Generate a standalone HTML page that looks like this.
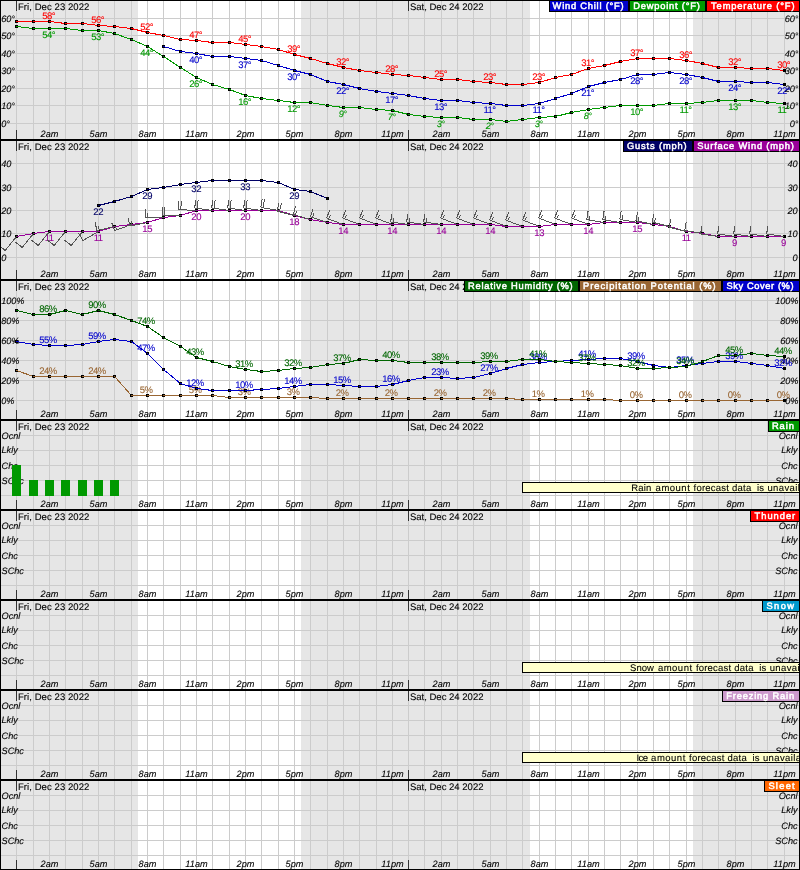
<!DOCTYPE html>
<html><head><meta charset="utf-8"><title>Hourly Weather Forecast Graph</title>
<style>html,body{margin:0;padding:0;background:#fff;}body{width:800px;height:870px;overflow:hidden;font-family:"Liberation Sans",sans-serif;}</style>
</head><body>
<svg width="800" height="870" viewBox="0 0 800 870" style="display:block;will-change:transform;font-family:'Liberation Sans',sans-serif" text-rendering="geometricPrecision">
<rect x="0" y="0" width="800" height="870" fill="#fff"/>
<rect x="0" y="0" width="800" height="140" fill="#fff"/>
<rect x="1" y="1" width="137" height="138" fill="#e6e6e6"/>
<rect x="301" y="1" width="229" height="138" fill="#e6e6e6"/>
<rect x="693" y="1" width="106" height="138" fill="#e6e6e6"/>
<rect x="16" y="1" width="1" height="138" fill="#cccccc"/>
<rect x="33" y="1" width="1" height="138" fill="#cccccc"/>
<rect x="49" y="1" width="1" height="138" fill="#cccccc"/>
<rect x="65" y="1" width="1" height="138" fill="#cccccc"/>
<rect x="82" y="1" width="1" height="138" fill="#cccccc"/>
<rect x="98" y="1" width="1" height="138" fill="#cccccc"/>
<rect x="114" y="1" width="1" height="138" fill="#cccccc"/>
<rect x="131" y="1" width="1" height="138" fill="#cccccc"/>
<rect x="147" y="1" width="1" height="138" fill="#cccccc"/>
<rect x="163" y="1" width="1" height="138" fill="#cccccc"/>
<rect x="180" y="1" width="1" height="138" fill="#cccccc"/>
<rect x="196" y="1" width="1" height="138" fill="#cccccc"/>
<rect x="212" y="1" width="1" height="138" fill="#cccccc"/>
<rect x="229" y="1" width="1" height="138" fill="#cccccc"/>
<rect x="245" y="1" width="1" height="138" fill="#cccccc"/>
<rect x="261" y="1" width="1" height="138" fill="#cccccc"/>
<rect x="278" y="1" width="1" height="138" fill="#cccccc"/>
<rect x="294" y="1" width="1" height="138" fill="#cccccc"/>
<rect x="310" y="1" width="1" height="138" fill="#cccccc"/>
<rect x="327" y="1" width="1" height="138" fill="#cccccc"/>
<rect x="343" y="1" width="1" height="138" fill="#cccccc"/>
<rect x="359" y="1" width="1" height="138" fill="#cccccc"/>
<rect x="376" y="1" width="1" height="138" fill="#cccccc"/>
<rect x="392" y="1" width="1" height="138" fill="#cccccc"/>
<rect x="408" y="1" width="1" height="138" fill="#cccccc"/>
<rect x="424" y="1" width="1" height="138" fill="#cccccc"/>
<rect x="441" y="1" width="1" height="138" fill="#cccccc"/>
<rect x="457" y="1" width="1" height="138" fill="#cccccc"/>
<rect x="473" y="1" width="1" height="138" fill="#cccccc"/>
<rect x="490" y="1" width="1" height="138" fill="#cccccc"/>
<rect x="506" y="1" width="1" height="138" fill="#cccccc"/>
<rect x="522" y="1" width="1" height="138" fill="#cccccc"/>
<rect x="539" y="1" width="1" height="138" fill="#cccccc"/>
<rect x="555" y="1" width="1" height="138" fill="#cccccc"/>
<rect x="571" y="1" width="1" height="138" fill="#cccccc"/>
<rect x="588" y="1" width="1" height="138" fill="#cccccc"/>
<rect x="604" y="1" width="1" height="138" fill="#cccccc"/>
<rect x="620" y="1" width="1" height="138" fill="#cccccc"/>
<rect x="637" y="1" width="1" height="138" fill="#cccccc"/>
<rect x="653" y="1" width="1" height="138" fill="#cccccc"/>
<rect x="669" y="1" width="1" height="138" fill="#cccccc"/>
<rect x="686" y="1" width="1" height="138" fill="#cccccc"/>
<rect x="702" y="1" width="1" height="138" fill="#cccccc"/>
<rect x="718" y="1" width="1" height="138" fill="#cccccc"/>
<rect x="735" y="1" width="1" height="138" fill="#cccccc"/>
<rect x="751" y="1" width="1" height="138" fill="#cccccc"/>
<rect x="767" y="1" width="1" height="138" fill="#cccccc"/>
<rect x="784" y="1" width="1" height="138" fill="#cccccc"/>
<rect x="1" y="123" width="798" height="1" fill="#cccccc"/>
<rect x="1" y="105" width="798" height="1" fill="#cccccc"/>
<rect x="1" y="88" width="798" height="1" fill="#cccccc"/>
<rect x="1" y="70" width="798" height="1" fill="#cccccc"/>
<rect x="1" y="53" width="798" height="1" fill="#cccccc"/>
<rect x="1" y="35" width="798" height="1" fill="#cccccc"/>
<rect x="1" y="18" width="798" height="1" fill="#cccccc"/>
<rect x="16" y="1" width="1" height="10" fill="#333"/>
<rect x="16" y="130" width="1" height="9" fill="#333"/>
<text x="17.9" y="9.7" fill="#000" text-anchor="start" style="font-size:9.5px;stroke:#000;stroke-width:0.1px;" textLength="71.5" lengthAdjust="spacing">Fri, Dec 23 2022</text>
<rect x="408" y="1" width="1" height="10" fill="#333"/>
<rect x="408" y="130" width="1" height="9" fill="#333"/>
<text x="409.9" y="9.7" fill="#000" text-anchor="start" style="font-size:9.5px;stroke:#000;stroke-width:0.1px;" textLength="73.6" lengthAdjust="spacing">Sat, Dec 24 2022</text>
<text x="49.5" y="136.8" fill="#000" text-anchor="middle" style="font-size:9.2px;stroke:#000;stroke-width:0.1px;font-style:italic;">2am</text>
<text x="98.5" y="136.8" fill="#000" text-anchor="middle" style="font-size:9.2px;stroke:#000;stroke-width:0.1px;font-style:italic;">5am</text>
<text x="147.5" y="136.8" fill="#000" text-anchor="middle" style="font-size:9.2px;stroke:#000;stroke-width:0.1px;font-style:italic;">8am</text>
<text x="196.5" y="136.8" fill="#000" text-anchor="middle" style="font-size:9.2px;stroke:#000;stroke-width:0.1px;font-style:italic;">11am</text>
<text x="245.5" y="136.8" fill="#000" text-anchor="middle" style="font-size:9.2px;stroke:#000;stroke-width:0.1px;font-style:italic;">2pm</text>
<text x="294.5" y="136.8" fill="#000" text-anchor="middle" style="font-size:9.2px;stroke:#000;stroke-width:0.1px;font-style:italic;">5pm</text>
<text x="343.5" y="136.8" fill="#000" text-anchor="middle" style="font-size:9.2px;stroke:#000;stroke-width:0.1px;font-style:italic;">8pm</text>
<text x="392.5" y="136.8" fill="#000" text-anchor="middle" style="font-size:9.2px;stroke:#000;stroke-width:0.1px;font-style:italic;">11pm</text>
<text x="441.5" y="136.8" fill="#000" text-anchor="middle" style="font-size:9.2px;stroke:#000;stroke-width:0.1px;font-style:italic;">2am</text>
<text x="490.5" y="136.8" fill="#000" text-anchor="middle" style="font-size:9.2px;stroke:#000;stroke-width:0.1px;font-style:italic;">5am</text>
<text x="539.5" y="136.8" fill="#000" text-anchor="middle" style="font-size:9.2px;stroke:#000;stroke-width:0.1px;font-style:italic;">8am</text>
<text x="588.5" y="136.8" fill="#000" text-anchor="middle" style="font-size:9.2px;stroke:#000;stroke-width:0.1px;font-style:italic;">11am</text>
<text x="637.5" y="136.8" fill="#000" text-anchor="middle" style="font-size:9.2px;stroke:#000;stroke-width:0.1px;font-style:italic;">2pm</text>
<text x="686.5" y="136.8" fill="#000" text-anchor="middle" style="font-size:9.2px;stroke:#000;stroke-width:0.1px;font-style:italic;">5pm</text>
<text x="735.5" y="136.8" fill="#000" text-anchor="middle" style="font-size:9.2px;stroke:#000;stroke-width:0.1px;font-style:italic;">8pm</text>
<text x="784.5" y="136.8" fill="#000" text-anchor="middle" style="font-size:9.2px;stroke:#000;stroke-width:0.1px;font-style:italic;">11pm</text>
<text x="1.3" y="126.9" fill="#000" text-anchor="start" style="font-size:9.2px;stroke:#000;stroke-width:0.1px;font-style:italic;letter-spacing:-0.1px;">0°</text>
<text x="798.4" y="126.9" fill="#000" text-anchor="end" style="font-size:9.2px;stroke:#000;stroke-width:0.1px;font-style:italic;letter-spacing:-0.1px;">0°</text>
<text x="1.3" y="108.9" fill="#000" text-anchor="start" style="font-size:9.2px;stroke:#000;stroke-width:0.1px;font-style:italic;letter-spacing:-0.1px;">10°</text>
<text x="798.4" y="108.9" fill="#000" text-anchor="end" style="font-size:9.2px;stroke:#000;stroke-width:0.1px;font-style:italic;letter-spacing:-0.1px;">10°</text>
<text x="1.3" y="91.9" fill="#000" text-anchor="start" style="font-size:9.2px;stroke:#000;stroke-width:0.1px;font-style:italic;letter-spacing:-0.1px;">20°</text>
<text x="798.4" y="91.9" fill="#000" text-anchor="end" style="font-size:9.2px;stroke:#000;stroke-width:0.1px;font-style:italic;letter-spacing:-0.1px;">20°</text>
<text x="1.3" y="73.9" fill="#000" text-anchor="start" style="font-size:9.2px;stroke:#000;stroke-width:0.1px;font-style:italic;letter-spacing:-0.1px;">30°</text>
<text x="798.4" y="73.9" fill="#000" text-anchor="end" style="font-size:9.2px;stroke:#000;stroke-width:0.1px;font-style:italic;letter-spacing:-0.1px;">30°</text>
<text x="1.3" y="56.9" fill="#000" text-anchor="start" style="font-size:9.2px;stroke:#000;stroke-width:0.1px;font-style:italic;letter-spacing:-0.1px;">40°</text>
<text x="798.4" y="56.9" fill="#000" text-anchor="end" style="font-size:9.2px;stroke:#000;stroke-width:0.1px;font-style:italic;letter-spacing:-0.1px;">40°</text>
<text x="1.3" y="38.9" fill="#000" text-anchor="start" style="font-size:9.2px;stroke:#000;stroke-width:0.1px;font-style:italic;letter-spacing:-0.1px;">50°</text>
<text x="798.4" y="38.9" fill="#000" text-anchor="end" style="font-size:9.2px;stroke:#000;stroke-width:0.1px;font-style:italic;letter-spacing:-0.1px;">50°</text>
<text x="1.3" y="21.9" fill="#000" text-anchor="start" style="font-size:9.2px;stroke:#000;stroke-width:0.1px;font-style:italic;letter-spacing:-0.1px;">60°</text>
<text x="798.4" y="21.9" fill="#000" text-anchor="end" style="font-size:9.2px;stroke:#000;stroke-width:0.1px;font-style:italic;letter-spacing:-0.1px;">60°</text>
<polyline points="16.5,26.5 33.5,28.5 49.5,28.5 65.5,28.5 82.5,30.5 98.5,30.5 114.5,33.5 131.5,39.5 147.5,46.5 163.5,56.5 180.5,67.5 196.5,77.5 212.5,84.5 229.5,89.5 245.5,95.5 261.5,98.5 278.5,100.5 294.5,102.5 310.5,102.5 327.5,105.5 343.5,107.5 359.5,107.5 376.5,109.5 392.5,110.5 408.5,114.5 424.5,116.5 441.5,117.5 457.5,117.5 473.5,119.5 490.5,119.5 506.5,121.5 522.5,119.5 539.5,117.5 555.5,116.5 571.5,112.5 588.5,109.5 604.5,107.5 620.5,105.5 637.5,105.5 653.5,105.5 669.5,103.5 686.5,103.5 702.5,102.5 718.5,100.5 735.5,100.5 751.5,100.5 767.5,102.5 784.5,103.5" fill="none" stroke="#009900" stroke-width="1" shape-rendering="crispEdges"/>
<rect x="15" y="25" width="3" height="3" fill="#000"/>
<rect x="32" y="27" width="3" height="3" fill="#000"/>
<rect x="48" y="27" width="3" height="3" fill="#000"/>
<rect x="64" y="27" width="3" height="3" fill="#000"/>
<rect x="81" y="29" width="3" height="3" fill="#000"/>
<rect x="97" y="29" width="3" height="3" fill="#000"/>
<rect x="113" y="32" width="3" height="3" fill="#000"/>
<rect x="130" y="38" width="3" height="3" fill="#000"/>
<rect x="146" y="45" width="3" height="3" fill="#000"/>
<rect x="162" y="55" width="3" height="3" fill="#000"/>
<rect x="179" y="66" width="3" height="3" fill="#000"/>
<rect x="195" y="76" width="3" height="3" fill="#000"/>
<rect x="211" y="83" width="3" height="3" fill="#000"/>
<rect x="228" y="88" width="3" height="3" fill="#000"/>
<rect x="244" y="94" width="3" height="3" fill="#000"/>
<rect x="260" y="97" width="3" height="3" fill="#000"/>
<rect x="277" y="99" width="3" height="3" fill="#000"/>
<rect x="293" y="101" width="3" height="3" fill="#000"/>
<rect x="309" y="101" width="3" height="3" fill="#000"/>
<rect x="326" y="104" width="3" height="3" fill="#000"/>
<rect x="342" y="106" width="3" height="3" fill="#000"/>
<rect x="358" y="106" width="3" height="3" fill="#000"/>
<rect x="375" y="108" width="3" height="3" fill="#000"/>
<rect x="391" y="109" width="3" height="3" fill="#000"/>
<rect x="407" y="113" width="3" height="3" fill="#000"/>
<rect x="423" y="115" width="3" height="3" fill="#000"/>
<rect x="440" y="116" width="3" height="3" fill="#000"/>
<rect x="456" y="116" width="3" height="3" fill="#000"/>
<rect x="472" y="118" width="3" height="3" fill="#000"/>
<rect x="489" y="118" width="3" height="3" fill="#000"/>
<rect x="505" y="120" width="3" height="3" fill="#000"/>
<rect x="521" y="118" width="3" height="3" fill="#000"/>
<rect x="538" y="116" width="3" height="3" fill="#000"/>
<rect x="554" y="115" width="3" height="3" fill="#000"/>
<rect x="570" y="111" width="3" height="3" fill="#000"/>
<rect x="587" y="108" width="3" height="3" fill="#000"/>
<rect x="603" y="106" width="3" height="3" fill="#000"/>
<rect x="619" y="104" width="3" height="3" fill="#000"/>
<rect x="636" y="104" width="3" height="3" fill="#000"/>
<rect x="652" y="104" width="3" height="3" fill="#000"/>
<rect x="668" y="102" width="3" height="3" fill="#000"/>
<rect x="685" y="102" width="3" height="3" fill="#000"/>
<rect x="701" y="101" width="3" height="3" fill="#000"/>
<rect x="717" y="99" width="3" height="3" fill="#000"/>
<rect x="734" y="99" width="3" height="3" fill="#000"/>
<rect x="750" y="99" width="3" height="3" fill="#000"/>
<rect x="766" y="101" width="3" height="3" fill="#000"/>
<rect x="783" y="102" width="3" height="3" fill="#000"/>
<rect x="16" y="26" width="1" height="1" fill="#009900"/>
<rect x="17" y="26" width="1" height="1" fill="#009900"/>
<rect x="33" y="28" width="1" height="1" fill="#009900"/>
<rect x="34" y="28" width="1" height="1" fill="#009900"/>
<rect x="49" y="28" width="1" height="1" fill="#009900"/>
<rect x="50" y="28" width="1" height="1" fill="#009900"/>
<rect x="65" y="28" width="1" height="1" fill="#009900"/>
<rect x="66" y="28" width="1" height="1" fill="#009900"/>
<rect x="82" y="30" width="1" height="1" fill="#009900"/>
<rect x="83" y="30" width="1" height="1" fill="#009900"/>
<rect x="98" y="30" width="1" height="1" fill="#009900"/>
<rect x="99" y="30" width="1" height="1" fill="#009900"/>
<rect x="114" y="33" width="1" height="1" fill="#009900"/>
<rect x="115" y="33" width="1" height="1" fill="#009900"/>
<rect x="131" y="39" width="1" height="1" fill="#009900"/>
<rect x="132" y="39" width="1" height="1" fill="#009900"/>
<rect x="147" y="46" width="1" height="1" fill="#009900"/>
<rect x="148" y="47" width="1" height="1" fill="#009900"/>
<rect x="163" y="56" width="1" height="1" fill="#009900"/>
<rect x="164" y="57" width="1" height="1" fill="#009900"/>
<rect x="180" y="67" width="1" height="1" fill="#009900"/>
<rect x="181" y="68" width="1" height="1" fill="#009900"/>
<rect x="196" y="77" width="1" height="1" fill="#009900"/>
<rect x="197" y="77" width="1" height="1" fill="#009900"/>
<rect x="212" y="84" width="1" height="1" fill="#009900"/>
<rect x="213" y="84" width="1" height="1" fill="#009900"/>
<rect x="229" y="89" width="1" height="1" fill="#009900"/>
<rect x="230" y="89" width="1" height="1" fill="#009900"/>
<rect x="245" y="95" width="1" height="1" fill="#009900"/>
<rect x="246" y="95" width="1" height="1" fill="#009900"/>
<rect x="261" y="98" width="1" height="1" fill="#009900"/>
<rect x="262" y="98" width="1" height="1" fill="#009900"/>
<rect x="278" y="100" width="1" height="1" fill="#009900"/>
<rect x="279" y="100" width="1" height="1" fill="#009900"/>
<rect x="294" y="102" width="1" height="1" fill="#009900"/>
<rect x="295" y="102" width="1" height="1" fill="#009900"/>
<rect x="310" y="102" width="1" height="1" fill="#009900"/>
<rect x="311" y="102" width="1" height="1" fill="#009900"/>
<rect x="327" y="105" width="1" height="1" fill="#009900"/>
<rect x="328" y="105" width="1" height="1" fill="#009900"/>
<rect x="343" y="107" width="1" height="1" fill="#009900"/>
<rect x="344" y="107" width="1" height="1" fill="#009900"/>
<rect x="359" y="107" width="1" height="1" fill="#009900"/>
<rect x="360" y="107" width="1" height="1" fill="#009900"/>
<rect x="376" y="109" width="1" height="1" fill="#009900"/>
<rect x="377" y="109" width="1" height="1" fill="#009900"/>
<rect x="392" y="110" width="1" height="1" fill="#009900"/>
<rect x="393" y="110" width="1" height="1" fill="#009900"/>
<rect x="408" y="114" width="1" height="1" fill="#009900"/>
<rect x="409" y="114" width="1" height="1" fill="#009900"/>
<rect x="424" y="116" width="1" height="1" fill="#009900"/>
<rect x="425" y="116" width="1" height="1" fill="#009900"/>
<rect x="441" y="117" width="1" height="1" fill="#009900"/>
<rect x="442" y="117" width="1" height="1" fill="#009900"/>
<rect x="457" y="117" width="1" height="1" fill="#009900"/>
<rect x="458" y="117" width="1" height="1" fill="#009900"/>
<rect x="473" y="119" width="1" height="1" fill="#009900"/>
<rect x="474" y="119" width="1" height="1" fill="#009900"/>
<rect x="490" y="119" width="1" height="1" fill="#009900"/>
<rect x="491" y="119" width="1" height="1" fill="#009900"/>
<rect x="506" y="121" width="1" height="1" fill="#009900"/>
<rect x="507" y="121" width="1" height="1" fill="#009900"/>
<rect x="522" y="119" width="1" height="1" fill="#009900"/>
<rect x="523" y="119" width="1" height="1" fill="#009900"/>
<rect x="539" y="117" width="1" height="1" fill="#009900"/>
<rect x="540" y="117" width="1" height="1" fill="#009900"/>
<rect x="555" y="116" width="1" height="1" fill="#009900"/>
<rect x="556" y="116" width="1" height="1" fill="#009900"/>
<rect x="571" y="112" width="1" height="1" fill="#009900"/>
<rect x="572" y="112" width="1" height="1" fill="#009900"/>
<rect x="588" y="109" width="1" height="1" fill="#009900"/>
<rect x="589" y="109" width="1" height="1" fill="#009900"/>
<rect x="604" y="107" width="1" height="1" fill="#009900"/>
<rect x="605" y="107" width="1" height="1" fill="#009900"/>
<rect x="620" y="105" width="1" height="1" fill="#009900"/>
<rect x="621" y="105" width="1" height="1" fill="#009900"/>
<rect x="637" y="105" width="1" height="1" fill="#009900"/>
<rect x="638" y="105" width="1" height="1" fill="#009900"/>
<rect x="653" y="105" width="1" height="1" fill="#009900"/>
<rect x="654" y="105" width="1" height="1" fill="#009900"/>
<rect x="669" y="103" width="1" height="1" fill="#009900"/>
<rect x="670" y="103" width="1" height="1" fill="#009900"/>
<rect x="686" y="103" width="1" height="1" fill="#009900"/>
<rect x="687" y="103" width="1" height="1" fill="#009900"/>
<rect x="702" y="102" width="1" height="1" fill="#009900"/>
<rect x="703" y="102" width="1" height="1" fill="#009900"/>
<rect x="718" y="100" width="1" height="1" fill="#009900"/>
<rect x="719" y="100" width="1" height="1" fill="#009900"/>
<rect x="735" y="100" width="1" height="1" fill="#009900"/>
<rect x="736" y="100" width="1" height="1" fill="#009900"/>
<rect x="751" y="100" width="1" height="1" fill="#009900"/>
<rect x="752" y="100" width="1" height="1" fill="#009900"/>
<rect x="767" y="102" width="1" height="1" fill="#009900"/>
<rect x="768" y="102" width="1" height="1" fill="#009900"/>
<text x="48.6" y="37.6" fill="#009900" text-anchor="middle" style="font-size:9.5px;stroke:#009900;stroke-width:0.1px;letter-spacing:-0.5px;">54°</text>
<text x="97.6" y="39.6" fill="#009900" text-anchor="middle" style="font-size:9.5px;stroke:#009900;stroke-width:0.1px;letter-spacing:-0.5px;">53°</text>
<text x="146.6" y="55.6" fill="#009900" text-anchor="middle" style="font-size:9.5px;stroke:#009900;stroke-width:0.1px;letter-spacing:-0.5px;">44°</text>
<text x="195.6" y="86.6" fill="#009900" text-anchor="middle" style="font-size:9.5px;stroke:#009900;stroke-width:0.1px;letter-spacing:-0.5px;">26°</text>
<text x="244.6" y="104.6" fill="#009900" text-anchor="middle" style="font-size:9.5px;stroke:#009900;stroke-width:0.1px;letter-spacing:-0.5px;">16°</text>
<text x="293.6" y="111.6" fill="#009900" text-anchor="middle" style="font-size:9.5px;stroke:#009900;stroke-width:0.1px;letter-spacing:-0.5px;">12°</text>
<text x="342.6" y="116.6" fill="#009900" text-anchor="middle" style="font-size:9.2px;stroke:#009900;stroke-width:0.1px;font-style:italic;letter-spacing:-0.5px;">9°</text>
<text x="391.6" y="119.6" fill="#009900" text-anchor="middle" style="font-size:9.2px;stroke:#009900;stroke-width:0.1px;font-style:italic;letter-spacing:-0.5px;">7°</text>
<text x="440.6" y="126.6" fill="#009900" text-anchor="middle" style="font-size:9.2px;stroke:#009900;stroke-width:0.1px;font-style:italic;letter-spacing:-0.5px;">3°</text>
<text x="489.6" y="128.6" fill="#009900" text-anchor="middle" style="font-size:9.2px;stroke:#009900;stroke-width:0.1px;font-style:italic;letter-spacing:-0.5px;">2°</text>
<text x="538.6" y="126.6" fill="#009900" text-anchor="middle" style="font-size:9.2px;stroke:#009900;stroke-width:0.1px;font-style:italic;letter-spacing:-0.5px;">3°</text>
<text x="587.6" y="118.6" fill="#009900" text-anchor="middle" style="font-size:9.2px;stroke:#009900;stroke-width:0.1px;font-style:italic;letter-spacing:-0.5px;">8°</text>
<text x="636.6" y="114.6" fill="#009900" text-anchor="middle" style="font-size:9.5px;stroke:#009900;stroke-width:0.1px;letter-spacing:-0.5px;">10°</text>
<text x="685.6" y="112.6" fill="#009900" text-anchor="middle" style="font-size:9.5px;stroke:#009900;stroke-width:0.1px;letter-spacing:-0.5px;">11°</text>
<text x="734.6" y="109.6" fill="#009900" text-anchor="middle" style="font-size:9.5px;stroke:#009900;stroke-width:0.1px;letter-spacing:-0.5px;">13°</text>
<text x="783.6" y="112.6" fill="#009900" text-anchor="middle" style="font-size:9.5px;stroke:#009900;stroke-width:0.1px;letter-spacing:-0.5px;">11°</text>
<polyline points="163.5,46.5 180.5,51.5 196.5,53.5 212.5,56.5 229.5,56.5 245.5,58.5 261.5,60.5 278.5,65.5 294.5,70.5 310.5,74.5 327.5,81.5 343.5,84.5 359.5,88.5 376.5,91.5 392.5,93.5 408.5,95.5 424.5,98.5 441.5,100.5 457.5,100.5 473.5,102.5 490.5,103.5 506.5,105.5 522.5,105.5 539.5,103.5 555.5,98.5 571.5,93.5 588.5,86.5 604.5,82.5 620.5,79.5 637.5,74.5 653.5,74.5 669.5,72.5 686.5,74.5 702.5,77.5 718.5,81.5 735.5,81.5 751.5,82.5 767.5,82.5 784.5,84.5" fill="none" stroke="#0000cc" stroke-width="1" shape-rendering="crispEdges"/>
<rect x="162" y="45" width="3" height="3" fill="#000"/>
<rect x="179" y="50" width="3" height="3" fill="#000"/>
<rect x="195" y="52" width="3" height="3" fill="#000"/>
<rect x="211" y="55" width="3" height="3" fill="#000"/>
<rect x="228" y="55" width="3" height="3" fill="#000"/>
<rect x="244" y="57" width="3" height="3" fill="#000"/>
<rect x="260" y="59" width="3" height="3" fill="#000"/>
<rect x="277" y="64" width="3" height="3" fill="#000"/>
<rect x="293" y="69" width="3" height="3" fill="#000"/>
<rect x="309" y="73" width="3" height="3" fill="#000"/>
<rect x="326" y="80" width="3" height="3" fill="#000"/>
<rect x="342" y="83" width="3" height="3" fill="#000"/>
<rect x="358" y="87" width="3" height="3" fill="#000"/>
<rect x="375" y="90" width="3" height="3" fill="#000"/>
<rect x="391" y="92" width="3" height="3" fill="#000"/>
<rect x="407" y="94" width="3" height="3" fill="#000"/>
<rect x="423" y="97" width="3" height="3" fill="#000"/>
<rect x="440" y="99" width="3" height="3" fill="#000"/>
<rect x="456" y="99" width="3" height="3" fill="#000"/>
<rect x="472" y="101" width="3" height="3" fill="#000"/>
<rect x="489" y="102" width="3" height="3" fill="#000"/>
<rect x="505" y="104" width="3" height="3" fill="#000"/>
<rect x="521" y="104" width="3" height="3" fill="#000"/>
<rect x="538" y="102" width="3" height="3" fill="#000"/>
<rect x="554" y="97" width="3" height="3" fill="#000"/>
<rect x="570" y="92" width="3" height="3" fill="#000"/>
<rect x="587" y="85" width="3" height="3" fill="#000"/>
<rect x="603" y="81" width="3" height="3" fill="#000"/>
<rect x="619" y="78" width="3" height="3" fill="#000"/>
<rect x="636" y="73" width="3" height="3" fill="#000"/>
<rect x="652" y="73" width="3" height="3" fill="#000"/>
<rect x="668" y="71" width="3" height="3" fill="#000"/>
<rect x="685" y="73" width="3" height="3" fill="#000"/>
<rect x="701" y="76" width="3" height="3" fill="#000"/>
<rect x="717" y="80" width="3" height="3" fill="#000"/>
<rect x="734" y="80" width="3" height="3" fill="#000"/>
<rect x="750" y="81" width="3" height="3" fill="#000"/>
<rect x="766" y="81" width="3" height="3" fill="#000"/>
<rect x="783" y="83" width="3" height="3" fill="#000"/>
<rect x="163" y="46" width="1" height="1" fill="#0000cc"/>
<rect x="164" y="46" width="1" height="1" fill="#0000cc"/>
<rect x="180" y="51" width="1" height="1" fill="#0000cc"/>
<rect x="181" y="51" width="1" height="1" fill="#0000cc"/>
<rect x="196" y="53" width="1" height="1" fill="#0000cc"/>
<rect x="197" y="53" width="1" height="1" fill="#0000cc"/>
<rect x="212" y="56" width="1" height="1" fill="#0000cc"/>
<rect x="213" y="56" width="1" height="1" fill="#0000cc"/>
<rect x="229" y="56" width="1" height="1" fill="#0000cc"/>
<rect x="230" y="56" width="1" height="1" fill="#0000cc"/>
<rect x="245" y="58" width="1" height="1" fill="#0000cc"/>
<rect x="246" y="58" width="1" height="1" fill="#0000cc"/>
<rect x="261" y="60" width="1" height="1" fill="#0000cc"/>
<rect x="262" y="60" width="1" height="1" fill="#0000cc"/>
<rect x="278" y="65" width="1" height="1" fill="#0000cc"/>
<rect x="279" y="65" width="1" height="1" fill="#0000cc"/>
<rect x="294" y="70" width="1" height="1" fill="#0000cc"/>
<rect x="295" y="70" width="1" height="1" fill="#0000cc"/>
<rect x="310" y="74" width="1" height="1" fill="#0000cc"/>
<rect x="311" y="74" width="1" height="1" fill="#0000cc"/>
<rect x="327" y="81" width="1" height="1" fill="#0000cc"/>
<rect x="328" y="81" width="1" height="1" fill="#0000cc"/>
<rect x="343" y="84" width="1" height="1" fill="#0000cc"/>
<rect x="344" y="84" width="1" height="1" fill="#0000cc"/>
<rect x="359" y="88" width="1" height="1" fill="#0000cc"/>
<rect x="360" y="88" width="1" height="1" fill="#0000cc"/>
<rect x="376" y="91" width="1" height="1" fill="#0000cc"/>
<rect x="377" y="91" width="1" height="1" fill="#0000cc"/>
<rect x="392" y="93" width="1" height="1" fill="#0000cc"/>
<rect x="393" y="93" width="1" height="1" fill="#0000cc"/>
<rect x="408" y="95" width="1" height="1" fill="#0000cc"/>
<rect x="409" y="95" width="1" height="1" fill="#0000cc"/>
<rect x="424" y="98" width="1" height="1" fill="#0000cc"/>
<rect x="425" y="98" width="1" height="1" fill="#0000cc"/>
<rect x="441" y="100" width="1" height="1" fill="#0000cc"/>
<rect x="442" y="100" width="1" height="1" fill="#0000cc"/>
<rect x="457" y="100" width="1" height="1" fill="#0000cc"/>
<rect x="458" y="100" width="1" height="1" fill="#0000cc"/>
<rect x="473" y="102" width="1" height="1" fill="#0000cc"/>
<rect x="474" y="102" width="1" height="1" fill="#0000cc"/>
<rect x="490" y="103" width="1" height="1" fill="#0000cc"/>
<rect x="491" y="103" width="1" height="1" fill="#0000cc"/>
<rect x="506" y="105" width="1" height="1" fill="#0000cc"/>
<rect x="507" y="105" width="1" height="1" fill="#0000cc"/>
<rect x="522" y="105" width="1" height="1" fill="#0000cc"/>
<rect x="523" y="105" width="1" height="1" fill="#0000cc"/>
<rect x="539" y="103" width="1" height="1" fill="#0000cc"/>
<rect x="540" y="103" width="1" height="1" fill="#0000cc"/>
<rect x="555" y="98" width="1" height="1" fill="#0000cc"/>
<rect x="556" y="98" width="1" height="1" fill="#0000cc"/>
<rect x="571" y="93" width="1" height="1" fill="#0000cc"/>
<rect x="572" y="93" width="1" height="1" fill="#0000cc"/>
<rect x="588" y="86" width="1" height="1" fill="#0000cc"/>
<rect x="589" y="86" width="1" height="1" fill="#0000cc"/>
<rect x="604" y="82" width="1" height="1" fill="#0000cc"/>
<rect x="605" y="82" width="1" height="1" fill="#0000cc"/>
<rect x="620" y="79" width="1" height="1" fill="#0000cc"/>
<rect x="621" y="79" width="1" height="1" fill="#0000cc"/>
<rect x="637" y="74" width="1" height="1" fill="#0000cc"/>
<rect x="638" y="74" width="1" height="1" fill="#0000cc"/>
<rect x="653" y="74" width="1" height="1" fill="#0000cc"/>
<rect x="654" y="74" width="1" height="1" fill="#0000cc"/>
<rect x="669" y="72" width="1" height="1" fill="#0000cc"/>
<rect x="670" y="72" width="1" height="1" fill="#0000cc"/>
<rect x="686" y="74" width="1" height="1" fill="#0000cc"/>
<rect x="687" y="74" width="1" height="1" fill="#0000cc"/>
<rect x="702" y="77" width="1" height="1" fill="#0000cc"/>
<rect x="703" y="77" width="1" height="1" fill="#0000cc"/>
<rect x="718" y="81" width="1" height="1" fill="#0000cc"/>
<rect x="719" y="81" width="1" height="1" fill="#0000cc"/>
<rect x="735" y="81" width="1" height="1" fill="#0000cc"/>
<rect x="736" y="81" width="1" height="1" fill="#0000cc"/>
<rect x="751" y="82" width="1" height="1" fill="#0000cc"/>
<rect x="752" y="82" width="1" height="1" fill="#0000cc"/>
<rect x="767" y="82" width="1" height="1" fill="#0000cc"/>
<rect x="768" y="82" width="1" height="1" fill="#0000cc"/>
<text x="195.6" y="62.6" fill="#0000cc" text-anchor="middle" style="font-size:9.5px;stroke:#0000cc;stroke-width:0.1px;letter-spacing:-0.5px;">40°</text>
<text x="244.6" y="67.6" fill="#0000cc" text-anchor="middle" style="font-size:9.5px;stroke:#0000cc;stroke-width:0.1px;letter-spacing:-0.5px;">37°</text>
<text x="293.6" y="79.6" fill="#0000cc" text-anchor="middle" style="font-size:9.5px;stroke:#0000cc;stroke-width:0.1px;letter-spacing:-0.5px;">30°</text>
<text x="342.6" y="93.6" fill="#0000cc" text-anchor="middle" style="font-size:9.5px;stroke:#0000cc;stroke-width:0.1px;letter-spacing:-0.5px;">22°</text>
<text x="391.6" y="102.6" fill="#0000cc" text-anchor="middle" style="font-size:9.5px;stroke:#0000cc;stroke-width:0.1px;letter-spacing:-0.5px;">17°</text>
<text x="440.6" y="109.6" fill="#0000cc" text-anchor="middle" style="font-size:9.5px;stroke:#0000cc;stroke-width:0.1px;letter-spacing:-0.5px;">13°</text>
<text x="489.6" y="112.6" fill="#0000cc" text-anchor="middle" style="font-size:9.5px;stroke:#0000cc;stroke-width:0.1px;letter-spacing:-0.5px;">11°</text>
<text x="538.6" y="112.6" fill="#0000cc" text-anchor="middle" style="font-size:9.5px;stroke:#0000cc;stroke-width:0.1px;letter-spacing:-0.5px;">11°</text>
<text x="587.6" y="95.6" fill="#0000cc" text-anchor="middle" style="font-size:9.5px;stroke:#0000cc;stroke-width:0.1px;letter-spacing:-0.5px;">21°</text>
<text x="636.6" y="83.6" fill="#0000cc" text-anchor="middle" style="font-size:9.5px;stroke:#0000cc;stroke-width:0.1px;letter-spacing:-0.5px;">28°</text>
<text x="685.6" y="83.6" fill="#0000cc" text-anchor="middle" style="font-size:9.5px;stroke:#0000cc;stroke-width:0.1px;letter-spacing:-0.5px;">28°</text>
<text x="734.6" y="90.6" fill="#0000cc" text-anchor="middle" style="font-size:9.5px;stroke:#0000cc;stroke-width:0.1px;letter-spacing:-0.5px;">24°</text>
<text x="783.6" y="93.6" fill="#0000cc" text-anchor="middle" style="font-size:9.5px;stroke:#0000cc;stroke-width:0.1px;letter-spacing:-0.5px;">22°</text>
<polyline points="16.5,21.5 33.5,21.5 49.5,21.5 65.5,23.5 82.5,23.5 98.5,25.5 114.5,26.5 131.5,28.5 147.5,32.5 163.5,35.5 180.5,39.5 196.5,40.5 212.5,42.5 229.5,42.5 245.5,44.5 261.5,46.5 278.5,49.5 294.5,54.5 310.5,58.5 327.5,63.5 343.5,67.5 359.5,70.5 376.5,72.5 392.5,74.5 408.5,75.5 424.5,77.5 441.5,79.5 457.5,79.5 473.5,81.5 490.5,82.5 506.5,84.5 522.5,84.5 539.5,82.5 555.5,77.5 571.5,74.5 588.5,68.5 604.5,65.5 620.5,61.5 637.5,58.5 653.5,58.5 669.5,58.5 686.5,60.5 702.5,63.5 718.5,67.5 735.5,67.5 751.5,68.5 767.5,68.5 784.5,70.5" fill="none" stroke="#ff0000" stroke-width="1" shape-rendering="crispEdges"/>
<rect x="15" y="20" width="3" height="3" fill="#000"/>
<rect x="32" y="20" width="3" height="3" fill="#000"/>
<rect x="48" y="20" width="3" height="3" fill="#000"/>
<rect x="64" y="22" width="3" height="3" fill="#000"/>
<rect x="81" y="22" width="3" height="3" fill="#000"/>
<rect x="97" y="24" width="3" height="3" fill="#000"/>
<rect x="113" y="25" width="3" height="3" fill="#000"/>
<rect x="130" y="27" width="3" height="3" fill="#000"/>
<rect x="146" y="31" width="3" height="3" fill="#000"/>
<rect x="162" y="34" width="3" height="3" fill="#000"/>
<rect x="179" y="38" width="3" height="3" fill="#000"/>
<rect x="195" y="39" width="3" height="3" fill="#000"/>
<rect x="211" y="41" width="3" height="3" fill="#000"/>
<rect x="228" y="41" width="3" height="3" fill="#000"/>
<rect x="244" y="43" width="3" height="3" fill="#000"/>
<rect x="260" y="45" width="3" height="3" fill="#000"/>
<rect x="277" y="48" width="3" height="3" fill="#000"/>
<rect x="293" y="53" width="3" height="3" fill="#000"/>
<rect x="309" y="57" width="3" height="3" fill="#000"/>
<rect x="326" y="62" width="3" height="3" fill="#000"/>
<rect x="342" y="66" width="3" height="3" fill="#000"/>
<rect x="358" y="69" width="3" height="3" fill="#000"/>
<rect x="375" y="71" width="3" height="3" fill="#000"/>
<rect x="391" y="73" width="3" height="3" fill="#000"/>
<rect x="407" y="74" width="3" height="3" fill="#000"/>
<rect x="423" y="76" width="3" height="3" fill="#000"/>
<rect x="440" y="78" width="3" height="3" fill="#000"/>
<rect x="456" y="78" width="3" height="3" fill="#000"/>
<rect x="472" y="80" width="3" height="3" fill="#000"/>
<rect x="489" y="81" width="3" height="3" fill="#000"/>
<rect x="505" y="83" width="3" height="3" fill="#000"/>
<rect x="521" y="83" width="3" height="3" fill="#000"/>
<rect x="538" y="81" width="3" height="3" fill="#000"/>
<rect x="554" y="76" width="3" height="3" fill="#000"/>
<rect x="570" y="73" width="3" height="3" fill="#000"/>
<rect x="587" y="67" width="3" height="3" fill="#000"/>
<rect x="603" y="64" width="3" height="3" fill="#000"/>
<rect x="619" y="60" width="3" height="3" fill="#000"/>
<rect x="636" y="57" width="3" height="3" fill="#000"/>
<rect x="652" y="57" width="3" height="3" fill="#000"/>
<rect x="668" y="57" width="3" height="3" fill="#000"/>
<rect x="685" y="59" width="3" height="3" fill="#000"/>
<rect x="701" y="62" width="3" height="3" fill="#000"/>
<rect x="717" y="66" width="3" height="3" fill="#000"/>
<rect x="734" y="66" width="3" height="3" fill="#000"/>
<rect x="750" y="67" width="3" height="3" fill="#000"/>
<rect x="766" y="67" width="3" height="3" fill="#000"/>
<rect x="783" y="69" width="3" height="3" fill="#000"/>
<rect x="16" y="21" width="1" height="1" fill="#ff0000"/>
<rect x="17" y="21" width="1" height="1" fill="#ff0000"/>
<rect x="33" y="21" width="1" height="1" fill="#ff0000"/>
<rect x="34" y="21" width="1" height="1" fill="#ff0000"/>
<rect x="49" y="21" width="1" height="1" fill="#ff0000"/>
<rect x="50" y="21" width="1" height="1" fill="#ff0000"/>
<rect x="65" y="23" width="1" height="1" fill="#ff0000"/>
<rect x="66" y="23" width="1" height="1" fill="#ff0000"/>
<rect x="82" y="23" width="1" height="1" fill="#ff0000"/>
<rect x="83" y="23" width="1" height="1" fill="#ff0000"/>
<rect x="98" y="25" width="1" height="1" fill="#ff0000"/>
<rect x="99" y="25" width="1" height="1" fill="#ff0000"/>
<rect x="114" y="26" width="1" height="1" fill="#ff0000"/>
<rect x="115" y="26" width="1" height="1" fill="#ff0000"/>
<rect x="131" y="28" width="1" height="1" fill="#ff0000"/>
<rect x="132" y="28" width="1" height="1" fill="#ff0000"/>
<rect x="147" y="32" width="1" height="1" fill="#ff0000"/>
<rect x="148" y="32" width="1" height="1" fill="#ff0000"/>
<rect x="163" y="35" width="1" height="1" fill="#ff0000"/>
<rect x="164" y="35" width="1" height="1" fill="#ff0000"/>
<rect x="180" y="39" width="1" height="1" fill="#ff0000"/>
<rect x="181" y="39" width="1" height="1" fill="#ff0000"/>
<rect x="196" y="40" width="1" height="1" fill="#ff0000"/>
<rect x="197" y="40" width="1" height="1" fill="#ff0000"/>
<rect x="212" y="42" width="1" height="1" fill="#ff0000"/>
<rect x="213" y="42" width="1" height="1" fill="#ff0000"/>
<rect x="229" y="42" width="1" height="1" fill="#ff0000"/>
<rect x="230" y="42" width="1" height="1" fill="#ff0000"/>
<rect x="245" y="44" width="1" height="1" fill="#ff0000"/>
<rect x="246" y="44" width="1" height="1" fill="#ff0000"/>
<rect x="261" y="46" width="1" height="1" fill="#ff0000"/>
<rect x="262" y="46" width="1" height="1" fill="#ff0000"/>
<rect x="278" y="49" width="1" height="1" fill="#ff0000"/>
<rect x="279" y="49" width="1" height="1" fill="#ff0000"/>
<rect x="294" y="54" width="1" height="1" fill="#ff0000"/>
<rect x="295" y="54" width="1" height="1" fill="#ff0000"/>
<rect x="310" y="58" width="1" height="1" fill="#ff0000"/>
<rect x="311" y="58" width="1" height="1" fill="#ff0000"/>
<rect x="327" y="63" width="1" height="1" fill="#ff0000"/>
<rect x="328" y="63" width="1" height="1" fill="#ff0000"/>
<rect x="343" y="67" width="1" height="1" fill="#ff0000"/>
<rect x="344" y="67" width="1" height="1" fill="#ff0000"/>
<rect x="359" y="70" width="1" height="1" fill="#ff0000"/>
<rect x="360" y="70" width="1" height="1" fill="#ff0000"/>
<rect x="376" y="72" width="1" height="1" fill="#ff0000"/>
<rect x="377" y="72" width="1" height="1" fill="#ff0000"/>
<rect x="392" y="74" width="1" height="1" fill="#ff0000"/>
<rect x="393" y="74" width="1" height="1" fill="#ff0000"/>
<rect x="408" y="75" width="1" height="1" fill="#ff0000"/>
<rect x="409" y="75" width="1" height="1" fill="#ff0000"/>
<rect x="424" y="77" width="1" height="1" fill="#ff0000"/>
<rect x="425" y="77" width="1" height="1" fill="#ff0000"/>
<rect x="441" y="79" width="1" height="1" fill="#ff0000"/>
<rect x="442" y="79" width="1" height="1" fill="#ff0000"/>
<rect x="457" y="79" width="1" height="1" fill="#ff0000"/>
<rect x="458" y="79" width="1" height="1" fill="#ff0000"/>
<rect x="473" y="81" width="1" height="1" fill="#ff0000"/>
<rect x="474" y="81" width="1" height="1" fill="#ff0000"/>
<rect x="490" y="82" width="1" height="1" fill="#ff0000"/>
<rect x="491" y="82" width="1" height="1" fill="#ff0000"/>
<rect x="506" y="84" width="1" height="1" fill="#ff0000"/>
<rect x="507" y="84" width="1" height="1" fill="#ff0000"/>
<rect x="522" y="84" width="1" height="1" fill="#ff0000"/>
<rect x="523" y="84" width="1" height="1" fill="#ff0000"/>
<rect x="539" y="82" width="1" height="1" fill="#ff0000"/>
<rect x="540" y="82" width="1" height="1" fill="#ff0000"/>
<rect x="555" y="77" width="1" height="1" fill="#ff0000"/>
<rect x="556" y="77" width="1" height="1" fill="#ff0000"/>
<rect x="571" y="74" width="1" height="1" fill="#ff0000"/>
<rect x="572" y="74" width="1" height="1" fill="#ff0000"/>
<rect x="588" y="68" width="1" height="1" fill="#ff0000"/>
<rect x="589" y="68" width="1" height="1" fill="#ff0000"/>
<rect x="604" y="65" width="1" height="1" fill="#ff0000"/>
<rect x="605" y="65" width="1" height="1" fill="#ff0000"/>
<rect x="620" y="61" width="1" height="1" fill="#ff0000"/>
<rect x="621" y="61" width="1" height="1" fill="#ff0000"/>
<rect x="637" y="58" width="1" height="1" fill="#ff0000"/>
<rect x="638" y="58" width="1" height="1" fill="#ff0000"/>
<rect x="653" y="58" width="1" height="1" fill="#ff0000"/>
<rect x="654" y="58" width="1" height="1" fill="#ff0000"/>
<rect x="669" y="58" width="1" height="1" fill="#ff0000"/>
<rect x="670" y="58" width="1" height="1" fill="#ff0000"/>
<rect x="686" y="60" width="1" height="1" fill="#ff0000"/>
<rect x="687" y="60" width="1" height="1" fill="#ff0000"/>
<rect x="702" y="63" width="1" height="1" fill="#ff0000"/>
<rect x="703" y="63" width="1" height="1" fill="#ff0000"/>
<rect x="718" y="67" width="1" height="1" fill="#ff0000"/>
<rect x="719" y="67" width="1" height="1" fill="#ff0000"/>
<rect x="735" y="67" width="1" height="1" fill="#ff0000"/>
<rect x="736" y="67" width="1" height="1" fill="#ff0000"/>
<rect x="751" y="68" width="1" height="1" fill="#ff0000"/>
<rect x="752" y="68" width="1" height="1" fill="#ff0000"/>
<rect x="767" y="68" width="1" height="1" fill="#ff0000"/>
<rect x="768" y="68" width="1" height="1" fill="#ff0000"/>
<text x="48.6" y="18.8" fill="#ff0000" text-anchor="middle" style="font-size:9.5px;stroke:#ff0000;stroke-width:0.1px;letter-spacing:-0.5px;">58°</text>
<text x="97.6" y="22.8" fill="#ff0000" text-anchor="middle" style="font-size:9.5px;stroke:#ff0000;stroke-width:0.1px;letter-spacing:-0.5px;">56°</text>
<text x="146.6" y="29.8" fill="#ff0000" text-anchor="middle" style="font-size:9.5px;stroke:#ff0000;stroke-width:0.1px;letter-spacing:-0.5px;">52°</text>
<text x="195.6" y="37.8" fill="#ff0000" text-anchor="middle" style="font-size:9.5px;stroke:#ff0000;stroke-width:0.1px;letter-spacing:-0.5px;">47°</text>
<text x="244.6" y="41.8" fill="#ff0000" text-anchor="middle" style="font-size:9.5px;stroke:#ff0000;stroke-width:0.1px;letter-spacing:-0.5px;">45°</text>
<text x="293.6" y="51.8" fill="#ff0000" text-anchor="middle" style="font-size:9.5px;stroke:#ff0000;stroke-width:0.1px;letter-spacing:-0.5px;">39°</text>
<text x="342.6" y="64.8" fill="#ff0000" text-anchor="middle" style="font-size:9.5px;stroke:#ff0000;stroke-width:0.1px;letter-spacing:-0.5px;">32°</text>
<text x="391.6" y="71.8" fill="#ff0000" text-anchor="middle" style="font-size:9.5px;stroke:#ff0000;stroke-width:0.1px;letter-spacing:-0.5px;">28°</text>
<text x="440.6" y="76.8" fill="#ff0000" text-anchor="middle" style="font-size:9.5px;stroke:#ff0000;stroke-width:0.1px;letter-spacing:-0.5px;">25°</text>
<text x="489.6" y="79.8" fill="#ff0000" text-anchor="middle" style="font-size:9.5px;stroke:#ff0000;stroke-width:0.1px;letter-spacing:-0.5px;">23°</text>
<text x="538.6" y="79.8" fill="#ff0000" text-anchor="middle" style="font-size:9.5px;stroke:#ff0000;stroke-width:0.1px;letter-spacing:-0.5px;">23°</text>
<text x="587.6" y="65.8" fill="#ff0000" text-anchor="middle" style="font-size:9.5px;stroke:#ff0000;stroke-width:0.1px;letter-spacing:-0.5px;">31°</text>
<text x="636.6" y="55.8" fill="#ff0000" text-anchor="middle" style="font-size:9.5px;stroke:#ff0000;stroke-width:0.1px;letter-spacing:-0.5px;">37°</text>
<text x="685.6" y="57.8" fill="#ff0000" text-anchor="middle" style="font-size:9.5px;stroke:#ff0000;stroke-width:0.1px;letter-spacing:-0.5px;">36°</text>
<text x="734.6" y="64.8" fill="#ff0000" text-anchor="middle" style="font-size:9.5px;stroke:#ff0000;stroke-width:0.1px;letter-spacing:-0.5px;">32°</text>
<text x="783.6" y="67.8" fill="#ff0000" text-anchor="middle" style="font-size:9.5px;stroke:#ff0000;stroke-width:0.1px;letter-spacing:-0.5px;">30°</text>
<rect x="549" y="0" width="80" height="12" fill="#000"/>
<rect x="550" y="1" width="78" height="10" fill="#0000cc"/>
<text x="552.6" y="9.1" fill="#fff" text-anchor="start" style="font-size:9.3px;stroke:#fff;stroke-width:0.5px;" textLength="71" lengthAdjust="spacing">Wind Chill (°F)</text>
<rect x="629" y="0" width="77" height="12" fill="#000"/>
<rect x="630" y="1" width="75" height="10" fill="#009900"/>
<text x="633.25" y="9.1" fill="#fff" text-anchor="start" style="font-size:9.3px;stroke:#fff;stroke-width:0.5px;" textLength="66.5" lengthAdjust="spacing">Dewpoint (°F)</text>
<rect x="706" y="0" width="94" height="12" fill="#000"/>
<rect x="707" y="1" width="92" height="10" fill="#ff0000"/>
<text x="711.1" y="9.1" fill="#fff" text-anchor="start" style="font-size:9.3px;stroke:#fff;stroke-width:0.5px;" textLength="83.4" lengthAdjust="spacing">Temperature (°F)</text>
<rect x="0" y="0" width="800" height="1" fill="#000"/>
<rect x="0" y="139" width="800" height="1" fill="#000"/>
<rect x="0" y="0" width="1" height="140" fill="#000"/>
<rect x="799" y="0" width="1" height="140" fill="#000"/>
<rect x="0" y="140" width="800" height="140" fill="#fff"/>
<rect x="1" y="141" width="137" height="138" fill="#e6e6e6"/>
<rect x="301" y="141" width="229" height="138" fill="#e6e6e6"/>
<rect x="693" y="141" width="106" height="138" fill="#e6e6e6"/>
<rect x="16" y="141" width="1" height="138" fill="#cccccc"/>
<rect x="33" y="141" width="1" height="138" fill="#cccccc"/>
<rect x="49" y="141" width="1" height="138" fill="#cccccc"/>
<rect x="65" y="141" width="1" height="138" fill="#cccccc"/>
<rect x="82" y="141" width="1" height="138" fill="#cccccc"/>
<rect x="98" y="141" width="1" height="138" fill="#cccccc"/>
<rect x="114" y="141" width="1" height="138" fill="#cccccc"/>
<rect x="131" y="141" width="1" height="138" fill="#cccccc"/>
<rect x="147" y="141" width="1" height="138" fill="#cccccc"/>
<rect x="163" y="141" width="1" height="138" fill="#cccccc"/>
<rect x="180" y="141" width="1" height="138" fill="#cccccc"/>
<rect x="196" y="141" width="1" height="138" fill="#cccccc"/>
<rect x="212" y="141" width="1" height="138" fill="#cccccc"/>
<rect x="229" y="141" width="1" height="138" fill="#cccccc"/>
<rect x="245" y="141" width="1" height="138" fill="#cccccc"/>
<rect x="261" y="141" width="1" height="138" fill="#cccccc"/>
<rect x="278" y="141" width="1" height="138" fill="#cccccc"/>
<rect x="294" y="141" width="1" height="138" fill="#cccccc"/>
<rect x="310" y="141" width="1" height="138" fill="#cccccc"/>
<rect x="327" y="141" width="1" height="138" fill="#cccccc"/>
<rect x="343" y="141" width="1" height="138" fill="#cccccc"/>
<rect x="359" y="141" width="1" height="138" fill="#cccccc"/>
<rect x="376" y="141" width="1" height="138" fill="#cccccc"/>
<rect x="392" y="141" width="1" height="138" fill="#cccccc"/>
<rect x="408" y="141" width="1" height="138" fill="#cccccc"/>
<rect x="424" y="141" width="1" height="138" fill="#cccccc"/>
<rect x="441" y="141" width="1" height="138" fill="#cccccc"/>
<rect x="457" y="141" width="1" height="138" fill="#cccccc"/>
<rect x="473" y="141" width="1" height="138" fill="#cccccc"/>
<rect x="490" y="141" width="1" height="138" fill="#cccccc"/>
<rect x="506" y="141" width="1" height="138" fill="#cccccc"/>
<rect x="522" y="141" width="1" height="138" fill="#cccccc"/>
<rect x="539" y="141" width="1" height="138" fill="#cccccc"/>
<rect x="555" y="141" width="1" height="138" fill="#cccccc"/>
<rect x="571" y="141" width="1" height="138" fill="#cccccc"/>
<rect x="588" y="141" width="1" height="138" fill="#cccccc"/>
<rect x="604" y="141" width="1" height="138" fill="#cccccc"/>
<rect x="620" y="141" width="1" height="138" fill="#cccccc"/>
<rect x="637" y="141" width="1" height="138" fill="#cccccc"/>
<rect x="653" y="141" width="1" height="138" fill="#cccccc"/>
<rect x="669" y="141" width="1" height="138" fill="#cccccc"/>
<rect x="686" y="141" width="1" height="138" fill="#cccccc"/>
<rect x="702" y="141" width="1" height="138" fill="#cccccc"/>
<rect x="718" y="141" width="1" height="138" fill="#cccccc"/>
<rect x="735" y="141" width="1" height="138" fill="#cccccc"/>
<rect x="751" y="141" width="1" height="138" fill="#cccccc"/>
<rect x="767" y="141" width="1" height="138" fill="#cccccc"/>
<rect x="784" y="141" width="1" height="138" fill="#cccccc"/>
<rect x="1" y="257" width="798" height="1" fill="#cccccc"/>
<rect x="1" y="233" width="798" height="1" fill="#cccccc"/>
<rect x="1" y="210" width="798" height="1" fill="#cccccc"/>
<rect x="1" y="187" width="798" height="1" fill="#cccccc"/>
<rect x="1" y="163" width="798" height="1" fill="#cccccc"/>
<rect x="16" y="141" width="1" height="10" fill="#333"/>
<rect x="16" y="270" width="1" height="9" fill="#333"/>
<text x="17.9" y="149.7" fill="#000" text-anchor="start" style="font-size:9.5px;stroke:#000;stroke-width:0.1px;" textLength="71.5" lengthAdjust="spacing">Fri, Dec 23 2022</text>
<rect x="408" y="141" width="1" height="10" fill="#333"/>
<rect x="408" y="270" width="1" height="9" fill="#333"/>
<text x="409.9" y="149.7" fill="#000" text-anchor="start" style="font-size:9.5px;stroke:#000;stroke-width:0.1px;" textLength="73.6" lengthAdjust="spacing">Sat, Dec 24 2022</text>
<text x="49.5" y="276.8" fill="#000" text-anchor="middle" style="font-size:9.2px;stroke:#000;stroke-width:0.1px;font-style:italic;">2am</text>
<text x="98.5" y="276.8" fill="#000" text-anchor="middle" style="font-size:9.2px;stroke:#000;stroke-width:0.1px;font-style:italic;">5am</text>
<text x="147.5" y="276.8" fill="#000" text-anchor="middle" style="font-size:9.2px;stroke:#000;stroke-width:0.1px;font-style:italic;">8am</text>
<text x="196.5" y="276.8" fill="#000" text-anchor="middle" style="font-size:9.2px;stroke:#000;stroke-width:0.1px;font-style:italic;">11am</text>
<text x="245.5" y="276.8" fill="#000" text-anchor="middle" style="font-size:9.2px;stroke:#000;stroke-width:0.1px;font-style:italic;">2pm</text>
<text x="294.5" y="276.8" fill="#000" text-anchor="middle" style="font-size:9.2px;stroke:#000;stroke-width:0.1px;font-style:italic;">5pm</text>
<text x="343.5" y="276.8" fill="#000" text-anchor="middle" style="font-size:9.2px;stroke:#000;stroke-width:0.1px;font-style:italic;">8pm</text>
<text x="392.5" y="276.8" fill="#000" text-anchor="middle" style="font-size:9.2px;stroke:#000;stroke-width:0.1px;font-style:italic;">11pm</text>
<text x="441.5" y="276.8" fill="#000" text-anchor="middle" style="font-size:9.2px;stroke:#000;stroke-width:0.1px;font-style:italic;">2am</text>
<text x="490.5" y="276.8" fill="#000" text-anchor="middle" style="font-size:9.2px;stroke:#000;stroke-width:0.1px;font-style:italic;">5am</text>
<text x="539.5" y="276.8" fill="#000" text-anchor="middle" style="font-size:9.2px;stroke:#000;stroke-width:0.1px;font-style:italic;">8am</text>
<text x="588.5" y="276.8" fill="#000" text-anchor="middle" style="font-size:9.2px;stroke:#000;stroke-width:0.1px;font-style:italic;">11am</text>
<text x="637.5" y="276.8" fill="#000" text-anchor="middle" style="font-size:9.2px;stroke:#000;stroke-width:0.1px;font-style:italic;">2pm</text>
<text x="686.5" y="276.8" fill="#000" text-anchor="middle" style="font-size:9.2px;stroke:#000;stroke-width:0.1px;font-style:italic;">5pm</text>
<text x="735.5" y="276.8" fill="#000" text-anchor="middle" style="font-size:9.2px;stroke:#000;stroke-width:0.1px;font-style:italic;">8pm</text>
<text x="784.5" y="276.8" fill="#000" text-anchor="middle" style="font-size:9.2px;stroke:#000;stroke-width:0.1px;font-style:italic;">11pm</text>
<text x="1.3" y="260.9" fill="#000" text-anchor="start" style="font-size:9.2px;stroke:#000;stroke-width:0.1px;font-style:italic;letter-spacing:-0.1px;">0</text>
<text x="797.5" y="260.9" fill="#000" text-anchor="end" style="font-size:9.2px;stroke:#000;stroke-width:0.1px;font-style:italic;letter-spacing:-0.1px;">0</text>
<text x="1.3" y="236.9" fill="#000" text-anchor="start" style="font-size:9.2px;stroke:#000;stroke-width:0.1px;font-style:italic;letter-spacing:-0.1px;">10</text>
<text x="797.5" y="236.9" fill="#000" text-anchor="end" style="font-size:9.2px;stroke:#000;stroke-width:0.1px;font-style:italic;letter-spacing:-0.1px;">10</text>
<text x="1.3" y="213.9" fill="#000" text-anchor="start" style="font-size:9.2px;stroke:#000;stroke-width:0.1px;font-style:italic;letter-spacing:-0.1px;">20</text>
<text x="797.5" y="213.9" fill="#000" text-anchor="end" style="font-size:9.2px;stroke:#000;stroke-width:0.1px;font-style:italic;letter-spacing:-0.1px;">20</text>
<text x="1.3" y="190.9" fill="#000" text-anchor="start" style="font-size:9.2px;stroke:#000;stroke-width:0.1px;font-style:italic;letter-spacing:-0.1px;">30</text>
<text x="797.5" y="190.9" fill="#000" text-anchor="end" style="font-size:9.2px;stroke:#000;stroke-width:0.1px;font-style:italic;letter-spacing:-0.1px;">30</text>
<text x="1.3" y="166.9" fill="#000" text-anchor="start" style="font-size:9.2px;stroke:#000;stroke-width:0.1px;font-style:italic;letter-spacing:-0.1px;">40</text>
<text x="797.5" y="166.9" fill="#000" text-anchor="end" style="font-size:9.2px;stroke:#000;stroke-width:0.1px;font-style:italic;letter-spacing:-0.1px;">40</text>
<polyline points="98.5,205.5 114.5,201.5 131.5,196.5 147.5,189.5 163.5,187.5 180.5,184.5 196.5,182.5 212.5,180.5 229.5,180.5 245.5,180.5 261.5,180.5 278.5,182.5 294.5,189.5 310.5,191.5 327.5,198.5" fill="none" stroke="#000066" stroke-width="1" shape-rendering="crispEdges"/>
<rect x="97" y="204" width="3" height="3" fill="#000"/>
<rect x="113" y="200" width="3" height="3" fill="#000"/>
<rect x="130" y="195" width="3" height="3" fill="#000"/>
<rect x="146" y="188" width="3" height="3" fill="#000"/>
<rect x="162" y="186" width="3" height="3" fill="#000"/>
<rect x="179" y="183" width="3" height="3" fill="#000"/>
<rect x="195" y="181" width="3" height="3" fill="#000"/>
<rect x="211" y="179" width="3" height="3" fill="#000"/>
<rect x="228" y="179" width="3" height="3" fill="#000"/>
<rect x="244" y="179" width="3" height="3" fill="#000"/>
<rect x="260" y="179" width="3" height="3" fill="#000"/>
<rect x="277" y="181" width="3" height="3" fill="#000"/>
<rect x="293" y="188" width="3" height="3" fill="#000"/>
<rect x="309" y="190" width="3" height="3" fill="#000"/>
<rect x="326" y="197" width="3" height="3" fill="#000"/>
<rect x="98" y="205" width="1" height="1" fill="#000066"/>
<rect x="99" y="205" width="1" height="1" fill="#000066"/>
<rect x="114" y="201" width="1" height="1" fill="#000066"/>
<rect x="115" y="201" width="1" height="1" fill="#000066"/>
<rect x="131" y="196" width="1" height="1" fill="#000066"/>
<rect x="132" y="196" width="1" height="1" fill="#000066"/>
<rect x="147" y="189" width="1" height="1" fill="#000066"/>
<rect x="148" y="189" width="1" height="1" fill="#000066"/>
<rect x="163" y="187" width="1" height="1" fill="#000066"/>
<rect x="164" y="187" width="1" height="1" fill="#000066"/>
<rect x="180" y="184" width="1" height="1" fill="#000066"/>
<rect x="181" y="184" width="1" height="1" fill="#000066"/>
<rect x="196" y="182" width="1" height="1" fill="#000066"/>
<rect x="197" y="182" width="1" height="1" fill="#000066"/>
<rect x="212" y="180" width="1" height="1" fill="#000066"/>
<rect x="213" y="180" width="1" height="1" fill="#000066"/>
<rect x="229" y="180" width="1" height="1" fill="#000066"/>
<rect x="230" y="180" width="1" height="1" fill="#000066"/>
<rect x="245" y="180" width="1" height="1" fill="#000066"/>
<rect x="246" y="180" width="1" height="1" fill="#000066"/>
<rect x="261" y="180" width="1" height="1" fill="#000066"/>
<rect x="262" y="180" width="1" height="1" fill="#000066"/>
<rect x="278" y="182" width="1" height="1" fill="#000066"/>
<rect x="279" y="182" width="1" height="1" fill="#000066"/>
<rect x="294" y="189" width="1" height="1" fill="#000066"/>
<rect x="295" y="189" width="1" height="1" fill="#000066"/>
<rect x="310" y="191" width="1" height="1" fill="#000066"/>
<rect x="311" y="191" width="1" height="1" fill="#000066"/>
<text x="98.15" y="214.6" fill="#000066" text-anchor="middle" style="font-size:9.5px;stroke:#000066;stroke-width:0.1px;letter-spacing:-0.5px;">22</text>
<text x="147.15" y="198.6" fill="#000066" text-anchor="middle" style="font-size:9.5px;stroke:#000066;stroke-width:0.1px;letter-spacing:-0.5px;">29</text>
<text x="196.15" y="191.6" fill="#000066" text-anchor="middle" style="font-size:9.5px;stroke:#000066;stroke-width:0.1px;letter-spacing:-0.5px;">32</text>
<text x="245.15" y="189.6" fill="#000066" text-anchor="middle" style="font-size:9.5px;stroke:#000066;stroke-width:0.1px;letter-spacing:-0.5px;">33</text>
<text x="294.15" y="198.6" fill="#000066" text-anchor="middle" style="font-size:9.5px;stroke:#000066;stroke-width:0.1px;letter-spacing:-0.5px;">29</text>
<polyline points="16.5,236.5 33.5,233.5 49.5,231.5 65.5,231.5 82.5,231.5 98.5,231.5 114.5,226.5 131.5,224.5 147.5,222.5 163.5,217.5 180.5,215.5 196.5,210.5 212.5,210.5 229.5,210.5 245.5,210.5 261.5,210.5 278.5,210.5 294.5,215.5 310.5,219.5 327.5,222.5 343.5,224.5 359.5,224.5 376.5,224.5 392.5,224.5 408.5,224.5 424.5,224.5 441.5,224.5 457.5,224.5 473.5,224.5 490.5,224.5 506.5,226.5 522.5,226.5 539.5,226.5 555.5,224.5 571.5,224.5 588.5,224.5 604.5,222.5 620.5,222.5 637.5,222.5 653.5,224.5 669.5,226.5 686.5,231.5 702.5,233.5 718.5,236.5 735.5,236.5 751.5,236.5 767.5,236.5 784.5,236.5" fill="none" stroke="#990099" stroke-width="1" shape-rendering="crispEdges"/>
<rect x="15" y="235" width="3" height="3" fill="#000"/>
<rect x="32" y="232" width="3" height="3" fill="#000"/>
<rect x="48" y="230" width="3" height="3" fill="#000"/>
<rect x="64" y="230" width="3" height="3" fill="#000"/>
<rect x="81" y="230" width="3" height="3" fill="#000"/>
<rect x="97" y="230" width="3" height="3" fill="#000"/>
<rect x="113" y="225" width="3" height="3" fill="#000"/>
<rect x="130" y="223" width="3" height="3" fill="#000"/>
<rect x="146" y="221" width="3" height="3" fill="#000"/>
<rect x="162" y="216" width="3" height="3" fill="#000"/>
<rect x="179" y="214" width="3" height="3" fill="#000"/>
<rect x="195" y="209" width="3" height="3" fill="#000"/>
<rect x="211" y="209" width="3" height="3" fill="#000"/>
<rect x="228" y="209" width="3" height="3" fill="#000"/>
<rect x="244" y="209" width="3" height="3" fill="#000"/>
<rect x="260" y="209" width="3" height="3" fill="#000"/>
<rect x="277" y="209" width="3" height="3" fill="#000"/>
<rect x="293" y="214" width="3" height="3" fill="#000"/>
<rect x="309" y="218" width="3" height="3" fill="#000"/>
<rect x="326" y="221" width="3" height="3" fill="#000"/>
<rect x="342" y="223" width="3" height="3" fill="#000"/>
<rect x="358" y="223" width="3" height="3" fill="#000"/>
<rect x="375" y="223" width="3" height="3" fill="#000"/>
<rect x="391" y="223" width="3" height="3" fill="#000"/>
<rect x="407" y="223" width="3" height="3" fill="#000"/>
<rect x="423" y="223" width="3" height="3" fill="#000"/>
<rect x="440" y="223" width="3" height="3" fill="#000"/>
<rect x="456" y="223" width="3" height="3" fill="#000"/>
<rect x="472" y="223" width="3" height="3" fill="#000"/>
<rect x="489" y="223" width="3" height="3" fill="#000"/>
<rect x="505" y="225" width="3" height="3" fill="#000"/>
<rect x="521" y="225" width="3" height="3" fill="#000"/>
<rect x="538" y="225" width="3" height="3" fill="#000"/>
<rect x="554" y="223" width="3" height="3" fill="#000"/>
<rect x="570" y="223" width="3" height="3" fill="#000"/>
<rect x="587" y="223" width="3" height="3" fill="#000"/>
<rect x="603" y="221" width="3" height="3" fill="#000"/>
<rect x="619" y="221" width="3" height="3" fill="#000"/>
<rect x="636" y="221" width="3" height="3" fill="#000"/>
<rect x="652" y="223" width="3" height="3" fill="#000"/>
<rect x="668" y="225" width="3" height="3" fill="#000"/>
<rect x="685" y="230" width="3" height="3" fill="#000"/>
<rect x="701" y="232" width="3" height="3" fill="#000"/>
<rect x="717" y="235" width="3" height="3" fill="#000"/>
<rect x="734" y="235" width="3" height="3" fill="#000"/>
<rect x="750" y="235" width="3" height="3" fill="#000"/>
<rect x="766" y="235" width="3" height="3" fill="#000"/>
<rect x="783" y="235" width="3" height="3" fill="#000"/>
<rect x="16" y="236" width="1" height="1" fill="#990099"/>
<rect x="17" y="236" width="1" height="1" fill="#990099"/>
<rect x="33" y="233" width="1" height="1" fill="#990099"/>
<rect x="34" y="233" width="1" height="1" fill="#990099"/>
<rect x="49" y="231" width="1" height="1" fill="#990099"/>
<rect x="50" y="231" width="1" height="1" fill="#990099"/>
<rect x="65" y="231" width="1" height="1" fill="#990099"/>
<rect x="66" y="231" width="1" height="1" fill="#990099"/>
<rect x="82" y="231" width="1" height="1" fill="#990099"/>
<rect x="83" y="231" width="1" height="1" fill="#990099"/>
<rect x="98" y="231" width="1" height="1" fill="#990099"/>
<rect x="99" y="231" width="1" height="1" fill="#990099"/>
<rect x="114" y="226" width="1" height="1" fill="#990099"/>
<rect x="115" y="226" width="1" height="1" fill="#990099"/>
<rect x="131" y="224" width="1" height="1" fill="#990099"/>
<rect x="132" y="224" width="1" height="1" fill="#990099"/>
<rect x="147" y="222" width="1" height="1" fill="#990099"/>
<rect x="148" y="222" width="1" height="1" fill="#990099"/>
<rect x="163" y="217" width="1" height="1" fill="#990099"/>
<rect x="164" y="217" width="1" height="1" fill="#990099"/>
<rect x="180" y="215" width="1" height="1" fill="#990099"/>
<rect x="181" y="215" width="1" height="1" fill="#990099"/>
<rect x="196" y="210" width="1" height="1" fill="#990099"/>
<rect x="197" y="210" width="1" height="1" fill="#990099"/>
<rect x="212" y="210" width="1" height="1" fill="#990099"/>
<rect x="213" y="210" width="1" height="1" fill="#990099"/>
<rect x="229" y="210" width="1" height="1" fill="#990099"/>
<rect x="230" y="210" width="1" height="1" fill="#990099"/>
<rect x="245" y="210" width="1" height="1" fill="#990099"/>
<rect x="246" y="210" width="1" height="1" fill="#990099"/>
<rect x="261" y="210" width="1" height="1" fill="#990099"/>
<rect x="262" y="210" width="1" height="1" fill="#990099"/>
<rect x="278" y="210" width="1" height="1" fill="#990099"/>
<rect x="279" y="210" width="1" height="1" fill="#990099"/>
<rect x="294" y="215" width="1" height="1" fill="#990099"/>
<rect x="295" y="215" width="1" height="1" fill="#990099"/>
<rect x="310" y="219" width="1" height="1" fill="#990099"/>
<rect x="311" y="219" width="1" height="1" fill="#990099"/>
<rect x="327" y="222" width="1" height="1" fill="#990099"/>
<rect x="328" y="222" width="1" height="1" fill="#990099"/>
<rect x="343" y="224" width="1" height="1" fill="#990099"/>
<rect x="344" y="224" width="1" height="1" fill="#990099"/>
<rect x="359" y="224" width="1" height="1" fill="#990099"/>
<rect x="360" y="224" width="1" height="1" fill="#990099"/>
<rect x="376" y="224" width="1" height="1" fill="#990099"/>
<rect x="377" y="224" width="1" height="1" fill="#990099"/>
<rect x="392" y="224" width="1" height="1" fill="#990099"/>
<rect x="393" y="224" width="1" height="1" fill="#990099"/>
<rect x="408" y="224" width="1" height="1" fill="#990099"/>
<rect x="409" y="224" width="1" height="1" fill="#990099"/>
<rect x="424" y="224" width="1" height="1" fill="#990099"/>
<rect x="425" y="224" width="1" height="1" fill="#990099"/>
<rect x="441" y="224" width="1" height="1" fill="#990099"/>
<rect x="442" y="224" width="1" height="1" fill="#990099"/>
<rect x="457" y="224" width="1" height="1" fill="#990099"/>
<rect x="458" y="224" width="1" height="1" fill="#990099"/>
<rect x="473" y="224" width="1" height="1" fill="#990099"/>
<rect x="474" y="224" width="1" height="1" fill="#990099"/>
<rect x="490" y="224" width="1" height="1" fill="#990099"/>
<rect x="491" y="224" width="1" height="1" fill="#990099"/>
<rect x="506" y="226" width="1" height="1" fill="#990099"/>
<rect x="507" y="226" width="1" height="1" fill="#990099"/>
<rect x="522" y="226" width="1" height="1" fill="#990099"/>
<rect x="523" y="226" width="1" height="1" fill="#990099"/>
<rect x="539" y="226" width="1" height="1" fill="#990099"/>
<rect x="540" y="226" width="1" height="1" fill="#990099"/>
<rect x="555" y="224" width="1" height="1" fill="#990099"/>
<rect x="556" y="224" width="1" height="1" fill="#990099"/>
<rect x="571" y="224" width="1" height="1" fill="#990099"/>
<rect x="572" y="224" width="1" height="1" fill="#990099"/>
<rect x="588" y="224" width="1" height="1" fill="#990099"/>
<rect x="589" y="224" width="1" height="1" fill="#990099"/>
<rect x="604" y="222" width="1" height="1" fill="#990099"/>
<rect x="605" y="222" width="1" height="1" fill="#990099"/>
<rect x="620" y="222" width="1" height="1" fill="#990099"/>
<rect x="621" y="222" width="1" height="1" fill="#990099"/>
<rect x="637" y="222" width="1" height="1" fill="#990099"/>
<rect x="638" y="222" width="1" height="1" fill="#990099"/>
<rect x="653" y="224" width="1" height="1" fill="#990099"/>
<rect x="654" y="224" width="1" height="1" fill="#990099"/>
<rect x="669" y="226" width="1" height="1" fill="#990099"/>
<rect x="670" y="226" width="1" height="1" fill="#990099"/>
<rect x="686" y="231" width="1" height="1" fill="#990099"/>
<rect x="687" y="231" width="1" height="1" fill="#990099"/>
<rect x="702" y="233" width="1" height="1" fill="#990099"/>
<rect x="703" y="233" width="1" height="1" fill="#990099"/>
<rect x="718" y="236" width="1" height="1" fill="#990099"/>
<rect x="719" y="236" width="1" height="1" fill="#990099"/>
<rect x="735" y="236" width="1" height="1" fill="#990099"/>
<rect x="736" y="236" width="1" height="1" fill="#990099"/>
<rect x="751" y="236" width="1" height="1" fill="#990099"/>
<rect x="752" y="236" width="1" height="1" fill="#990099"/>
<rect x="767" y="236" width="1" height="1" fill="#990099"/>
<rect x="768" y="236" width="1" height="1" fill="#990099"/>
<text x="49.15" y="240.6" fill="#990099" text-anchor="middle" style="font-size:9.5px;stroke:#990099;stroke-width:0.1px;letter-spacing:-0.5px;">11</text>
<text x="98.15" y="240.6" fill="#990099" text-anchor="middle" style="font-size:9.5px;stroke:#990099;stroke-width:0.1px;letter-spacing:-0.5px;">11</text>
<text x="147.15" y="231.6" fill="#990099" text-anchor="middle" style="font-size:9.5px;stroke:#990099;stroke-width:0.1px;letter-spacing:-0.5px;">15</text>
<text x="196.15" y="219.6" fill="#990099" text-anchor="middle" style="font-size:9.5px;stroke:#990099;stroke-width:0.1px;letter-spacing:-0.5px;">20</text>
<text x="245.15" y="219.6" fill="#990099" text-anchor="middle" style="font-size:9.5px;stroke:#990099;stroke-width:0.1px;letter-spacing:-0.5px;">20</text>
<text x="294.15" y="224.6" fill="#990099" text-anchor="middle" style="font-size:9.5px;stroke:#990099;stroke-width:0.1px;letter-spacing:-0.5px;">18</text>
<text x="343.15" y="233.6" fill="#990099" text-anchor="middle" style="font-size:9.5px;stroke:#990099;stroke-width:0.1px;letter-spacing:-0.5px;">14</text>
<text x="392.15" y="233.6" fill="#990099" text-anchor="middle" style="font-size:9.5px;stroke:#990099;stroke-width:0.1px;letter-spacing:-0.5px;">14</text>
<text x="441.15" y="233.6" fill="#990099" text-anchor="middle" style="font-size:9.5px;stroke:#990099;stroke-width:0.1px;letter-spacing:-0.5px;">14</text>
<text x="490.15" y="233.6" fill="#990099" text-anchor="middle" style="font-size:9.5px;stroke:#990099;stroke-width:0.1px;letter-spacing:-0.5px;">14</text>
<text x="539.15" y="235.6" fill="#990099" text-anchor="middle" style="font-size:9.5px;stroke:#990099;stroke-width:0.1px;letter-spacing:-0.5px;">13</text>
<text x="588.15" y="233.6" fill="#990099" text-anchor="middle" style="font-size:9.5px;stroke:#990099;stroke-width:0.1px;letter-spacing:-0.5px;">14</text>
<text x="637.15" y="231.6" fill="#990099" text-anchor="middle" style="font-size:9.5px;stroke:#990099;stroke-width:0.1px;letter-spacing:-0.5px;">15</text>
<text x="686.15" y="240.6" fill="#990099" text-anchor="middle" style="font-size:9.5px;stroke:#990099;stroke-width:0.1px;letter-spacing:-0.5px;">11</text>
<text x="734.45" y="245.6" fill="#990099" text-anchor="middle" style="font-size:9.5px;stroke:#990099;stroke-width:0.1px;letter-spacing:-0.5px;">9</text>
<text x="783.45" y="245.6" fill="#990099" text-anchor="middle" style="font-size:9.5px;stroke:#990099;stroke-width:0.1px;letter-spacing:-0.5px;">9</text>
<line x1="16.50" y1="236.50" x2="5.17" y2="250.49" stroke="#555" stroke-width="1" shape-rendering="crispEdges"/>
<line x1="5.17" y1="250.49" x2="-1.43" y2="245.14" stroke="#555" stroke-width="1" shape-rendering="crispEdges"/>
<line x1="33.50" y1="233.50" x2="22.17" y2="247.49" stroke="#555" stroke-width="1" shape-rendering="crispEdges"/>
<line x1="22.17" y1="247.49" x2="15.57" y2="242.14" stroke="#555" stroke-width="1" shape-rendering="crispEdges"/>
<line x1="49.50" y1="231.50" x2="38.17" y2="245.49" stroke="#555" stroke-width="1" shape-rendering="crispEdges"/>
<line x1="38.17" y1="245.49" x2="31.57" y2="240.14" stroke="#555" stroke-width="1" shape-rendering="crispEdges"/>
<line x1="65.50" y1="231.50" x2="54.17" y2="245.49" stroke="#555" stroke-width="1" shape-rendering="crispEdges"/>
<line x1="54.17" y1="245.49" x2="47.57" y2="240.14" stroke="#555" stroke-width="1" shape-rendering="crispEdges"/>
<line x1="82.50" y1="231.50" x2="71.17" y2="245.49" stroke="#555" stroke-width="1" shape-rendering="crispEdges"/>
<line x1="71.17" y1="245.49" x2="64.57" y2="240.14" stroke="#555" stroke-width="1" shape-rendering="crispEdges"/>
<line x1="98.50" y1="231.50" x2="82.91" y2="240.50" stroke="#555" stroke-width="1" shape-rendering="crispEdges"/>
<line x1="82.91" y1="240.50" x2="78.66" y2="233.14" stroke="#555" stroke-width="1" shape-rendering="crispEdges"/>
<line x1="114.50" y1="226.50" x2="96.96" y2="230.55" stroke="#555" stroke-width="1" shape-rendering="crispEdges"/>
<line x1="96.96" y1="230.55" x2="95.05" y2="222.27" stroke="#555" stroke-width="1" shape-rendering="crispEdges"/>
<line x1="99.20" y1="230.03" x2="98.19" y2="225.65" stroke="#555" stroke-width="1" shape-rendering="crispEdges"/>
<line x1="131.50" y1="224.50" x2="114.59" y2="230.66" stroke="#555" stroke-width="1" shape-rendering="crispEdges"/>
<line x1="114.59" y1="230.66" x2="111.68" y2="222.67" stroke="#555" stroke-width="1" shape-rendering="crispEdges"/>
<line x1="116.75" y1="229.87" x2="115.21" y2="225.64" stroke="#555" stroke-width="1" shape-rendering="crispEdges"/>
<line x1="147.50" y1="222.50" x2="129.83" y2="225.93" stroke="#555" stroke-width="1" shape-rendering="crispEdges"/>
<line x1="129.83" y1="225.93" x2="128.21" y2="217.59" stroke="#555" stroke-width="1" shape-rendering="crispEdges"/>
<line x1="132.09" y1="225.50" x2="131.23" y2="221.08" stroke="#555" stroke-width="1" shape-rendering="crispEdges"/>
<line x1="163.50" y1="217.50" x2="145.50" y2="217.50" stroke="#555" stroke-width="1" shape-rendering="crispEdges"/>
<line x1="145.50" y1="217.50" x2="145.50" y2="209.00" stroke="#555" stroke-width="1" shape-rendering="crispEdges"/>
<line x1="147.80" y1="217.50" x2="147.80" y2="213.00" stroke="#555" stroke-width="1" shape-rendering="crispEdges"/>
<line x1="180.50" y1="215.50" x2="162.50" y2="215.50" stroke="#555" stroke-width="1" shape-rendering="crispEdges"/>
<line x1="162.50" y1="215.50" x2="162.50" y2="207.00" stroke="#555" stroke-width="1" shape-rendering="crispEdges"/>
<line x1="164.80" y1="215.50" x2="164.80" y2="207.00" stroke="#555" stroke-width="1" shape-rendering="crispEdges"/>
<line x1="196.50" y1="210.50" x2="178.52" y2="209.56" stroke="#555" stroke-width="1" shape-rendering="crispEdges"/>
<line x1="178.52" y1="209.56" x2="178.97" y2="201.07" stroke="#555" stroke-width="1" shape-rendering="crispEdges"/>
<line x1="180.82" y1="209.68" x2="181.27" y2="201.19" stroke="#555" stroke-width="1" shape-rendering="crispEdges"/>
<line x1="212.50" y1="210.50" x2="194.68" y2="207.99" stroke="#555" stroke-width="1" shape-rendering="crispEdges"/>
<line x1="194.68" y1="207.99" x2="195.86" y2="199.58" stroke="#555" stroke-width="1" shape-rendering="crispEdges"/>
<line x1="196.95" y1="208.31" x2="198.14" y2="199.90" stroke="#555" stroke-width="1" shape-rendering="crispEdges"/>
<line x1="229.50" y1="210.50" x2="211.68" y2="207.99" stroke="#555" stroke-width="1" shape-rendering="crispEdges"/>
<line x1="211.68" y1="207.99" x2="212.86" y2="199.58" stroke="#555" stroke-width="1" shape-rendering="crispEdges"/>
<line x1="213.95" y1="208.31" x2="215.14" y2="199.90" stroke="#555" stroke-width="1" shape-rendering="crispEdges"/>
<line x1="245.50" y1="210.50" x2="227.68" y2="207.99" stroke="#555" stroke-width="1" shape-rendering="crispEdges"/>
<line x1="227.68" y1="207.99" x2="228.86" y2="199.58" stroke="#555" stroke-width="1" shape-rendering="crispEdges"/>
<line x1="229.95" y1="208.31" x2="231.14" y2="199.90" stroke="#555" stroke-width="1" shape-rendering="crispEdges"/>
<line x1="261.50" y1="210.50" x2="243.68" y2="207.99" stroke="#555" stroke-width="1" shape-rendering="crispEdges"/>
<line x1="243.68" y1="207.99" x2="244.86" y2="199.58" stroke="#555" stroke-width="1" shape-rendering="crispEdges"/>
<line x1="245.95" y1="208.31" x2="247.14" y2="199.90" stroke="#555" stroke-width="1" shape-rendering="crispEdges"/>
<line x1="278.50" y1="210.50" x2="260.77" y2="207.37" stroke="#555" stroke-width="1" shape-rendering="crispEdges"/>
<line x1="260.77" y1="207.37" x2="262.25" y2="199.00" stroke="#555" stroke-width="1" shape-rendering="crispEdges"/>
<line x1="263.04" y1="207.77" x2="264.51" y2="199.40" stroke="#555" stroke-width="1" shape-rendering="crispEdges"/>
<line x1="294.50" y1="215.50" x2="277.03" y2="211.15" stroke="#555" stroke-width="1" shape-rendering="crispEdges"/>
<line x1="277.03" y1="211.15" x2="279.09" y2="202.90" stroke="#555" stroke-width="1" shape-rendering="crispEdges"/>
<line x1="279.27" y1="211.70" x2="281.32" y2="203.45" stroke="#555" stroke-width="1" shape-rendering="crispEdges"/>
<line x1="310.50" y1="219.50" x2="293.20" y2="214.54" stroke="#555" stroke-width="1" shape-rendering="crispEdges"/>
<line x1="293.20" y1="214.54" x2="295.54" y2="206.37" stroke="#555" stroke-width="1" shape-rendering="crispEdges"/>
<line x1="295.41" y1="215.17" x2="296.65" y2="210.85" stroke="#555" stroke-width="1" shape-rendering="crispEdges"/>
<line x1="327.50" y1="222.50" x2="310.38" y2="216.94" stroke="#555" stroke-width="1" shape-rendering="crispEdges"/>
<line x1="310.38" y1="216.94" x2="313.01" y2="208.85" stroke="#555" stroke-width="1" shape-rendering="crispEdges"/>
<line x1="312.57" y1="217.65" x2="313.96" y2="213.37" stroke="#555" stroke-width="1" shape-rendering="crispEdges"/>
<line x1="343.50" y1="224.50" x2="326.59" y2="218.34" stroke="#555" stroke-width="1" shape-rendering="crispEdges"/>
<line x1="326.59" y1="218.34" x2="329.49" y2="210.36" stroke="#555" stroke-width="1" shape-rendering="crispEdges"/>
<line x1="328.75" y1="219.13" x2="330.29" y2="214.90" stroke="#555" stroke-width="1" shape-rendering="crispEdges"/>
<line x1="359.50" y1="224.50" x2="342.70" y2="218.05" stroke="#555" stroke-width="1" shape-rendering="crispEdges"/>
<line x1="342.70" y1="218.05" x2="345.74" y2="210.11" stroke="#555" stroke-width="1" shape-rendering="crispEdges"/>
<line x1="344.84" y1="218.87" x2="346.46" y2="214.67" stroke="#555" stroke-width="1" shape-rendering="crispEdges"/>
<line x1="376.50" y1="224.50" x2="359.70" y2="218.05" stroke="#555" stroke-width="1" shape-rendering="crispEdges"/>
<line x1="359.70" y1="218.05" x2="362.74" y2="210.11" stroke="#555" stroke-width="1" shape-rendering="crispEdges"/>
<line x1="361.84" y1="218.87" x2="363.46" y2="214.67" stroke="#555" stroke-width="1" shape-rendering="crispEdges"/>
<line x1="392.50" y1="224.50" x2="375.70" y2="218.05" stroke="#555" stroke-width="1" shape-rendering="crispEdges"/>
<line x1="375.70" y1="218.05" x2="378.74" y2="210.11" stroke="#555" stroke-width="1" shape-rendering="crispEdges"/>
<line x1="377.84" y1="218.87" x2="379.46" y2="214.67" stroke="#555" stroke-width="1" shape-rendering="crispEdges"/>
<line x1="408.50" y1="224.50" x2="390.68" y2="221.99" stroke="#555" stroke-width="1" shape-rendering="crispEdges"/>
<line x1="390.68" y1="221.99" x2="391.86" y2="213.58" stroke="#555" stroke-width="1" shape-rendering="crispEdges"/>
<line x1="392.95" y1="222.31" x2="393.58" y2="217.86" stroke="#555" stroke-width="1" shape-rendering="crispEdges"/>
<line x1="424.50" y1="224.50" x2="406.68" y2="221.99" stroke="#555" stroke-width="1" shape-rendering="crispEdges"/>
<line x1="406.68" y1="221.99" x2="407.86" y2="213.58" stroke="#555" stroke-width="1" shape-rendering="crispEdges"/>
<line x1="408.95" y1="222.31" x2="409.58" y2="217.86" stroke="#555" stroke-width="1" shape-rendering="crispEdges"/>
<line x1="441.50" y1="224.50" x2="423.68" y2="221.99" stroke="#555" stroke-width="1" shape-rendering="crispEdges"/>
<line x1="423.68" y1="221.99" x2="424.86" y2="213.58" stroke="#555" stroke-width="1" shape-rendering="crispEdges"/>
<line x1="425.95" y1="222.31" x2="426.58" y2="217.86" stroke="#555" stroke-width="1" shape-rendering="crispEdges"/>
<line x1="457.50" y1="224.50" x2="440.70" y2="218.05" stroke="#555" stroke-width="1" shape-rendering="crispEdges"/>
<line x1="440.70" y1="218.05" x2="443.74" y2="210.11" stroke="#555" stroke-width="1" shape-rendering="crispEdges"/>
<line x1="442.84" y1="218.87" x2="444.46" y2="214.67" stroke="#555" stroke-width="1" shape-rendering="crispEdges"/>
<line x1="473.50" y1="224.50" x2="456.70" y2="218.05" stroke="#555" stroke-width="1" shape-rendering="crispEdges"/>
<line x1="456.70" y1="218.05" x2="459.74" y2="210.11" stroke="#555" stroke-width="1" shape-rendering="crispEdges"/>
<line x1="458.84" y1="218.87" x2="460.46" y2="214.67" stroke="#555" stroke-width="1" shape-rendering="crispEdges"/>
<line x1="490.50" y1="224.50" x2="473.70" y2="218.05" stroke="#555" stroke-width="1" shape-rendering="crispEdges"/>
<line x1="473.70" y1="218.05" x2="476.74" y2="210.11" stroke="#555" stroke-width="1" shape-rendering="crispEdges"/>
<line x1="475.84" y1="218.87" x2="477.46" y2="214.67" stroke="#555" stroke-width="1" shape-rendering="crispEdges"/>
<line x1="506.50" y1="226.50" x2="489.70" y2="220.05" stroke="#555" stroke-width="1" shape-rendering="crispEdges"/>
<line x1="489.70" y1="220.05" x2="492.74" y2="212.11" stroke="#555" stroke-width="1" shape-rendering="crispEdges"/>
<line x1="491.84" y1="220.87" x2="493.46" y2="216.67" stroke="#555" stroke-width="1" shape-rendering="crispEdges"/>
<line x1="522.50" y1="226.50" x2="505.70" y2="220.05" stroke="#555" stroke-width="1" shape-rendering="crispEdges"/>
<line x1="505.70" y1="220.05" x2="508.74" y2="212.11" stroke="#555" stroke-width="1" shape-rendering="crispEdges"/>
<line x1="507.84" y1="220.87" x2="509.46" y2="216.67" stroke="#555" stroke-width="1" shape-rendering="crispEdges"/>
<line x1="539.50" y1="226.50" x2="522.70" y2="220.05" stroke="#555" stroke-width="1" shape-rendering="crispEdges"/>
<line x1="522.70" y1="220.05" x2="525.74" y2="212.11" stroke="#555" stroke-width="1" shape-rendering="crispEdges"/>
<line x1="524.84" y1="220.87" x2="526.46" y2="216.67" stroke="#555" stroke-width="1" shape-rendering="crispEdges"/>
<line x1="555.50" y1="224.50" x2="538.70" y2="218.05" stroke="#555" stroke-width="1" shape-rendering="crispEdges"/>
<line x1="538.70" y1="218.05" x2="541.74" y2="210.11" stroke="#555" stroke-width="1" shape-rendering="crispEdges"/>
<line x1="540.84" y1="218.87" x2="542.46" y2="214.67" stroke="#555" stroke-width="1" shape-rendering="crispEdges"/>
<line x1="571.50" y1="224.50" x2="554.70" y2="218.05" stroke="#555" stroke-width="1" shape-rendering="crispEdges"/>
<line x1="554.70" y1="218.05" x2="557.74" y2="210.11" stroke="#555" stroke-width="1" shape-rendering="crispEdges"/>
<line x1="556.84" y1="218.87" x2="558.46" y2="214.67" stroke="#555" stroke-width="1" shape-rendering="crispEdges"/>
<line x1="588.50" y1="224.50" x2="571.70" y2="218.05" stroke="#555" stroke-width="1" shape-rendering="crispEdges"/>
<line x1="571.70" y1="218.05" x2="574.74" y2="210.11" stroke="#555" stroke-width="1" shape-rendering="crispEdges"/>
<line x1="573.84" y1="218.87" x2="575.46" y2="214.67" stroke="#555" stroke-width="1" shape-rendering="crispEdges"/>
<line x1="604.50" y1="222.50" x2="586.72" y2="219.68" stroke="#555" stroke-width="1" shape-rendering="crispEdges"/>
<line x1="586.72" y1="219.68" x2="588.05" y2="211.29" stroke="#555" stroke-width="1" shape-rendering="crispEdges"/>
<line x1="588.99" y1="220.04" x2="589.70" y2="215.60" stroke="#555" stroke-width="1" shape-rendering="crispEdges"/>
<line x1="620.50" y1="222.50" x2="602.72" y2="219.68" stroke="#555" stroke-width="1" shape-rendering="crispEdges"/>
<line x1="602.72" y1="219.68" x2="604.05" y2="211.29" stroke="#555" stroke-width="1" shape-rendering="crispEdges"/>
<line x1="604.99" y1="220.04" x2="605.70" y2="215.60" stroke="#555" stroke-width="1" shape-rendering="crispEdges"/>
<line x1="637.50" y1="222.50" x2="619.77" y2="219.37" stroke="#555" stroke-width="1" shape-rendering="crispEdges"/>
<line x1="619.77" y1="219.37" x2="621.25" y2="211.00" stroke="#555" stroke-width="1" shape-rendering="crispEdges"/>
<line x1="622.04" y1="219.77" x2="622.82" y2="215.34" stroke="#555" stroke-width="1" shape-rendering="crispEdges"/>
<line x1="653.50" y1="224.50" x2="635.89" y2="220.76" stroke="#555" stroke-width="1" shape-rendering="crispEdges"/>
<line x1="635.89" y1="220.76" x2="637.66" y2="212.44" stroke="#555" stroke-width="1" shape-rendering="crispEdges"/>
<line x1="638.14" y1="221.24" x2="639.08" y2="216.83" stroke="#555" stroke-width="1" shape-rendering="crispEdges"/>
<line x1="669.50" y1="226.50" x2="652.03" y2="222.15" stroke="#555" stroke-width="1" shape-rendering="crispEdges"/>
<line x1="652.03" y1="222.15" x2="654.09" y2="213.90" stroke="#555" stroke-width="1" shape-rendering="crispEdges"/>
<line x1="654.27" y1="222.70" x2="655.36" y2="218.34" stroke="#555" stroke-width="1" shape-rendering="crispEdges"/>
<line x1="686.50" y1="231.50" x2="669.03" y2="227.15" stroke="#555" stroke-width="1" shape-rendering="crispEdges"/>
<line x1="669.03" y1="227.15" x2="671.09" y2="218.90" stroke="#555" stroke-width="1" shape-rendering="crispEdges"/>
<line x1="702.50" y1="233.50" x2="684.77" y2="230.37" stroke="#555" stroke-width="1" shape-rendering="crispEdges"/>
<line x1="684.77" y1="230.37" x2="686.25" y2="222.00" stroke="#555" stroke-width="1" shape-rendering="crispEdges"/>
<line x1="718.50" y1="236.50" x2="700.68" y2="233.99" stroke="#555" stroke-width="1" shape-rendering="crispEdges"/>
<line x1="700.68" y1="233.99" x2="701.86" y2="225.58" stroke="#555" stroke-width="1" shape-rendering="crispEdges"/>
<line x1="735.50" y1="236.50" x2="717.68" y2="233.99" stroke="#555" stroke-width="1" shape-rendering="crispEdges"/>
<line x1="717.68" y1="233.99" x2="718.86" y2="225.58" stroke="#555" stroke-width="1" shape-rendering="crispEdges"/>
<line x1="751.50" y1="236.50" x2="733.68" y2="233.99" stroke="#555" stroke-width="1" shape-rendering="crispEdges"/>
<line x1="733.68" y1="233.99" x2="734.86" y2="225.58" stroke="#555" stroke-width="1" shape-rendering="crispEdges"/>
<line x1="767.50" y1="236.50" x2="749.68" y2="233.99" stroke="#555" stroke-width="1" shape-rendering="crispEdges"/>
<line x1="749.68" y1="233.99" x2="750.86" y2="225.58" stroke="#555" stroke-width="1" shape-rendering="crispEdges"/>
<line x1="784.50" y1="236.50" x2="766.68" y2="233.99" stroke="#555" stroke-width="1" shape-rendering="crispEdges"/>
<line x1="766.68" y1="233.99" x2="767.86" y2="225.58" stroke="#555" stroke-width="1" shape-rendering="crispEdges"/>
<rect x="623" y="140" width="70" height="12" fill="#000"/>
<rect x="624" y="141" width="68" height="10" fill="#000066"/>
<text x="627.0" y="149.1" fill="#fff" text-anchor="start" style="font-size:9.3px;stroke:#fff;stroke-width:0.5px;" textLength="59.7" lengthAdjust="spacing">Gusts (mph)</text>
<rect x="693" y="140" width="107" height="12" fill="#000"/>
<rect x="694" y="141" width="105" height="10" fill="#990099"/>
<text x="697.25" y="149.1" fill="#fff" text-anchor="start" style="font-size:9.3px;stroke:#fff;stroke-width:0.5px;" textLength="96.7" lengthAdjust="spacing">Surface Wind (mph)</text>
<rect x="0" y="140" width="800" height="1" fill="#000"/>
<rect x="0" y="279" width="800" height="1" fill="#000"/>
<rect x="0" y="140" width="1" height="140" fill="#000"/>
<rect x="799" y="140" width="1" height="140" fill="#000"/>
<rect x="0" y="280" width="800" height="140" fill="#fff"/>
<rect x="1" y="281" width="137" height="138" fill="#e6e6e6"/>
<rect x="301" y="281" width="229" height="138" fill="#e6e6e6"/>
<rect x="693" y="281" width="106" height="138" fill="#e6e6e6"/>
<rect x="16" y="281" width="1" height="138" fill="#cccccc"/>
<rect x="33" y="281" width="1" height="138" fill="#cccccc"/>
<rect x="49" y="281" width="1" height="138" fill="#cccccc"/>
<rect x="65" y="281" width="1" height="138" fill="#cccccc"/>
<rect x="82" y="281" width="1" height="138" fill="#cccccc"/>
<rect x="98" y="281" width="1" height="138" fill="#cccccc"/>
<rect x="114" y="281" width="1" height="138" fill="#cccccc"/>
<rect x="131" y="281" width="1" height="138" fill="#cccccc"/>
<rect x="147" y="281" width="1" height="138" fill="#cccccc"/>
<rect x="163" y="281" width="1" height="138" fill="#cccccc"/>
<rect x="180" y="281" width="1" height="138" fill="#cccccc"/>
<rect x="196" y="281" width="1" height="138" fill="#cccccc"/>
<rect x="212" y="281" width="1" height="138" fill="#cccccc"/>
<rect x="229" y="281" width="1" height="138" fill="#cccccc"/>
<rect x="245" y="281" width="1" height="138" fill="#cccccc"/>
<rect x="261" y="281" width="1" height="138" fill="#cccccc"/>
<rect x="278" y="281" width="1" height="138" fill="#cccccc"/>
<rect x="294" y="281" width="1" height="138" fill="#cccccc"/>
<rect x="310" y="281" width="1" height="138" fill="#cccccc"/>
<rect x="327" y="281" width="1" height="138" fill="#cccccc"/>
<rect x="343" y="281" width="1" height="138" fill="#cccccc"/>
<rect x="359" y="281" width="1" height="138" fill="#cccccc"/>
<rect x="376" y="281" width="1" height="138" fill="#cccccc"/>
<rect x="392" y="281" width="1" height="138" fill="#cccccc"/>
<rect x="408" y="281" width="1" height="138" fill="#cccccc"/>
<rect x="424" y="281" width="1" height="138" fill="#cccccc"/>
<rect x="441" y="281" width="1" height="138" fill="#cccccc"/>
<rect x="457" y="281" width="1" height="138" fill="#cccccc"/>
<rect x="473" y="281" width="1" height="138" fill="#cccccc"/>
<rect x="490" y="281" width="1" height="138" fill="#cccccc"/>
<rect x="506" y="281" width="1" height="138" fill="#cccccc"/>
<rect x="522" y="281" width="1" height="138" fill="#cccccc"/>
<rect x="539" y="281" width="1" height="138" fill="#cccccc"/>
<rect x="555" y="281" width="1" height="138" fill="#cccccc"/>
<rect x="571" y="281" width="1" height="138" fill="#cccccc"/>
<rect x="588" y="281" width="1" height="138" fill="#cccccc"/>
<rect x="604" y="281" width="1" height="138" fill="#cccccc"/>
<rect x="620" y="281" width="1" height="138" fill="#cccccc"/>
<rect x="637" y="281" width="1" height="138" fill="#cccccc"/>
<rect x="653" y="281" width="1" height="138" fill="#cccccc"/>
<rect x="669" y="281" width="1" height="138" fill="#cccccc"/>
<rect x="686" y="281" width="1" height="138" fill="#cccccc"/>
<rect x="702" y="281" width="1" height="138" fill="#cccccc"/>
<rect x="718" y="281" width="1" height="138" fill="#cccccc"/>
<rect x="735" y="281" width="1" height="138" fill="#cccccc"/>
<rect x="751" y="281" width="1" height="138" fill="#cccccc"/>
<rect x="767" y="281" width="1" height="138" fill="#cccccc"/>
<rect x="784" y="281" width="1" height="138" fill="#cccccc"/>
<rect x="1" y="400" width="798" height="1" fill="#cccccc"/>
<rect x="1" y="380" width="798" height="1" fill="#cccccc"/>
<rect x="1" y="360" width="798" height="1" fill="#cccccc"/>
<rect x="1" y="340" width="798" height="1" fill="#cccccc"/>
<rect x="1" y="320" width="798" height="1" fill="#cccccc"/>
<rect x="1" y="300" width="798" height="1" fill="#cccccc"/>
<rect x="16" y="281" width="1" height="10" fill="#333"/>
<rect x="16" y="410" width="1" height="9" fill="#333"/>
<text x="17.9" y="289.7" fill="#000" text-anchor="start" style="font-size:9.5px;stroke:#000;stroke-width:0.1px;" textLength="71.5" lengthAdjust="spacing">Fri, Dec 23 2022</text>
<rect x="408" y="281" width="1" height="10" fill="#333"/>
<rect x="408" y="410" width="1" height="9" fill="#333"/>
<text x="409.9" y="289.7" fill="#000" text-anchor="start" style="font-size:9.5px;stroke:#000;stroke-width:0.1px;" textLength="73.6" lengthAdjust="spacing">Sat, Dec 24 2022</text>
<text x="49.5" y="416.8" fill="#000" text-anchor="middle" style="font-size:9.2px;stroke:#000;stroke-width:0.1px;font-style:italic;">2am</text>
<text x="98.5" y="416.8" fill="#000" text-anchor="middle" style="font-size:9.2px;stroke:#000;stroke-width:0.1px;font-style:italic;">5am</text>
<text x="147.5" y="416.8" fill="#000" text-anchor="middle" style="font-size:9.2px;stroke:#000;stroke-width:0.1px;font-style:italic;">8am</text>
<text x="196.5" y="416.8" fill="#000" text-anchor="middle" style="font-size:9.2px;stroke:#000;stroke-width:0.1px;font-style:italic;">11am</text>
<text x="245.5" y="416.8" fill="#000" text-anchor="middle" style="font-size:9.2px;stroke:#000;stroke-width:0.1px;font-style:italic;">2pm</text>
<text x="294.5" y="416.8" fill="#000" text-anchor="middle" style="font-size:9.2px;stroke:#000;stroke-width:0.1px;font-style:italic;">5pm</text>
<text x="343.5" y="416.8" fill="#000" text-anchor="middle" style="font-size:9.2px;stroke:#000;stroke-width:0.1px;font-style:italic;">8pm</text>
<text x="392.5" y="416.8" fill="#000" text-anchor="middle" style="font-size:9.2px;stroke:#000;stroke-width:0.1px;font-style:italic;">11pm</text>
<text x="441.5" y="416.8" fill="#000" text-anchor="middle" style="font-size:9.2px;stroke:#000;stroke-width:0.1px;font-style:italic;">2am</text>
<text x="490.5" y="416.8" fill="#000" text-anchor="middle" style="font-size:9.2px;stroke:#000;stroke-width:0.1px;font-style:italic;">5am</text>
<text x="539.5" y="416.8" fill="#000" text-anchor="middle" style="font-size:9.2px;stroke:#000;stroke-width:0.1px;font-style:italic;">8am</text>
<text x="588.5" y="416.8" fill="#000" text-anchor="middle" style="font-size:9.2px;stroke:#000;stroke-width:0.1px;font-style:italic;">11am</text>
<text x="637.5" y="416.8" fill="#000" text-anchor="middle" style="font-size:9.2px;stroke:#000;stroke-width:0.1px;font-style:italic;">2pm</text>
<text x="686.5" y="416.8" fill="#000" text-anchor="middle" style="font-size:9.2px;stroke:#000;stroke-width:0.1px;font-style:italic;">5pm</text>
<text x="735.5" y="416.8" fill="#000" text-anchor="middle" style="font-size:9.2px;stroke:#000;stroke-width:0.1px;font-style:italic;">8pm</text>
<text x="784.5" y="416.8" fill="#000" text-anchor="middle" style="font-size:9.2px;stroke:#000;stroke-width:0.1px;font-style:italic;">11pm</text>
<text x="1.3" y="403.9" fill="#000" text-anchor="start" style="font-size:9.2px;stroke:#000;stroke-width:0.1px;font-style:italic;letter-spacing:-0.1px;">0%</text>
<text x="798.4" y="403.9" fill="#000" text-anchor="end" style="font-size:9.2px;stroke:#000;stroke-width:0.1px;font-style:italic;letter-spacing:-0.1px;">0%</text>
<text x="1.3" y="383.9" fill="#000" text-anchor="start" style="font-size:9.2px;stroke:#000;stroke-width:0.1px;font-style:italic;letter-spacing:-0.1px;">20%</text>
<text x="798.4" y="383.9" fill="#000" text-anchor="end" style="font-size:9.2px;stroke:#000;stroke-width:0.1px;font-style:italic;letter-spacing:-0.1px;">20%</text>
<text x="1.3" y="363.9" fill="#000" text-anchor="start" style="font-size:9.2px;stroke:#000;stroke-width:0.1px;font-style:italic;letter-spacing:-0.1px;">40%</text>
<text x="798.4" y="363.9" fill="#000" text-anchor="end" style="font-size:9.2px;stroke:#000;stroke-width:0.1px;font-style:italic;letter-spacing:-0.1px;">40%</text>
<text x="1.3" y="343.9" fill="#000" text-anchor="start" style="font-size:9.2px;stroke:#000;stroke-width:0.1px;font-style:italic;letter-spacing:-0.1px;">60%</text>
<text x="798.4" y="343.9" fill="#000" text-anchor="end" style="font-size:9.2px;stroke:#000;stroke-width:0.1px;font-style:italic;letter-spacing:-0.1px;">60%</text>
<text x="1.3" y="323.9" fill="#000" text-anchor="start" style="font-size:9.2px;stroke:#000;stroke-width:0.1px;font-style:italic;letter-spacing:-0.1px;">80%</text>
<text x="798.4" y="323.9" fill="#000" text-anchor="end" style="font-size:9.2px;stroke:#000;stroke-width:0.1px;font-style:italic;letter-spacing:-0.1px;">80%</text>
<text x="1.3" y="303.9" fill="#000" text-anchor="start" style="font-size:9.2px;stroke:#000;stroke-width:0.1px;font-style:italic;letter-spacing:-0.1px;">100%</text>
<text x="798.4" y="303.9" fill="#000" text-anchor="end" style="font-size:9.2px;stroke:#000;stroke-width:0.1px;font-style:italic;letter-spacing:-0.1px;">100%</text>
<polyline points="16.5,370.5 33.5,376.5 49.5,376.5 65.5,376.5 82.5,376.5 98.5,376.5 114.5,376.5 131.5,395.5 147.5,395.5 163.5,395.5 180.5,395.5 196.5,395.5 212.5,395.5 229.5,397.5 245.5,397.5 261.5,397.5 278.5,397.5 294.5,397.5 310.5,397.5 327.5,398.5 343.5,398.5 359.5,398.5 376.5,398.5 392.5,398.5 408.5,398.5 424.5,398.5 441.5,398.5 457.5,398.5 473.5,398.5 490.5,398.5 506.5,398.5 522.5,399.5 539.5,399.5 555.5,399.5 571.5,399.5 588.5,399.5 604.5,399.5 620.5,400.5 637.5,400.5 653.5,400.5 669.5,400.5 686.5,400.5 702.5,400.5 718.5,400.5 735.5,400.5 751.5,400.5 767.5,400.5 784.5,400.5" fill="none" stroke="#996633" stroke-width="1" shape-rendering="crispEdges"/>
<rect x="15" y="369" width="3" height="3" fill="#000"/>
<rect x="32" y="375" width="3" height="3" fill="#000"/>
<rect x="48" y="375" width="3" height="3" fill="#000"/>
<rect x="64" y="375" width="3" height="3" fill="#000"/>
<rect x="81" y="375" width="3" height="3" fill="#000"/>
<rect x="97" y="375" width="3" height="3" fill="#000"/>
<rect x="113" y="375" width="3" height="3" fill="#000"/>
<rect x="130" y="394" width="3" height="3" fill="#000"/>
<rect x="146" y="394" width="3" height="3" fill="#000"/>
<rect x="162" y="394" width="3" height="3" fill="#000"/>
<rect x="179" y="394" width="3" height="3" fill="#000"/>
<rect x="195" y="394" width="3" height="3" fill="#000"/>
<rect x="211" y="394" width="3" height="3" fill="#000"/>
<rect x="228" y="396" width="3" height="3" fill="#000"/>
<rect x="244" y="396" width="3" height="3" fill="#000"/>
<rect x="260" y="396" width="3" height="3" fill="#000"/>
<rect x="277" y="396" width="3" height="3" fill="#000"/>
<rect x="293" y="396" width="3" height="3" fill="#000"/>
<rect x="309" y="396" width="3" height="3" fill="#000"/>
<rect x="326" y="397" width="3" height="3" fill="#000"/>
<rect x="342" y="397" width="3" height="3" fill="#000"/>
<rect x="358" y="397" width="3" height="3" fill="#000"/>
<rect x="375" y="397" width="3" height="3" fill="#000"/>
<rect x="391" y="397" width="3" height="3" fill="#000"/>
<rect x="407" y="397" width="3" height="3" fill="#000"/>
<rect x="423" y="397" width="3" height="3" fill="#000"/>
<rect x="440" y="397" width="3" height="3" fill="#000"/>
<rect x="456" y="397" width="3" height="3" fill="#000"/>
<rect x="472" y="397" width="3" height="3" fill="#000"/>
<rect x="489" y="397" width="3" height="3" fill="#000"/>
<rect x="505" y="397" width="3" height="3" fill="#000"/>
<rect x="521" y="398" width="3" height="3" fill="#000"/>
<rect x="538" y="398" width="3" height="3" fill="#000"/>
<rect x="554" y="398" width="3" height="3" fill="#000"/>
<rect x="570" y="398" width="3" height="3" fill="#000"/>
<rect x="587" y="398" width="3" height="3" fill="#000"/>
<rect x="603" y="398" width="3" height="3" fill="#000"/>
<rect x="619" y="399" width="3" height="3" fill="#000"/>
<rect x="636" y="399" width="3" height="3" fill="#000"/>
<rect x="652" y="399" width="3" height="3" fill="#000"/>
<rect x="668" y="399" width="3" height="3" fill="#000"/>
<rect x="685" y="399" width="3" height="3" fill="#000"/>
<rect x="701" y="399" width="3" height="3" fill="#000"/>
<rect x="717" y="399" width="3" height="3" fill="#000"/>
<rect x="734" y="399" width="3" height="3" fill="#000"/>
<rect x="750" y="399" width="3" height="3" fill="#000"/>
<rect x="766" y="399" width="3" height="3" fill="#000"/>
<rect x="783" y="399" width="3" height="3" fill="#000"/>
<rect x="16" y="370" width="1" height="1" fill="#996633"/>
<rect x="17" y="370" width="1" height="1" fill="#996633"/>
<rect x="33" y="376" width="1" height="1" fill="#996633"/>
<rect x="34" y="376" width="1" height="1" fill="#996633"/>
<rect x="49" y="376" width="1" height="1" fill="#996633"/>
<rect x="50" y="376" width="1" height="1" fill="#996633"/>
<rect x="65" y="376" width="1" height="1" fill="#996633"/>
<rect x="66" y="376" width="1" height="1" fill="#996633"/>
<rect x="82" y="376" width="1" height="1" fill="#996633"/>
<rect x="83" y="376" width="1" height="1" fill="#996633"/>
<rect x="98" y="376" width="1" height="1" fill="#996633"/>
<rect x="99" y="376" width="1" height="1" fill="#996633"/>
<rect x="114" y="376" width="1" height="1" fill="#996633"/>
<rect x="115" y="377" width="1" height="1" fill="#996633"/>
<rect x="131" y="395" width="1" height="1" fill="#996633"/>
<rect x="132" y="395" width="1" height="1" fill="#996633"/>
<rect x="147" y="395" width="1" height="1" fill="#996633"/>
<rect x="148" y="395" width="1" height="1" fill="#996633"/>
<rect x="163" y="395" width="1" height="1" fill="#996633"/>
<rect x="164" y="395" width="1" height="1" fill="#996633"/>
<rect x="180" y="395" width="1" height="1" fill="#996633"/>
<rect x="181" y="395" width="1" height="1" fill="#996633"/>
<rect x="196" y="395" width="1" height="1" fill="#996633"/>
<rect x="197" y="395" width="1" height="1" fill="#996633"/>
<rect x="212" y="395" width="1" height="1" fill="#996633"/>
<rect x="213" y="395" width="1" height="1" fill="#996633"/>
<rect x="229" y="397" width="1" height="1" fill="#996633"/>
<rect x="230" y="397" width="1" height="1" fill="#996633"/>
<rect x="245" y="397" width="1" height="1" fill="#996633"/>
<rect x="246" y="397" width="1" height="1" fill="#996633"/>
<rect x="261" y="397" width="1" height="1" fill="#996633"/>
<rect x="262" y="397" width="1" height="1" fill="#996633"/>
<rect x="278" y="397" width="1" height="1" fill="#996633"/>
<rect x="279" y="397" width="1" height="1" fill="#996633"/>
<rect x="294" y="397" width="1" height="1" fill="#996633"/>
<rect x="295" y="397" width="1" height="1" fill="#996633"/>
<rect x="310" y="397" width="1" height="1" fill="#996633"/>
<rect x="311" y="397" width="1" height="1" fill="#996633"/>
<rect x="327" y="398" width="1" height="1" fill="#996633"/>
<rect x="328" y="398" width="1" height="1" fill="#996633"/>
<rect x="343" y="398" width="1" height="1" fill="#996633"/>
<rect x="344" y="398" width="1" height="1" fill="#996633"/>
<rect x="359" y="398" width="1" height="1" fill="#996633"/>
<rect x="360" y="398" width="1" height="1" fill="#996633"/>
<rect x="376" y="398" width="1" height="1" fill="#996633"/>
<rect x="377" y="398" width="1" height="1" fill="#996633"/>
<rect x="392" y="398" width="1" height="1" fill="#996633"/>
<rect x="393" y="398" width="1" height="1" fill="#996633"/>
<rect x="408" y="398" width="1" height="1" fill="#996633"/>
<rect x="409" y="398" width="1" height="1" fill="#996633"/>
<rect x="424" y="398" width="1" height="1" fill="#996633"/>
<rect x="425" y="398" width="1" height="1" fill="#996633"/>
<rect x="441" y="398" width="1" height="1" fill="#996633"/>
<rect x="442" y="398" width="1" height="1" fill="#996633"/>
<rect x="457" y="398" width="1" height="1" fill="#996633"/>
<rect x="458" y="398" width="1" height="1" fill="#996633"/>
<rect x="473" y="398" width="1" height="1" fill="#996633"/>
<rect x="474" y="398" width="1" height="1" fill="#996633"/>
<rect x="490" y="398" width="1" height="1" fill="#996633"/>
<rect x="491" y="398" width="1" height="1" fill="#996633"/>
<rect x="506" y="398" width="1" height="1" fill="#996633"/>
<rect x="507" y="398" width="1" height="1" fill="#996633"/>
<rect x="522" y="399" width="1" height="1" fill="#996633"/>
<rect x="523" y="399" width="1" height="1" fill="#996633"/>
<rect x="539" y="399" width="1" height="1" fill="#996633"/>
<rect x="540" y="399" width="1" height="1" fill="#996633"/>
<rect x="555" y="399" width="1" height="1" fill="#996633"/>
<rect x="556" y="399" width="1" height="1" fill="#996633"/>
<rect x="571" y="399" width="1" height="1" fill="#996633"/>
<rect x="572" y="399" width="1" height="1" fill="#996633"/>
<rect x="588" y="399" width="1" height="1" fill="#996633"/>
<rect x="589" y="399" width="1" height="1" fill="#996633"/>
<rect x="604" y="399" width="1" height="1" fill="#996633"/>
<rect x="605" y="399" width="1" height="1" fill="#996633"/>
<rect x="620" y="400" width="1" height="1" fill="#996633"/>
<rect x="621" y="400" width="1" height="1" fill="#996633"/>
<rect x="637" y="400" width="1" height="1" fill="#996633"/>
<rect x="638" y="400" width="1" height="1" fill="#996633"/>
<rect x="653" y="400" width="1" height="1" fill="#996633"/>
<rect x="654" y="400" width="1" height="1" fill="#996633"/>
<rect x="669" y="400" width="1" height="1" fill="#996633"/>
<rect x="670" y="400" width="1" height="1" fill="#996633"/>
<rect x="686" y="400" width="1" height="1" fill="#996633"/>
<rect x="687" y="400" width="1" height="1" fill="#996633"/>
<rect x="702" y="400" width="1" height="1" fill="#996633"/>
<rect x="703" y="400" width="1" height="1" fill="#996633"/>
<rect x="718" y="400" width="1" height="1" fill="#996633"/>
<rect x="719" y="400" width="1" height="1" fill="#996633"/>
<rect x="735" y="400" width="1" height="1" fill="#996633"/>
<rect x="736" y="400" width="1" height="1" fill="#996633"/>
<rect x="751" y="400" width="1" height="1" fill="#996633"/>
<rect x="752" y="400" width="1" height="1" fill="#996633"/>
<rect x="767" y="400" width="1" height="1" fill="#996633"/>
<rect x="768" y="400" width="1" height="1" fill="#996633"/>
<text x="48.05" y="373.8" fill="#996633" text-anchor="middle" style="font-size:9.5px;stroke:#996633;stroke-width:0.1px;letter-spacing:-0.5px;">24%</text>
<text x="97.05" y="373.8" fill="#996633" text-anchor="middle" style="font-size:9.5px;stroke:#996633;stroke-width:0.1px;letter-spacing:-0.5px;">24%</text>
<text x="146.05" y="392.8" fill="#996633" text-anchor="middle" style="font-size:9.5px;stroke:#996633;stroke-width:0.1px;letter-spacing:-0.5px;">5%</text>
<text x="195.05" y="392.8" fill="#996633" text-anchor="middle" style="font-size:9.5px;stroke:#996633;stroke-width:0.1px;letter-spacing:-0.5px;">5%</text>
<text x="244.05" y="394.8" fill="#996633" text-anchor="middle" style="font-size:9.5px;stroke:#996633;stroke-width:0.1px;letter-spacing:-0.5px;">3%</text>
<text x="293.05" y="394.8" fill="#996633" text-anchor="middle" style="font-size:9.5px;stroke:#996633;stroke-width:0.1px;letter-spacing:-0.5px;">3%</text>
<text x="342.05" y="395.8" fill="#996633" text-anchor="middle" style="font-size:9.5px;stroke:#996633;stroke-width:0.1px;letter-spacing:-0.5px;">2%</text>
<text x="391.05" y="395.8" fill="#996633" text-anchor="middle" style="font-size:9.5px;stroke:#996633;stroke-width:0.1px;letter-spacing:-0.5px;">2%</text>
<text x="440.05" y="395.8" fill="#996633" text-anchor="middle" style="font-size:9.5px;stroke:#996633;stroke-width:0.1px;letter-spacing:-0.5px;">2%</text>
<text x="489.05" y="395.8" fill="#996633" text-anchor="middle" style="font-size:9.5px;stroke:#996633;stroke-width:0.1px;letter-spacing:-0.5px;">2%</text>
<text x="538.05" y="396.8" fill="#996633" text-anchor="middle" style="font-size:9.5px;stroke:#996633;stroke-width:0.1px;letter-spacing:-0.5px;">1%</text>
<text x="587.05" y="396.8" fill="#996633" text-anchor="middle" style="font-size:9.5px;stroke:#996633;stroke-width:0.1px;letter-spacing:-0.5px;">1%</text>
<text x="636.05" y="397.8" fill="#996633" text-anchor="middle" style="font-size:9.5px;stroke:#996633;stroke-width:0.1px;letter-spacing:-0.5px;">0%</text>
<text x="685.05" y="397.8" fill="#996633" text-anchor="middle" style="font-size:9.5px;stroke:#996633;stroke-width:0.1px;letter-spacing:-0.5px;">0%</text>
<text x="734.05" y="397.8" fill="#996633" text-anchor="middle" style="font-size:9.5px;stroke:#996633;stroke-width:0.1px;letter-spacing:-0.5px;">0%</text>
<text x="783.05" y="397.8" fill="#996633" text-anchor="middle" style="font-size:9.5px;stroke:#996633;stroke-width:0.1px;letter-spacing:-0.5px;">0%</text>
<polyline points="16.5,341.5 33.5,344.5 49.5,345.5 65.5,345.5 82.5,344.5 98.5,341.5 114.5,339.5 131.5,341.5 147.5,353.5 163.5,369.5 180.5,383.5 196.5,388.5 212.5,390.5 229.5,390.5 245.5,390.5 261.5,389.5 278.5,388.5 294.5,386.5 310.5,384.5 327.5,384.5 343.5,385.5 359.5,386.5 376.5,386.5 392.5,384.5 408.5,380.5 424.5,377.5 441.5,377.5 457.5,378.5 473.5,377.5 490.5,373.5 506.5,368.5 522.5,364.5 539.5,362.5 555.5,361.5 571.5,360.5 588.5,359.5 604.5,358.5 620.5,358.5 637.5,361.5 653.5,365.5 669.5,367.5 686.5,365.5 702.5,363.5 718.5,361.5 735.5,361.5 751.5,363.5 767.5,365.5 784.5,368.5" fill="none" stroke="#0000cc" stroke-width="1" shape-rendering="crispEdges"/>
<rect x="15" y="340" width="3" height="3" fill="#000"/>
<rect x="32" y="343" width="3" height="3" fill="#000"/>
<rect x="48" y="344" width="3" height="3" fill="#000"/>
<rect x="64" y="344" width="3" height="3" fill="#000"/>
<rect x="81" y="343" width="3" height="3" fill="#000"/>
<rect x="97" y="340" width="3" height="3" fill="#000"/>
<rect x="113" y="338" width="3" height="3" fill="#000"/>
<rect x="130" y="340" width="3" height="3" fill="#000"/>
<rect x="146" y="352" width="3" height="3" fill="#000"/>
<rect x="162" y="368" width="3" height="3" fill="#000"/>
<rect x="179" y="382" width="3" height="3" fill="#000"/>
<rect x="195" y="387" width="3" height="3" fill="#000"/>
<rect x="211" y="389" width="3" height="3" fill="#000"/>
<rect x="228" y="389" width="3" height="3" fill="#000"/>
<rect x="244" y="389" width="3" height="3" fill="#000"/>
<rect x="260" y="388" width="3" height="3" fill="#000"/>
<rect x="277" y="387" width="3" height="3" fill="#000"/>
<rect x="293" y="385" width="3" height="3" fill="#000"/>
<rect x="309" y="383" width="3" height="3" fill="#000"/>
<rect x="326" y="383" width="3" height="3" fill="#000"/>
<rect x="342" y="384" width="3" height="3" fill="#000"/>
<rect x="358" y="385" width="3" height="3" fill="#000"/>
<rect x="375" y="385" width="3" height="3" fill="#000"/>
<rect x="391" y="383" width="3" height="3" fill="#000"/>
<rect x="407" y="379" width="3" height="3" fill="#000"/>
<rect x="423" y="376" width="3" height="3" fill="#000"/>
<rect x="440" y="376" width="3" height="3" fill="#000"/>
<rect x="456" y="377" width="3" height="3" fill="#000"/>
<rect x="472" y="376" width="3" height="3" fill="#000"/>
<rect x="489" y="372" width="3" height="3" fill="#000"/>
<rect x="505" y="367" width="3" height="3" fill="#000"/>
<rect x="521" y="363" width="3" height="3" fill="#000"/>
<rect x="538" y="361" width="3" height="3" fill="#000"/>
<rect x="554" y="360" width="3" height="3" fill="#000"/>
<rect x="570" y="359" width="3" height="3" fill="#000"/>
<rect x="587" y="358" width="3" height="3" fill="#000"/>
<rect x="603" y="357" width="3" height="3" fill="#000"/>
<rect x="619" y="357" width="3" height="3" fill="#000"/>
<rect x="636" y="360" width="3" height="3" fill="#000"/>
<rect x="652" y="364" width="3" height="3" fill="#000"/>
<rect x="668" y="366" width="3" height="3" fill="#000"/>
<rect x="685" y="364" width="3" height="3" fill="#000"/>
<rect x="701" y="362" width="3" height="3" fill="#000"/>
<rect x="717" y="360" width="3" height="3" fill="#000"/>
<rect x="734" y="360" width="3" height="3" fill="#000"/>
<rect x="750" y="362" width="3" height="3" fill="#000"/>
<rect x="766" y="364" width="3" height="3" fill="#000"/>
<rect x="783" y="367" width="3" height="3" fill="#000"/>
<rect x="16" y="341" width="1" height="1" fill="#0000cc"/>
<rect x="17" y="341" width="1" height="1" fill="#0000cc"/>
<rect x="33" y="344" width="1" height="1" fill="#0000cc"/>
<rect x="34" y="344" width="1" height="1" fill="#0000cc"/>
<rect x="49" y="345" width="1" height="1" fill="#0000cc"/>
<rect x="50" y="345" width="1" height="1" fill="#0000cc"/>
<rect x="65" y="345" width="1" height="1" fill="#0000cc"/>
<rect x="66" y="345" width="1" height="1" fill="#0000cc"/>
<rect x="82" y="344" width="1" height="1" fill="#0000cc"/>
<rect x="83" y="344" width="1" height="1" fill="#0000cc"/>
<rect x="98" y="341" width="1" height="1" fill="#0000cc"/>
<rect x="99" y="341" width="1" height="1" fill="#0000cc"/>
<rect x="114" y="339" width="1" height="1" fill="#0000cc"/>
<rect x="115" y="339" width="1" height="1" fill="#0000cc"/>
<rect x="131" y="341" width="1" height="1" fill="#0000cc"/>
<rect x="132" y="342" width="1" height="1" fill="#0000cc"/>
<rect x="147" y="353" width="1" height="1" fill="#0000cc"/>
<rect x="148" y="354" width="1" height="1" fill="#0000cc"/>
<rect x="163" y="369" width="1" height="1" fill="#0000cc"/>
<rect x="164" y="370" width="1" height="1" fill="#0000cc"/>
<rect x="180" y="383" width="1" height="1" fill="#0000cc"/>
<rect x="181" y="383" width="1" height="1" fill="#0000cc"/>
<rect x="196" y="388" width="1" height="1" fill="#0000cc"/>
<rect x="197" y="388" width="1" height="1" fill="#0000cc"/>
<rect x="212" y="390" width="1" height="1" fill="#0000cc"/>
<rect x="213" y="390" width="1" height="1" fill="#0000cc"/>
<rect x="229" y="390" width="1" height="1" fill="#0000cc"/>
<rect x="230" y="390" width="1" height="1" fill="#0000cc"/>
<rect x="245" y="390" width="1" height="1" fill="#0000cc"/>
<rect x="246" y="390" width="1" height="1" fill="#0000cc"/>
<rect x="261" y="389" width="1" height="1" fill="#0000cc"/>
<rect x="262" y="389" width="1" height="1" fill="#0000cc"/>
<rect x="278" y="388" width="1" height="1" fill="#0000cc"/>
<rect x="279" y="388" width="1" height="1" fill="#0000cc"/>
<rect x="294" y="386" width="1" height="1" fill="#0000cc"/>
<rect x="295" y="386" width="1" height="1" fill="#0000cc"/>
<rect x="310" y="384" width="1" height="1" fill="#0000cc"/>
<rect x="311" y="384" width="1" height="1" fill="#0000cc"/>
<rect x="327" y="384" width="1" height="1" fill="#0000cc"/>
<rect x="328" y="384" width="1" height="1" fill="#0000cc"/>
<rect x="343" y="385" width="1" height="1" fill="#0000cc"/>
<rect x="344" y="385" width="1" height="1" fill="#0000cc"/>
<rect x="359" y="386" width="1" height="1" fill="#0000cc"/>
<rect x="360" y="386" width="1" height="1" fill="#0000cc"/>
<rect x="376" y="386" width="1" height="1" fill="#0000cc"/>
<rect x="377" y="386" width="1" height="1" fill="#0000cc"/>
<rect x="392" y="384" width="1" height="1" fill="#0000cc"/>
<rect x="393" y="384" width="1" height="1" fill="#0000cc"/>
<rect x="408" y="380" width="1" height="1" fill="#0000cc"/>
<rect x="409" y="380" width="1" height="1" fill="#0000cc"/>
<rect x="424" y="377" width="1" height="1" fill="#0000cc"/>
<rect x="425" y="377" width="1" height="1" fill="#0000cc"/>
<rect x="441" y="377" width="1" height="1" fill="#0000cc"/>
<rect x="442" y="377" width="1" height="1" fill="#0000cc"/>
<rect x="457" y="378" width="1" height="1" fill="#0000cc"/>
<rect x="458" y="378" width="1" height="1" fill="#0000cc"/>
<rect x="473" y="377" width="1" height="1" fill="#0000cc"/>
<rect x="474" y="377" width="1" height="1" fill="#0000cc"/>
<rect x="490" y="373" width="1" height="1" fill="#0000cc"/>
<rect x="491" y="373" width="1" height="1" fill="#0000cc"/>
<rect x="506" y="368" width="1" height="1" fill="#0000cc"/>
<rect x="507" y="368" width="1" height="1" fill="#0000cc"/>
<rect x="522" y="364" width="1" height="1" fill="#0000cc"/>
<rect x="523" y="364" width="1" height="1" fill="#0000cc"/>
<rect x="539" y="362" width="1" height="1" fill="#0000cc"/>
<rect x="540" y="362" width="1" height="1" fill="#0000cc"/>
<rect x="555" y="361" width="1" height="1" fill="#0000cc"/>
<rect x="556" y="361" width="1" height="1" fill="#0000cc"/>
<rect x="571" y="360" width="1" height="1" fill="#0000cc"/>
<rect x="572" y="360" width="1" height="1" fill="#0000cc"/>
<rect x="588" y="359" width="1" height="1" fill="#0000cc"/>
<rect x="589" y="359" width="1" height="1" fill="#0000cc"/>
<rect x="604" y="358" width="1" height="1" fill="#0000cc"/>
<rect x="605" y="358" width="1" height="1" fill="#0000cc"/>
<rect x="620" y="358" width="1" height="1" fill="#0000cc"/>
<rect x="621" y="358" width="1" height="1" fill="#0000cc"/>
<rect x="637" y="361" width="1" height="1" fill="#0000cc"/>
<rect x="638" y="361" width="1" height="1" fill="#0000cc"/>
<rect x="653" y="365" width="1" height="1" fill="#0000cc"/>
<rect x="654" y="365" width="1" height="1" fill="#0000cc"/>
<rect x="669" y="367" width="1" height="1" fill="#0000cc"/>
<rect x="670" y="367" width="1" height="1" fill="#0000cc"/>
<rect x="686" y="365" width="1" height="1" fill="#0000cc"/>
<rect x="687" y="365" width="1" height="1" fill="#0000cc"/>
<rect x="702" y="363" width="1" height="1" fill="#0000cc"/>
<rect x="703" y="363" width="1" height="1" fill="#0000cc"/>
<rect x="718" y="361" width="1" height="1" fill="#0000cc"/>
<rect x="719" y="361" width="1" height="1" fill="#0000cc"/>
<rect x="735" y="361" width="1" height="1" fill="#0000cc"/>
<rect x="736" y="361" width="1" height="1" fill="#0000cc"/>
<rect x="751" y="363" width="1" height="1" fill="#0000cc"/>
<rect x="752" y="363" width="1" height="1" fill="#0000cc"/>
<rect x="767" y="365" width="1" height="1" fill="#0000cc"/>
<rect x="768" y="365" width="1" height="1" fill="#0000cc"/>
<text x="48.05" y="342.8" fill="#0000cc" text-anchor="middle" style="font-size:9.5px;stroke:#0000cc;stroke-width:0.1px;letter-spacing:-0.5px;">55%</text>
<text x="97.05" y="338.8" fill="#0000cc" text-anchor="middle" style="font-size:9.5px;stroke:#0000cc;stroke-width:0.1px;letter-spacing:-0.5px;">59%</text>
<text x="146.05" y="350.8" fill="#0000cc" text-anchor="middle" style="font-size:9.5px;stroke:#0000cc;stroke-width:0.1px;letter-spacing:-0.5px;">47%</text>
<text x="195.05" y="385.8" fill="#0000cc" text-anchor="middle" style="font-size:9.5px;stroke:#0000cc;stroke-width:0.1px;letter-spacing:-0.5px;">12%</text>
<text x="244.05" y="387.8" fill="#0000cc" text-anchor="middle" style="font-size:9.5px;stroke:#0000cc;stroke-width:0.1px;letter-spacing:-0.5px;">10%</text>
<text x="293.05" y="383.8" fill="#0000cc" text-anchor="middle" style="font-size:9.5px;stroke:#0000cc;stroke-width:0.1px;letter-spacing:-0.5px;">14%</text>
<text x="342.05" y="382.8" fill="#0000cc" text-anchor="middle" style="font-size:9.5px;stroke:#0000cc;stroke-width:0.1px;letter-spacing:-0.5px;">15%</text>
<text x="391.05" y="381.8" fill="#0000cc" text-anchor="middle" style="font-size:9.5px;stroke:#0000cc;stroke-width:0.1px;letter-spacing:-0.5px;">16%</text>
<text x="440.05" y="374.8" fill="#0000cc" text-anchor="middle" style="font-size:9.5px;stroke:#0000cc;stroke-width:0.1px;letter-spacing:-0.5px;">23%</text>
<text x="489.05" y="370.8" fill="#0000cc" text-anchor="middle" style="font-size:9.5px;stroke:#0000cc;stroke-width:0.1px;letter-spacing:-0.5px;">27%</text>
<text x="538.05" y="359.8" fill="#0000cc" text-anchor="middle" style="font-size:9.5px;stroke:#0000cc;stroke-width:0.1px;letter-spacing:-0.5px;">38%</text>
<text x="587.05" y="356.8" fill="#0000cc" text-anchor="middle" style="font-size:9.5px;stroke:#0000cc;stroke-width:0.1px;letter-spacing:-0.5px;">41%</text>
<text x="636.05" y="358.8" fill="#0000cc" text-anchor="middle" style="font-size:9.5px;stroke:#0000cc;stroke-width:0.1px;letter-spacing:-0.5px;">39%</text>
<text x="685.05" y="362.8" fill="#0000cc" text-anchor="middle" style="font-size:9.5px;stroke:#0000cc;stroke-width:0.1px;letter-spacing:-0.5px;">35%</text>
<text x="734.05" y="358.8" fill="#0000cc" text-anchor="middle" style="font-size:9.5px;stroke:#0000cc;stroke-width:0.1px;letter-spacing:-0.5px;">39%</text>
<text x="783.05" y="365.8" fill="#0000cc" text-anchor="middle" style="font-size:9.5px;stroke:#0000cc;stroke-width:0.1px;letter-spacing:-0.5px;">32%</text>
<polyline points="16.5,310.5 33.5,314.5 49.5,314.5 65.5,310.5 82.5,314.5 98.5,310.5 114.5,314.5 131.5,320.5 147.5,326.5 163.5,337.5 180.5,346.5 196.5,357.5 212.5,361.5 229.5,366.5 245.5,369.5 261.5,371.5 278.5,370.5 294.5,368.5 310.5,367.5 327.5,364.5 343.5,363.5 359.5,359.5 376.5,360.5 392.5,360.5 408.5,362.5 424.5,362.5 441.5,362.5 457.5,362.5 473.5,362.5 490.5,361.5 506.5,361.5 522.5,359.5 539.5,359.5 555.5,361.5 571.5,362.5 588.5,363.5 604.5,364.5 620.5,365.5 637.5,368.5 653.5,368.5 669.5,367.5 686.5,366.5 702.5,361.5 718.5,355.5 735.5,355.5 751.5,353.5 767.5,355.5 784.5,356.5" fill="none" stroke="#006600" stroke-width="1" shape-rendering="crispEdges"/>
<rect x="15" y="309" width="3" height="3" fill="#000"/>
<rect x="32" y="313" width="3" height="3" fill="#000"/>
<rect x="48" y="313" width="3" height="3" fill="#000"/>
<rect x="64" y="309" width="3" height="3" fill="#000"/>
<rect x="81" y="313" width="3" height="3" fill="#000"/>
<rect x="97" y="309" width="3" height="3" fill="#000"/>
<rect x="113" y="313" width="3" height="3" fill="#000"/>
<rect x="130" y="319" width="3" height="3" fill="#000"/>
<rect x="146" y="325" width="3" height="3" fill="#000"/>
<rect x="162" y="336" width="3" height="3" fill="#000"/>
<rect x="179" y="345" width="3" height="3" fill="#000"/>
<rect x="195" y="356" width="3" height="3" fill="#000"/>
<rect x="211" y="360" width="3" height="3" fill="#000"/>
<rect x="228" y="365" width="3" height="3" fill="#000"/>
<rect x="244" y="368" width="3" height="3" fill="#000"/>
<rect x="260" y="370" width="3" height="3" fill="#000"/>
<rect x="277" y="369" width="3" height="3" fill="#000"/>
<rect x="293" y="367" width="3" height="3" fill="#000"/>
<rect x="309" y="366" width="3" height="3" fill="#000"/>
<rect x="326" y="363" width="3" height="3" fill="#000"/>
<rect x="342" y="362" width="3" height="3" fill="#000"/>
<rect x="358" y="358" width="3" height="3" fill="#000"/>
<rect x="375" y="359" width="3" height="3" fill="#000"/>
<rect x="391" y="359" width="3" height="3" fill="#000"/>
<rect x="407" y="361" width="3" height="3" fill="#000"/>
<rect x="423" y="361" width="3" height="3" fill="#000"/>
<rect x="440" y="361" width="3" height="3" fill="#000"/>
<rect x="456" y="361" width="3" height="3" fill="#000"/>
<rect x="472" y="361" width="3" height="3" fill="#000"/>
<rect x="489" y="360" width="3" height="3" fill="#000"/>
<rect x="505" y="360" width="3" height="3" fill="#000"/>
<rect x="521" y="358" width="3" height="3" fill="#000"/>
<rect x="538" y="358" width="3" height="3" fill="#000"/>
<rect x="554" y="360" width="3" height="3" fill="#000"/>
<rect x="570" y="361" width="3" height="3" fill="#000"/>
<rect x="587" y="362" width="3" height="3" fill="#000"/>
<rect x="603" y="363" width="3" height="3" fill="#000"/>
<rect x="619" y="364" width="3" height="3" fill="#000"/>
<rect x="636" y="367" width="3" height="3" fill="#000"/>
<rect x="652" y="367" width="3" height="3" fill="#000"/>
<rect x="668" y="366" width="3" height="3" fill="#000"/>
<rect x="685" y="365" width="3" height="3" fill="#000"/>
<rect x="701" y="360" width="3" height="3" fill="#000"/>
<rect x="717" y="354" width="3" height="3" fill="#000"/>
<rect x="734" y="354" width="3" height="3" fill="#000"/>
<rect x="750" y="352" width="3" height="3" fill="#000"/>
<rect x="766" y="354" width="3" height="3" fill="#000"/>
<rect x="783" y="355" width="3" height="3" fill="#000"/>
<rect x="16" y="310" width="1" height="1" fill="#006600"/>
<rect x="17" y="310" width="1" height="1" fill="#006600"/>
<rect x="33" y="314" width="1" height="1" fill="#006600"/>
<rect x="34" y="314" width="1" height="1" fill="#006600"/>
<rect x="49" y="314" width="1" height="1" fill="#006600"/>
<rect x="50" y="314" width="1" height="1" fill="#006600"/>
<rect x="65" y="310" width="1" height="1" fill="#006600"/>
<rect x="66" y="310" width="1" height="1" fill="#006600"/>
<rect x="82" y="314" width="1" height="1" fill="#006600"/>
<rect x="83" y="314" width="1" height="1" fill="#006600"/>
<rect x="98" y="310" width="1" height="1" fill="#006600"/>
<rect x="99" y="310" width="1" height="1" fill="#006600"/>
<rect x="114" y="314" width="1" height="1" fill="#006600"/>
<rect x="115" y="314" width="1" height="1" fill="#006600"/>
<rect x="131" y="320" width="1" height="1" fill="#006600"/>
<rect x="132" y="320" width="1" height="1" fill="#006600"/>
<rect x="147" y="326" width="1" height="1" fill="#006600"/>
<rect x="148" y="327" width="1" height="1" fill="#006600"/>
<rect x="163" y="337" width="1" height="1" fill="#006600"/>
<rect x="164" y="338" width="1" height="1" fill="#006600"/>
<rect x="180" y="346" width="1" height="1" fill="#006600"/>
<rect x="181" y="347" width="1" height="1" fill="#006600"/>
<rect x="196" y="357" width="1" height="1" fill="#006600"/>
<rect x="197" y="357" width="1" height="1" fill="#006600"/>
<rect x="212" y="361" width="1" height="1" fill="#006600"/>
<rect x="213" y="361" width="1" height="1" fill="#006600"/>
<rect x="229" y="366" width="1" height="1" fill="#006600"/>
<rect x="230" y="366" width="1" height="1" fill="#006600"/>
<rect x="245" y="369" width="1" height="1" fill="#006600"/>
<rect x="246" y="369" width="1" height="1" fill="#006600"/>
<rect x="261" y="371" width="1" height="1" fill="#006600"/>
<rect x="262" y="371" width="1" height="1" fill="#006600"/>
<rect x="278" y="370" width="1" height="1" fill="#006600"/>
<rect x="279" y="370" width="1" height="1" fill="#006600"/>
<rect x="294" y="368" width="1" height="1" fill="#006600"/>
<rect x="295" y="368" width="1" height="1" fill="#006600"/>
<rect x="310" y="367" width="1" height="1" fill="#006600"/>
<rect x="311" y="367" width="1" height="1" fill="#006600"/>
<rect x="327" y="364" width="1" height="1" fill="#006600"/>
<rect x="328" y="364" width="1" height="1" fill="#006600"/>
<rect x="343" y="363" width="1" height="1" fill="#006600"/>
<rect x="344" y="363" width="1" height="1" fill="#006600"/>
<rect x="359" y="359" width="1" height="1" fill="#006600"/>
<rect x="360" y="359" width="1" height="1" fill="#006600"/>
<rect x="376" y="360" width="1" height="1" fill="#006600"/>
<rect x="377" y="360" width="1" height="1" fill="#006600"/>
<rect x="392" y="360" width="1" height="1" fill="#006600"/>
<rect x="393" y="360" width="1" height="1" fill="#006600"/>
<rect x="408" y="362" width="1" height="1" fill="#006600"/>
<rect x="409" y="362" width="1" height="1" fill="#006600"/>
<rect x="424" y="362" width="1" height="1" fill="#006600"/>
<rect x="425" y="362" width="1" height="1" fill="#006600"/>
<rect x="441" y="362" width="1" height="1" fill="#006600"/>
<rect x="442" y="362" width="1" height="1" fill="#006600"/>
<rect x="457" y="362" width="1" height="1" fill="#006600"/>
<rect x="458" y="362" width="1" height="1" fill="#006600"/>
<rect x="473" y="362" width="1" height="1" fill="#006600"/>
<rect x="474" y="362" width="1" height="1" fill="#006600"/>
<rect x="490" y="361" width="1" height="1" fill="#006600"/>
<rect x="491" y="361" width="1" height="1" fill="#006600"/>
<rect x="506" y="361" width="1" height="1" fill="#006600"/>
<rect x="507" y="361" width="1" height="1" fill="#006600"/>
<rect x="522" y="359" width="1" height="1" fill="#006600"/>
<rect x="523" y="359" width="1" height="1" fill="#006600"/>
<rect x="539" y="359" width="1" height="1" fill="#006600"/>
<rect x="540" y="359" width="1" height="1" fill="#006600"/>
<rect x="555" y="361" width="1" height="1" fill="#006600"/>
<rect x="556" y="361" width="1" height="1" fill="#006600"/>
<rect x="571" y="362" width="1" height="1" fill="#006600"/>
<rect x="572" y="362" width="1" height="1" fill="#006600"/>
<rect x="588" y="363" width="1" height="1" fill="#006600"/>
<rect x="589" y="363" width="1" height="1" fill="#006600"/>
<rect x="604" y="364" width="1" height="1" fill="#006600"/>
<rect x="605" y="364" width="1" height="1" fill="#006600"/>
<rect x="620" y="365" width="1" height="1" fill="#006600"/>
<rect x="621" y="365" width="1" height="1" fill="#006600"/>
<rect x="637" y="368" width="1" height="1" fill="#006600"/>
<rect x="638" y="368" width="1" height="1" fill="#006600"/>
<rect x="653" y="368" width="1" height="1" fill="#006600"/>
<rect x="654" y="368" width="1" height="1" fill="#006600"/>
<rect x="669" y="367" width="1" height="1" fill="#006600"/>
<rect x="670" y="367" width="1" height="1" fill="#006600"/>
<rect x="686" y="366" width="1" height="1" fill="#006600"/>
<rect x="687" y="366" width="1" height="1" fill="#006600"/>
<rect x="702" y="361" width="1" height="1" fill="#006600"/>
<rect x="703" y="361" width="1" height="1" fill="#006600"/>
<rect x="718" y="355" width="1" height="1" fill="#006600"/>
<rect x="719" y="355" width="1" height="1" fill="#006600"/>
<rect x="735" y="355" width="1" height="1" fill="#006600"/>
<rect x="736" y="355" width="1" height="1" fill="#006600"/>
<rect x="751" y="353" width="1" height="1" fill="#006600"/>
<rect x="752" y="353" width="1" height="1" fill="#006600"/>
<rect x="767" y="355" width="1" height="1" fill="#006600"/>
<rect x="768" y="355" width="1" height="1" fill="#006600"/>
<text x="48.05" y="311.8" fill="#006600" text-anchor="middle" style="font-size:9.5px;stroke:#006600;stroke-width:0.1px;letter-spacing:-0.5px;">86%</text>
<text x="97.05" y="307.8" fill="#006600" text-anchor="middle" style="font-size:9.5px;stroke:#006600;stroke-width:0.1px;letter-spacing:-0.5px;">90%</text>
<text x="146.05" y="323.8" fill="#006600" text-anchor="middle" style="font-size:9.5px;stroke:#006600;stroke-width:0.1px;letter-spacing:-0.5px;">74%</text>
<text x="195.05" y="354.8" fill="#006600" text-anchor="middle" style="font-size:9.5px;stroke:#006600;stroke-width:0.1px;letter-spacing:-0.5px;">43%</text>
<text x="244.05" y="366.8" fill="#006600" text-anchor="middle" style="font-size:9.5px;stroke:#006600;stroke-width:0.1px;letter-spacing:-0.5px;">31%</text>
<text x="293.05" y="365.8" fill="#006600" text-anchor="middle" style="font-size:9.5px;stroke:#006600;stroke-width:0.1px;letter-spacing:-0.5px;">32%</text>
<text x="342.05" y="360.8" fill="#006600" text-anchor="middle" style="font-size:9.5px;stroke:#006600;stroke-width:0.1px;letter-spacing:-0.5px;">37%</text>
<text x="391.05" y="357.8" fill="#006600" text-anchor="middle" style="font-size:9.5px;stroke:#006600;stroke-width:0.1px;letter-spacing:-0.5px;">40%</text>
<text x="440.05" y="359.8" fill="#006600" text-anchor="middle" style="font-size:9.5px;stroke:#006600;stroke-width:0.1px;letter-spacing:-0.5px;">38%</text>
<text x="489.05" y="358.8" fill="#006600" text-anchor="middle" style="font-size:9.5px;stroke:#006600;stroke-width:0.1px;letter-spacing:-0.5px;">39%</text>
<text x="538.05" y="356.8" fill="#006600" text-anchor="middle" style="font-size:9.5px;stroke:#006600;stroke-width:0.1px;letter-spacing:-0.5px;">41%</text>
<text x="587.05" y="360.8" fill="#006600" text-anchor="middle" style="font-size:9.5px;stroke:#006600;stroke-width:0.1px;letter-spacing:-0.5px;">37%</text>
<text x="636.05" y="365.8" fill="#006600" text-anchor="middle" style="font-size:9.5px;stroke:#006600;stroke-width:0.1px;letter-spacing:-0.5px;">32%</text>
<text x="685.05" y="363.8" fill="#006600" text-anchor="middle" style="font-size:9.5px;stroke:#006600;stroke-width:0.1px;letter-spacing:-0.5px;">34%</text>
<text x="734.05" y="352.8" fill="#006600" text-anchor="middle" style="font-size:9.5px;stroke:#006600;stroke-width:0.1px;letter-spacing:-0.5px;">45%</text>
<text x="783.05" y="353.8" fill="#006600" text-anchor="middle" style="font-size:9.5px;stroke:#006600;stroke-width:0.1px;letter-spacing:-0.5px;">44%</text>
<rect x="464" y="280" width="115" height="12" fill="#000"/>
<rect x="465" y="281" width="113" height="10" fill="#006600"/>
<text x="468.0" y="289.1" fill="#fff" text-anchor="start" style="font-size:9.3px;stroke:#fff;stroke-width:0.5px;" textLength="104.7" lengthAdjust="spacing">Relative Humidity (%)</text>
<rect x="579" y="280" width="143" height="12" fill="#000"/>
<rect x="580" y="281" width="141" height="10" fill="#996633"/>
<text x="583.0" y="289.1" fill="#fff" text-anchor="start" style="font-size:9.3px;stroke:#fff;stroke-width:0.5px;" textLength="132.7" lengthAdjust="spacing">Precipitation Potential (%)</text>
<rect x="722" y="280" width="78" height="12" fill="#000"/>
<rect x="723" y="281" width="76" height="10" fill="#0000cc"/>
<text x="726.4" y="289.1" fill="#fff" text-anchor="start" style="font-size:9.3px;stroke:#fff;stroke-width:0.5px;" textLength="67.2" lengthAdjust="spacing">Sky Cover (%)</text>
<rect x="0" y="280" width="800" height="1" fill="#000"/>
<rect x="0" y="419" width="800" height="1" fill="#000"/>
<rect x="0" y="280" width="1" height="140" fill="#000"/>
<rect x="799" y="280" width="1" height="140" fill="#000"/>
<rect x="0" y="420" width="800" height="90" fill="#fff"/>
<rect x="1" y="421" width="137" height="88" fill="#e6e6e6"/>
<rect x="301" y="421" width="229" height="88" fill="#e6e6e6"/>
<rect x="693" y="421" width="106" height="88" fill="#e6e6e6"/>
<rect x="16" y="421" width="1" height="88" fill="#cccccc"/>
<rect x="33" y="421" width="1" height="88" fill="#cccccc"/>
<rect x="49" y="421" width="1" height="88" fill="#cccccc"/>
<rect x="65" y="421" width="1" height="88" fill="#cccccc"/>
<rect x="82" y="421" width="1" height="88" fill="#cccccc"/>
<rect x="98" y="421" width="1" height="88" fill="#cccccc"/>
<rect x="114" y="421" width="1" height="88" fill="#cccccc"/>
<rect x="131" y="421" width="1" height="88" fill="#cccccc"/>
<rect x="147" y="421" width="1" height="88" fill="#cccccc"/>
<rect x="163" y="421" width="1" height="88" fill="#cccccc"/>
<rect x="180" y="421" width="1" height="88" fill="#cccccc"/>
<rect x="196" y="421" width="1" height="88" fill="#cccccc"/>
<rect x="212" y="421" width="1" height="88" fill="#cccccc"/>
<rect x="229" y="421" width="1" height="88" fill="#cccccc"/>
<rect x="245" y="421" width="1" height="88" fill="#cccccc"/>
<rect x="261" y="421" width="1" height="88" fill="#cccccc"/>
<rect x="278" y="421" width="1" height="88" fill="#cccccc"/>
<rect x="294" y="421" width="1" height="88" fill="#cccccc"/>
<rect x="310" y="421" width="1" height="88" fill="#cccccc"/>
<rect x="327" y="421" width="1" height="88" fill="#cccccc"/>
<rect x="343" y="421" width="1" height="88" fill="#cccccc"/>
<rect x="359" y="421" width="1" height="88" fill="#cccccc"/>
<rect x="376" y="421" width="1" height="88" fill="#cccccc"/>
<rect x="392" y="421" width="1" height="88" fill="#cccccc"/>
<rect x="408" y="421" width="1" height="88" fill="#cccccc"/>
<rect x="424" y="421" width="1" height="88" fill="#cccccc"/>
<rect x="441" y="421" width="1" height="88" fill="#cccccc"/>
<rect x="457" y="421" width="1" height="88" fill="#cccccc"/>
<rect x="473" y="421" width="1" height="88" fill="#cccccc"/>
<rect x="490" y="421" width="1" height="88" fill="#cccccc"/>
<rect x="506" y="421" width="1" height="88" fill="#cccccc"/>
<rect x="522" y="421" width="1" height="88" fill="#cccccc"/>
<rect x="539" y="421" width="1" height="88" fill="#cccccc"/>
<rect x="555" y="421" width="1" height="88" fill="#cccccc"/>
<rect x="571" y="421" width="1" height="88" fill="#cccccc"/>
<rect x="588" y="421" width="1" height="88" fill="#cccccc"/>
<rect x="604" y="421" width="1" height="88" fill="#cccccc"/>
<rect x="620" y="421" width="1" height="88" fill="#cccccc"/>
<rect x="637" y="421" width="1" height="88" fill="#cccccc"/>
<rect x="653" y="421" width="1" height="88" fill="#cccccc"/>
<rect x="669" y="421" width="1" height="88" fill="#cccccc"/>
<rect x="686" y="421" width="1" height="88" fill="#cccccc"/>
<rect x="702" y="421" width="1" height="88" fill="#cccccc"/>
<rect x="718" y="421" width="1" height="88" fill="#cccccc"/>
<rect x="735" y="421" width="1" height="88" fill="#cccccc"/>
<rect x="751" y="421" width="1" height="88" fill="#cccccc"/>
<rect x="767" y="421" width="1" height="88" fill="#cccccc"/>
<rect x="784" y="421" width="1" height="88" fill="#cccccc"/>
<rect x="1" y="435" width="798" height="1" fill="#cccccc"/>
<rect x="1" y="450" width="798" height="1" fill="#cccccc"/>
<rect x="1" y="465" width="798" height="1" fill="#cccccc"/>
<rect x="1" y="480" width="798" height="1" fill="#cccccc"/>
<rect x="1" y="495" width="798" height="1" fill="#cccccc"/>
<rect x="16" y="421" width="1" height="10" fill="#333"/>
<rect x="16" y="500" width="1" height="9" fill="#333"/>
<text x="17.9" y="429.7" fill="#000" text-anchor="start" style="font-size:9.5px;stroke:#000;stroke-width:0.1px;" textLength="71.5" lengthAdjust="spacing">Fri, Dec 23 2022</text>
<rect x="408" y="421" width="1" height="10" fill="#333"/>
<rect x="408" y="500" width="1" height="9" fill="#333"/>
<text x="409.9" y="429.7" fill="#000" text-anchor="start" style="font-size:9.5px;stroke:#000;stroke-width:0.1px;" textLength="73.6" lengthAdjust="spacing">Sat, Dec 24 2022</text>
<text x="49.5" y="506.8" fill="#000" text-anchor="middle" style="font-size:9.2px;stroke:#000;stroke-width:0.1px;font-style:italic;">2am</text>
<text x="98.5" y="506.8" fill="#000" text-anchor="middle" style="font-size:9.2px;stroke:#000;stroke-width:0.1px;font-style:italic;">5am</text>
<text x="147.5" y="506.8" fill="#000" text-anchor="middle" style="font-size:9.2px;stroke:#000;stroke-width:0.1px;font-style:italic;">8am</text>
<text x="196.5" y="506.8" fill="#000" text-anchor="middle" style="font-size:9.2px;stroke:#000;stroke-width:0.1px;font-style:italic;">11am</text>
<text x="245.5" y="506.8" fill="#000" text-anchor="middle" style="font-size:9.2px;stroke:#000;stroke-width:0.1px;font-style:italic;">2pm</text>
<text x="294.5" y="506.8" fill="#000" text-anchor="middle" style="font-size:9.2px;stroke:#000;stroke-width:0.1px;font-style:italic;">5pm</text>
<text x="343.5" y="506.8" fill="#000" text-anchor="middle" style="font-size:9.2px;stroke:#000;stroke-width:0.1px;font-style:italic;">8pm</text>
<text x="392.5" y="506.8" fill="#000" text-anchor="middle" style="font-size:9.2px;stroke:#000;stroke-width:0.1px;font-style:italic;">11pm</text>
<text x="441.5" y="506.8" fill="#000" text-anchor="middle" style="font-size:9.2px;stroke:#000;stroke-width:0.1px;font-style:italic;">2am</text>
<text x="490.5" y="506.8" fill="#000" text-anchor="middle" style="font-size:9.2px;stroke:#000;stroke-width:0.1px;font-style:italic;">5am</text>
<text x="539.5" y="506.8" fill="#000" text-anchor="middle" style="font-size:9.2px;stroke:#000;stroke-width:0.1px;font-style:italic;">8am</text>
<text x="588.5" y="506.8" fill="#000" text-anchor="middle" style="font-size:9.2px;stroke:#000;stroke-width:0.1px;font-style:italic;">11am</text>
<text x="637.5" y="506.8" fill="#000" text-anchor="middle" style="font-size:9.2px;stroke:#000;stroke-width:0.1px;font-style:italic;">2pm</text>
<text x="686.5" y="506.8" fill="#000" text-anchor="middle" style="font-size:9.2px;stroke:#000;stroke-width:0.1px;font-style:italic;">5pm</text>
<text x="735.5" y="506.8" fill="#000" text-anchor="middle" style="font-size:9.2px;stroke:#000;stroke-width:0.1px;font-style:italic;">8pm</text>
<text x="784.5" y="506.8" fill="#000" text-anchor="middle" style="font-size:9.2px;stroke:#000;stroke-width:0.1px;font-style:italic;">11pm</text>
<text x="1.5" y="438.6" fill="#000" text-anchor="start" style="font-size:9.2px;stroke:#000;stroke-width:0.1px;font-style:italic;">Ocnl</text>
<text x="797.6" y="438.6" fill="#000" text-anchor="end" style="font-size:9.2px;stroke:#000;stroke-width:0.1px;font-style:italic;">Ocnl</text>
<text x="1.5" y="452.7" fill="#000" text-anchor="start" style="font-size:9.2px;stroke:#000;stroke-width:0.1px;font-style:italic;">Lkly</text>
<text x="797.6" y="452.7" fill="#000" text-anchor="end" style="font-size:9.2px;stroke:#000;stroke-width:0.1px;font-style:italic;">Lkly</text>
<text x="1.5" y="468.6" fill="#000" text-anchor="start" style="font-size:9.2px;stroke:#000;stroke-width:0.1px;font-style:italic;">Chc</text>
<text x="797.6" y="468.6" fill="#000" text-anchor="end" style="font-size:9.2px;stroke:#000;stroke-width:0.1px;font-style:italic;">Chc</text>
<text x="1.5" y="483.6" fill="#000" text-anchor="start" style="font-size:9.2px;stroke:#000;stroke-width:0.1px;font-style:italic;">SChc</text>
<text x="797.6" y="483.6" fill="#000" text-anchor="end" style="font-size:9.2px;stroke:#000;stroke-width:0.1px;font-style:italic;">SChc</text>
<rect x="12" y="465" width="9" height="31" fill="#009900"/>
<rect x="29" y="480" width="9" height="16" fill="#009900"/>
<rect x="45" y="480" width="9" height="16" fill="#009900"/>
<rect x="61" y="480" width="9" height="16" fill="#009900"/>
<rect x="78" y="480" width="9" height="16" fill="#009900"/>
<rect x="94" y="480" width="9" height="16" fill="#009900"/>
<rect x="110" y="480" width="9" height="16" fill="#009900"/>
<rect x="522" y="482" width="278" height="11" fill="#000"/>
<rect x="523" y="483" width="276" height="9" fill="#ffffcc"/>
<clipPath id="yc420"><rect x="523" y="482" width="276" height="11"/></clipPath>
<g clip-path="url(#yc420)">
<text x="631.2" y="491" fill="#000" text-anchor="start" style="font-size:9.5px;stroke:#000;stroke-width:0.1px;letter-spacing:0.2px;">Rain</text>
<text x="655.6" y="491" fill="#000" text-anchor="start" style="font-size:9.5px;stroke:#000;stroke-width:0.1px;letter-spacing:0.5px;">amount</text>
<text x="693.6" y="491" fill="#000" text-anchor="start" style="font-size:9.5px;stroke:#000;stroke-width:0.1px;letter-spacing:0.2px;">forecast</text>
<text x="732.0" y="491" fill="#000" text-anchor="start" style="font-size:9.5px;stroke:#000;stroke-width:0.1px;letter-spacing:0.25px;">data</text>
<text x="757.0" y="491" fill="#000" text-anchor="start" style="font-size:9.5px;stroke:#000;stroke-width:0.1px;letter-spacing:0.15px;">is</text>
<text x="767.4" y="491" fill="#000" text-anchor="start" style="font-size:9.5px;stroke:#000;stroke-width:0.1px;letter-spacing:0.38px;">unavailable</text>
</g>
<rect x="768" y="420" width="32" height="12" fill="#000"/>
<rect x="769" y="421" width="30" height="10" fill="#009900"/>
<text x="771.9" y="429.1" fill="#fff" text-anchor="start" style="font-size:9.3px;stroke:#fff;stroke-width:0.5px;" textLength="22" lengthAdjust="spacing">Rain</text>
<rect x="0" y="420" width="800" height="1" fill="#000"/>
<rect x="0" y="509" width="800" height="1" fill="#000"/>
<rect x="0" y="420" width="1" height="90" fill="#000"/>
<rect x="799" y="420" width="1" height="90" fill="#000"/>
<rect x="0" y="510" width="800" height="90" fill="#fff"/>
<rect x="1" y="511" width="137" height="88" fill="#e6e6e6"/>
<rect x="301" y="511" width="229" height="88" fill="#e6e6e6"/>
<rect x="693" y="511" width="106" height="88" fill="#e6e6e6"/>
<rect x="16" y="511" width="1" height="88" fill="#cccccc"/>
<rect x="33" y="511" width="1" height="88" fill="#cccccc"/>
<rect x="49" y="511" width="1" height="88" fill="#cccccc"/>
<rect x="65" y="511" width="1" height="88" fill="#cccccc"/>
<rect x="82" y="511" width="1" height="88" fill="#cccccc"/>
<rect x="98" y="511" width="1" height="88" fill="#cccccc"/>
<rect x="114" y="511" width="1" height="88" fill="#cccccc"/>
<rect x="131" y="511" width="1" height="88" fill="#cccccc"/>
<rect x="147" y="511" width="1" height="88" fill="#cccccc"/>
<rect x="163" y="511" width="1" height="88" fill="#cccccc"/>
<rect x="180" y="511" width="1" height="88" fill="#cccccc"/>
<rect x="196" y="511" width="1" height="88" fill="#cccccc"/>
<rect x="212" y="511" width="1" height="88" fill="#cccccc"/>
<rect x="229" y="511" width="1" height="88" fill="#cccccc"/>
<rect x="245" y="511" width="1" height="88" fill="#cccccc"/>
<rect x="261" y="511" width="1" height="88" fill="#cccccc"/>
<rect x="278" y="511" width="1" height="88" fill="#cccccc"/>
<rect x="294" y="511" width="1" height="88" fill="#cccccc"/>
<rect x="310" y="511" width="1" height="88" fill="#cccccc"/>
<rect x="327" y="511" width="1" height="88" fill="#cccccc"/>
<rect x="343" y="511" width="1" height="88" fill="#cccccc"/>
<rect x="359" y="511" width="1" height="88" fill="#cccccc"/>
<rect x="376" y="511" width="1" height="88" fill="#cccccc"/>
<rect x="392" y="511" width="1" height="88" fill="#cccccc"/>
<rect x="408" y="511" width="1" height="88" fill="#cccccc"/>
<rect x="424" y="511" width="1" height="88" fill="#cccccc"/>
<rect x="441" y="511" width="1" height="88" fill="#cccccc"/>
<rect x="457" y="511" width="1" height="88" fill="#cccccc"/>
<rect x="473" y="511" width="1" height="88" fill="#cccccc"/>
<rect x="490" y="511" width="1" height="88" fill="#cccccc"/>
<rect x="506" y="511" width="1" height="88" fill="#cccccc"/>
<rect x="522" y="511" width="1" height="88" fill="#cccccc"/>
<rect x="539" y="511" width="1" height="88" fill="#cccccc"/>
<rect x="555" y="511" width="1" height="88" fill="#cccccc"/>
<rect x="571" y="511" width="1" height="88" fill="#cccccc"/>
<rect x="588" y="511" width="1" height="88" fill="#cccccc"/>
<rect x="604" y="511" width="1" height="88" fill="#cccccc"/>
<rect x="620" y="511" width="1" height="88" fill="#cccccc"/>
<rect x="637" y="511" width="1" height="88" fill="#cccccc"/>
<rect x="653" y="511" width="1" height="88" fill="#cccccc"/>
<rect x="669" y="511" width="1" height="88" fill="#cccccc"/>
<rect x="686" y="511" width="1" height="88" fill="#cccccc"/>
<rect x="702" y="511" width="1" height="88" fill="#cccccc"/>
<rect x="718" y="511" width="1" height="88" fill="#cccccc"/>
<rect x="735" y="511" width="1" height="88" fill="#cccccc"/>
<rect x="751" y="511" width="1" height="88" fill="#cccccc"/>
<rect x="767" y="511" width="1" height="88" fill="#cccccc"/>
<rect x="784" y="511" width="1" height="88" fill="#cccccc"/>
<rect x="1" y="525" width="798" height="1" fill="#cccccc"/>
<rect x="1" y="540" width="798" height="1" fill="#cccccc"/>
<rect x="1" y="555" width="798" height="1" fill="#cccccc"/>
<rect x="1" y="570" width="798" height="1" fill="#cccccc"/>
<rect x="1" y="585" width="798" height="1" fill="#cccccc"/>
<rect x="16" y="511" width="1" height="10" fill="#333"/>
<rect x="16" y="590" width="1" height="9" fill="#333"/>
<text x="17.9" y="519.7" fill="#000" text-anchor="start" style="font-size:9.5px;stroke:#000;stroke-width:0.1px;" textLength="71.5" lengthAdjust="spacing">Fri, Dec 23 2022</text>
<rect x="408" y="511" width="1" height="10" fill="#333"/>
<rect x="408" y="590" width="1" height="9" fill="#333"/>
<text x="409.9" y="519.7" fill="#000" text-anchor="start" style="font-size:9.5px;stroke:#000;stroke-width:0.1px;" textLength="73.6" lengthAdjust="spacing">Sat, Dec 24 2022</text>
<text x="49.5" y="596.8" fill="#000" text-anchor="middle" style="font-size:9.2px;stroke:#000;stroke-width:0.1px;font-style:italic;">2am</text>
<text x="98.5" y="596.8" fill="#000" text-anchor="middle" style="font-size:9.2px;stroke:#000;stroke-width:0.1px;font-style:italic;">5am</text>
<text x="147.5" y="596.8" fill="#000" text-anchor="middle" style="font-size:9.2px;stroke:#000;stroke-width:0.1px;font-style:italic;">8am</text>
<text x="196.5" y="596.8" fill="#000" text-anchor="middle" style="font-size:9.2px;stroke:#000;stroke-width:0.1px;font-style:italic;">11am</text>
<text x="245.5" y="596.8" fill="#000" text-anchor="middle" style="font-size:9.2px;stroke:#000;stroke-width:0.1px;font-style:italic;">2pm</text>
<text x="294.5" y="596.8" fill="#000" text-anchor="middle" style="font-size:9.2px;stroke:#000;stroke-width:0.1px;font-style:italic;">5pm</text>
<text x="343.5" y="596.8" fill="#000" text-anchor="middle" style="font-size:9.2px;stroke:#000;stroke-width:0.1px;font-style:italic;">8pm</text>
<text x="392.5" y="596.8" fill="#000" text-anchor="middle" style="font-size:9.2px;stroke:#000;stroke-width:0.1px;font-style:italic;">11pm</text>
<text x="441.5" y="596.8" fill="#000" text-anchor="middle" style="font-size:9.2px;stroke:#000;stroke-width:0.1px;font-style:italic;">2am</text>
<text x="490.5" y="596.8" fill="#000" text-anchor="middle" style="font-size:9.2px;stroke:#000;stroke-width:0.1px;font-style:italic;">5am</text>
<text x="539.5" y="596.8" fill="#000" text-anchor="middle" style="font-size:9.2px;stroke:#000;stroke-width:0.1px;font-style:italic;">8am</text>
<text x="588.5" y="596.8" fill="#000" text-anchor="middle" style="font-size:9.2px;stroke:#000;stroke-width:0.1px;font-style:italic;">11am</text>
<text x="637.5" y="596.8" fill="#000" text-anchor="middle" style="font-size:9.2px;stroke:#000;stroke-width:0.1px;font-style:italic;">2pm</text>
<text x="686.5" y="596.8" fill="#000" text-anchor="middle" style="font-size:9.2px;stroke:#000;stroke-width:0.1px;font-style:italic;">5pm</text>
<text x="735.5" y="596.8" fill="#000" text-anchor="middle" style="font-size:9.2px;stroke:#000;stroke-width:0.1px;font-style:italic;">8pm</text>
<text x="784.5" y="596.8" fill="#000" text-anchor="middle" style="font-size:9.2px;stroke:#000;stroke-width:0.1px;font-style:italic;">11pm</text>
<text x="1.5" y="528.6" fill="#000" text-anchor="start" style="font-size:9.2px;stroke:#000;stroke-width:0.1px;font-style:italic;">Ocnl</text>
<text x="797.6" y="528.6" fill="#000" text-anchor="end" style="font-size:9.2px;stroke:#000;stroke-width:0.1px;font-style:italic;">Ocnl</text>
<text x="1.5" y="542.7" fill="#000" text-anchor="start" style="font-size:9.2px;stroke:#000;stroke-width:0.1px;font-style:italic;">Lkly</text>
<text x="797.6" y="542.7" fill="#000" text-anchor="end" style="font-size:9.2px;stroke:#000;stroke-width:0.1px;font-style:italic;">Lkly</text>
<text x="1.5" y="558.6" fill="#000" text-anchor="start" style="font-size:9.2px;stroke:#000;stroke-width:0.1px;font-style:italic;">Chc</text>
<text x="797.6" y="558.6" fill="#000" text-anchor="end" style="font-size:9.2px;stroke:#000;stroke-width:0.1px;font-style:italic;">Chc</text>
<text x="1.5" y="573.6" fill="#000" text-anchor="start" style="font-size:9.2px;stroke:#000;stroke-width:0.1px;font-style:italic;">SChc</text>
<text x="797.6" y="573.6" fill="#000" text-anchor="end" style="font-size:9.2px;stroke:#000;stroke-width:0.1px;font-style:italic;">SChc</text>
<rect x="750" y="510" width="50" height="12" fill="#000"/>
<rect x="751" y="511" width="48" height="10" fill="#ff0000"/>
<text x="754.6" y="519.1" fill="#fff" text-anchor="start" style="font-size:9.3px;stroke:#fff;stroke-width:0.5px;" textLength="40.6" lengthAdjust="spacing">Thunder</text>
<rect x="0" y="510" width="800" height="1" fill="#000"/>
<rect x="0" y="599" width="800" height="1" fill="#000"/>
<rect x="0" y="510" width="1" height="90" fill="#000"/>
<rect x="799" y="510" width="1" height="90" fill="#000"/>
<rect x="0" y="600" width="800" height="90" fill="#fff"/>
<rect x="1" y="601" width="137" height="88" fill="#e6e6e6"/>
<rect x="301" y="601" width="229" height="88" fill="#e6e6e6"/>
<rect x="693" y="601" width="106" height="88" fill="#e6e6e6"/>
<rect x="16" y="601" width="1" height="88" fill="#cccccc"/>
<rect x="33" y="601" width="1" height="88" fill="#cccccc"/>
<rect x="49" y="601" width="1" height="88" fill="#cccccc"/>
<rect x="65" y="601" width="1" height="88" fill="#cccccc"/>
<rect x="82" y="601" width="1" height="88" fill="#cccccc"/>
<rect x="98" y="601" width="1" height="88" fill="#cccccc"/>
<rect x="114" y="601" width="1" height="88" fill="#cccccc"/>
<rect x="131" y="601" width="1" height="88" fill="#cccccc"/>
<rect x="147" y="601" width="1" height="88" fill="#cccccc"/>
<rect x="163" y="601" width="1" height="88" fill="#cccccc"/>
<rect x="180" y="601" width="1" height="88" fill="#cccccc"/>
<rect x="196" y="601" width="1" height="88" fill="#cccccc"/>
<rect x="212" y="601" width="1" height="88" fill="#cccccc"/>
<rect x="229" y="601" width="1" height="88" fill="#cccccc"/>
<rect x="245" y="601" width="1" height="88" fill="#cccccc"/>
<rect x="261" y="601" width="1" height="88" fill="#cccccc"/>
<rect x="278" y="601" width="1" height="88" fill="#cccccc"/>
<rect x="294" y="601" width="1" height="88" fill="#cccccc"/>
<rect x="310" y="601" width="1" height="88" fill="#cccccc"/>
<rect x="327" y="601" width="1" height="88" fill="#cccccc"/>
<rect x="343" y="601" width="1" height="88" fill="#cccccc"/>
<rect x="359" y="601" width="1" height="88" fill="#cccccc"/>
<rect x="376" y="601" width="1" height="88" fill="#cccccc"/>
<rect x="392" y="601" width="1" height="88" fill="#cccccc"/>
<rect x="408" y="601" width="1" height="88" fill="#cccccc"/>
<rect x="424" y="601" width="1" height="88" fill="#cccccc"/>
<rect x="441" y="601" width="1" height="88" fill="#cccccc"/>
<rect x="457" y="601" width="1" height="88" fill="#cccccc"/>
<rect x="473" y="601" width="1" height="88" fill="#cccccc"/>
<rect x="490" y="601" width="1" height="88" fill="#cccccc"/>
<rect x="506" y="601" width="1" height="88" fill="#cccccc"/>
<rect x="522" y="601" width="1" height="88" fill="#cccccc"/>
<rect x="539" y="601" width="1" height="88" fill="#cccccc"/>
<rect x="555" y="601" width="1" height="88" fill="#cccccc"/>
<rect x="571" y="601" width="1" height="88" fill="#cccccc"/>
<rect x="588" y="601" width="1" height="88" fill="#cccccc"/>
<rect x="604" y="601" width="1" height="88" fill="#cccccc"/>
<rect x="620" y="601" width="1" height="88" fill="#cccccc"/>
<rect x="637" y="601" width="1" height="88" fill="#cccccc"/>
<rect x="653" y="601" width="1" height="88" fill="#cccccc"/>
<rect x="669" y="601" width="1" height="88" fill="#cccccc"/>
<rect x="686" y="601" width="1" height="88" fill="#cccccc"/>
<rect x="702" y="601" width="1" height="88" fill="#cccccc"/>
<rect x="718" y="601" width="1" height="88" fill="#cccccc"/>
<rect x="735" y="601" width="1" height="88" fill="#cccccc"/>
<rect x="751" y="601" width="1" height="88" fill="#cccccc"/>
<rect x="767" y="601" width="1" height="88" fill="#cccccc"/>
<rect x="784" y="601" width="1" height="88" fill="#cccccc"/>
<rect x="1" y="615" width="798" height="1" fill="#cccccc"/>
<rect x="1" y="630" width="798" height="1" fill="#cccccc"/>
<rect x="1" y="645" width="798" height="1" fill="#cccccc"/>
<rect x="1" y="660" width="798" height="1" fill="#cccccc"/>
<rect x="1" y="675" width="798" height="1" fill="#cccccc"/>
<rect x="16" y="601" width="1" height="10" fill="#333"/>
<rect x="16" y="680" width="1" height="9" fill="#333"/>
<text x="17.9" y="609.7" fill="#000" text-anchor="start" style="font-size:9.5px;stroke:#000;stroke-width:0.1px;" textLength="71.5" lengthAdjust="spacing">Fri, Dec 23 2022</text>
<rect x="408" y="601" width="1" height="10" fill="#333"/>
<rect x="408" y="680" width="1" height="9" fill="#333"/>
<text x="409.9" y="609.7" fill="#000" text-anchor="start" style="font-size:9.5px;stroke:#000;stroke-width:0.1px;" textLength="73.6" lengthAdjust="spacing">Sat, Dec 24 2022</text>
<text x="49.5" y="686.8" fill="#000" text-anchor="middle" style="font-size:9.2px;stroke:#000;stroke-width:0.1px;font-style:italic;">2am</text>
<text x="98.5" y="686.8" fill="#000" text-anchor="middle" style="font-size:9.2px;stroke:#000;stroke-width:0.1px;font-style:italic;">5am</text>
<text x="147.5" y="686.8" fill="#000" text-anchor="middle" style="font-size:9.2px;stroke:#000;stroke-width:0.1px;font-style:italic;">8am</text>
<text x="196.5" y="686.8" fill="#000" text-anchor="middle" style="font-size:9.2px;stroke:#000;stroke-width:0.1px;font-style:italic;">11am</text>
<text x="245.5" y="686.8" fill="#000" text-anchor="middle" style="font-size:9.2px;stroke:#000;stroke-width:0.1px;font-style:italic;">2pm</text>
<text x="294.5" y="686.8" fill="#000" text-anchor="middle" style="font-size:9.2px;stroke:#000;stroke-width:0.1px;font-style:italic;">5pm</text>
<text x="343.5" y="686.8" fill="#000" text-anchor="middle" style="font-size:9.2px;stroke:#000;stroke-width:0.1px;font-style:italic;">8pm</text>
<text x="392.5" y="686.8" fill="#000" text-anchor="middle" style="font-size:9.2px;stroke:#000;stroke-width:0.1px;font-style:italic;">11pm</text>
<text x="441.5" y="686.8" fill="#000" text-anchor="middle" style="font-size:9.2px;stroke:#000;stroke-width:0.1px;font-style:italic;">2am</text>
<text x="490.5" y="686.8" fill="#000" text-anchor="middle" style="font-size:9.2px;stroke:#000;stroke-width:0.1px;font-style:italic;">5am</text>
<text x="539.5" y="686.8" fill="#000" text-anchor="middle" style="font-size:9.2px;stroke:#000;stroke-width:0.1px;font-style:italic;">8am</text>
<text x="588.5" y="686.8" fill="#000" text-anchor="middle" style="font-size:9.2px;stroke:#000;stroke-width:0.1px;font-style:italic;">11am</text>
<text x="637.5" y="686.8" fill="#000" text-anchor="middle" style="font-size:9.2px;stroke:#000;stroke-width:0.1px;font-style:italic;">2pm</text>
<text x="686.5" y="686.8" fill="#000" text-anchor="middle" style="font-size:9.2px;stroke:#000;stroke-width:0.1px;font-style:italic;">5pm</text>
<text x="735.5" y="686.8" fill="#000" text-anchor="middle" style="font-size:9.2px;stroke:#000;stroke-width:0.1px;font-style:italic;">8pm</text>
<text x="784.5" y="686.8" fill="#000" text-anchor="middle" style="font-size:9.2px;stroke:#000;stroke-width:0.1px;font-style:italic;">11pm</text>
<text x="1.5" y="618.6" fill="#000" text-anchor="start" style="font-size:9.2px;stroke:#000;stroke-width:0.1px;font-style:italic;">Ocnl</text>
<text x="797.6" y="618.6" fill="#000" text-anchor="end" style="font-size:9.2px;stroke:#000;stroke-width:0.1px;font-style:italic;">Ocnl</text>
<text x="1.5" y="632.7" fill="#000" text-anchor="start" style="font-size:9.2px;stroke:#000;stroke-width:0.1px;font-style:italic;">Lkly</text>
<text x="797.6" y="632.7" fill="#000" text-anchor="end" style="font-size:9.2px;stroke:#000;stroke-width:0.1px;font-style:italic;">Lkly</text>
<text x="1.5" y="648.6" fill="#000" text-anchor="start" style="font-size:9.2px;stroke:#000;stroke-width:0.1px;font-style:italic;">Chc</text>
<text x="797.6" y="648.6" fill="#000" text-anchor="end" style="font-size:9.2px;stroke:#000;stroke-width:0.1px;font-style:italic;">Chc</text>
<text x="1.5" y="663.6" fill="#000" text-anchor="start" style="font-size:9.2px;stroke:#000;stroke-width:0.1px;font-style:italic;">SChc</text>
<text x="797.6" y="663.6" fill="#000" text-anchor="end" style="font-size:9.2px;stroke:#000;stroke-width:0.1px;font-style:italic;">SChc</text>
<rect x="522" y="662" width="278" height="11" fill="#000"/>
<rect x="523" y="663" width="276" height="9" fill="#ffffcc"/>
<clipPath id="yc600"><rect x="523" y="662" width="276" height="11"/></clipPath>
<g clip-path="url(#yc600)">
<text x="630.1" y="671" fill="#000" text-anchor="start" style="font-size:9.5px;stroke:#000;stroke-width:0.1px;letter-spacing:0px;">Snow</text>
<text x="657.9" y="671" fill="#000" text-anchor="start" style="font-size:9.5px;stroke:#000;stroke-width:0.1px;letter-spacing:0.5px;">amount</text>
<text x="695.9" y="671" fill="#000" text-anchor="start" style="font-size:9.5px;stroke:#000;stroke-width:0.1px;letter-spacing:0.2px;">forecast</text>
<text x="734.3" y="671" fill="#000" text-anchor="start" style="font-size:9.5px;stroke:#000;stroke-width:0.1px;letter-spacing:0.25px;">data</text>
<text x="759.3" y="671" fill="#000" text-anchor="start" style="font-size:9.5px;stroke:#000;stroke-width:0.1px;letter-spacing:0.15px;">is</text>
<text x="769.6999999999999" y="671" fill="#000" text-anchor="start" style="font-size:9.5px;stroke:#000;stroke-width:0.1px;letter-spacing:0.38px;">unavailable</text>
</g>
<rect x="762" y="600" width="38" height="12" fill="#000"/>
<rect x="763" y="601" width="36" height="10" fill="#0099cc"/>
<text x="766.5" y="609.1" fill="#fff" text-anchor="start" style="font-size:9.3px;stroke:#fff;stroke-width:0.5px;" textLength="27.4" lengthAdjust="spacing">Snow</text>
<rect x="0" y="600" width="800" height="1" fill="#000"/>
<rect x="0" y="689" width="800" height="1" fill="#000"/>
<rect x="0" y="600" width="1" height="90" fill="#000"/>
<rect x="799" y="600" width="1" height="90" fill="#000"/>
<rect x="0" y="690" width="800" height="90" fill="#fff"/>
<rect x="1" y="691" width="137" height="88" fill="#e6e6e6"/>
<rect x="301" y="691" width="229" height="88" fill="#e6e6e6"/>
<rect x="693" y="691" width="106" height="88" fill="#e6e6e6"/>
<rect x="16" y="691" width="1" height="88" fill="#cccccc"/>
<rect x="33" y="691" width="1" height="88" fill="#cccccc"/>
<rect x="49" y="691" width="1" height="88" fill="#cccccc"/>
<rect x="65" y="691" width="1" height="88" fill="#cccccc"/>
<rect x="82" y="691" width="1" height="88" fill="#cccccc"/>
<rect x="98" y="691" width="1" height="88" fill="#cccccc"/>
<rect x="114" y="691" width="1" height="88" fill="#cccccc"/>
<rect x="131" y="691" width="1" height="88" fill="#cccccc"/>
<rect x="147" y="691" width="1" height="88" fill="#cccccc"/>
<rect x="163" y="691" width="1" height="88" fill="#cccccc"/>
<rect x="180" y="691" width="1" height="88" fill="#cccccc"/>
<rect x="196" y="691" width="1" height="88" fill="#cccccc"/>
<rect x="212" y="691" width="1" height="88" fill="#cccccc"/>
<rect x="229" y="691" width="1" height="88" fill="#cccccc"/>
<rect x="245" y="691" width="1" height="88" fill="#cccccc"/>
<rect x="261" y="691" width="1" height="88" fill="#cccccc"/>
<rect x="278" y="691" width="1" height="88" fill="#cccccc"/>
<rect x="294" y="691" width="1" height="88" fill="#cccccc"/>
<rect x="310" y="691" width="1" height="88" fill="#cccccc"/>
<rect x="327" y="691" width="1" height="88" fill="#cccccc"/>
<rect x="343" y="691" width="1" height="88" fill="#cccccc"/>
<rect x="359" y="691" width="1" height="88" fill="#cccccc"/>
<rect x="376" y="691" width="1" height="88" fill="#cccccc"/>
<rect x="392" y="691" width="1" height="88" fill="#cccccc"/>
<rect x="408" y="691" width="1" height="88" fill="#cccccc"/>
<rect x="424" y="691" width="1" height="88" fill="#cccccc"/>
<rect x="441" y="691" width="1" height="88" fill="#cccccc"/>
<rect x="457" y="691" width="1" height="88" fill="#cccccc"/>
<rect x="473" y="691" width="1" height="88" fill="#cccccc"/>
<rect x="490" y="691" width="1" height="88" fill="#cccccc"/>
<rect x="506" y="691" width="1" height="88" fill="#cccccc"/>
<rect x="522" y="691" width="1" height="88" fill="#cccccc"/>
<rect x="539" y="691" width="1" height="88" fill="#cccccc"/>
<rect x="555" y="691" width="1" height="88" fill="#cccccc"/>
<rect x="571" y="691" width="1" height="88" fill="#cccccc"/>
<rect x="588" y="691" width="1" height="88" fill="#cccccc"/>
<rect x="604" y="691" width="1" height="88" fill="#cccccc"/>
<rect x="620" y="691" width="1" height="88" fill="#cccccc"/>
<rect x="637" y="691" width="1" height="88" fill="#cccccc"/>
<rect x="653" y="691" width="1" height="88" fill="#cccccc"/>
<rect x="669" y="691" width="1" height="88" fill="#cccccc"/>
<rect x="686" y="691" width="1" height="88" fill="#cccccc"/>
<rect x="702" y="691" width="1" height="88" fill="#cccccc"/>
<rect x="718" y="691" width="1" height="88" fill="#cccccc"/>
<rect x="735" y="691" width="1" height="88" fill="#cccccc"/>
<rect x="751" y="691" width="1" height="88" fill="#cccccc"/>
<rect x="767" y="691" width="1" height="88" fill="#cccccc"/>
<rect x="784" y="691" width="1" height="88" fill="#cccccc"/>
<rect x="1" y="705" width="798" height="1" fill="#cccccc"/>
<rect x="1" y="720" width="798" height="1" fill="#cccccc"/>
<rect x="1" y="735" width="798" height="1" fill="#cccccc"/>
<rect x="1" y="750" width="798" height="1" fill="#cccccc"/>
<rect x="1" y="765" width="798" height="1" fill="#cccccc"/>
<rect x="16" y="691" width="1" height="10" fill="#333"/>
<rect x="16" y="770" width="1" height="9" fill="#333"/>
<text x="17.9" y="699.7" fill="#000" text-anchor="start" style="font-size:9.5px;stroke:#000;stroke-width:0.1px;" textLength="71.5" lengthAdjust="spacing">Fri, Dec 23 2022</text>
<rect x="408" y="691" width="1" height="10" fill="#333"/>
<rect x="408" y="770" width="1" height="9" fill="#333"/>
<text x="409.9" y="699.7" fill="#000" text-anchor="start" style="font-size:9.5px;stroke:#000;stroke-width:0.1px;" textLength="73.6" lengthAdjust="spacing">Sat, Dec 24 2022</text>
<text x="49.5" y="776.8" fill="#000" text-anchor="middle" style="font-size:9.2px;stroke:#000;stroke-width:0.1px;font-style:italic;">2am</text>
<text x="98.5" y="776.8" fill="#000" text-anchor="middle" style="font-size:9.2px;stroke:#000;stroke-width:0.1px;font-style:italic;">5am</text>
<text x="147.5" y="776.8" fill="#000" text-anchor="middle" style="font-size:9.2px;stroke:#000;stroke-width:0.1px;font-style:italic;">8am</text>
<text x="196.5" y="776.8" fill="#000" text-anchor="middle" style="font-size:9.2px;stroke:#000;stroke-width:0.1px;font-style:italic;">11am</text>
<text x="245.5" y="776.8" fill="#000" text-anchor="middle" style="font-size:9.2px;stroke:#000;stroke-width:0.1px;font-style:italic;">2pm</text>
<text x="294.5" y="776.8" fill="#000" text-anchor="middle" style="font-size:9.2px;stroke:#000;stroke-width:0.1px;font-style:italic;">5pm</text>
<text x="343.5" y="776.8" fill="#000" text-anchor="middle" style="font-size:9.2px;stroke:#000;stroke-width:0.1px;font-style:italic;">8pm</text>
<text x="392.5" y="776.8" fill="#000" text-anchor="middle" style="font-size:9.2px;stroke:#000;stroke-width:0.1px;font-style:italic;">11pm</text>
<text x="441.5" y="776.8" fill="#000" text-anchor="middle" style="font-size:9.2px;stroke:#000;stroke-width:0.1px;font-style:italic;">2am</text>
<text x="490.5" y="776.8" fill="#000" text-anchor="middle" style="font-size:9.2px;stroke:#000;stroke-width:0.1px;font-style:italic;">5am</text>
<text x="539.5" y="776.8" fill="#000" text-anchor="middle" style="font-size:9.2px;stroke:#000;stroke-width:0.1px;font-style:italic;">8am</text>
<text x="588.5" y="776.8" fill="#000" text-anchor="middle" style="font-size:9.2px;stroke:#000;stroke-width:0.1px;font-style:italic;">11am</text>
<text x="637.5" y="776.8" fill="#000" text-anchor="middle" style="font-size:9.2px;stroke:#000;stroke-width:0.1px;font-style:italic;">2pm</text>
<text x="686.5" y="776.8" fill="#000" text-anchor="middle" style="font-size:9.2px;stroke:#000;stroke-width:0.1px;font-style:italic;">5pm</text>
<text x="735.5" y="776.8" fill="#000" text-anchor="middle" style="font-size:9.2px;stroke:#000;stroke-width:0.1px;font-style:italic;">8pm</text>
<text x="784.5" y="776.8" fill="#000" text-anchor="middle" style="font-size:9.2px;stroke:#000;stroke-width:0.1px;font-style:italic;">11pm</text>
<text x="1.5" y="708.6" fill="#000" text-anchor="start" style="font-size:9.2px;stroke:#000;stroke-width:0.1px;font-style:italic;">Ocnl</text>
<text x="797.6" y="708.6" fill="#000" text-anchor="end" style="font-size:9.2px;stroke:#000;stroke-width:0.1px;font-style:italic;">Ocnl</text>
<text x="1.5" y="722.7" fill="#000" text-anchor="start" style="font-size:9.2px;stroke:#000;stroke-width:0.1px;font-style:italic;">Lkly</text>
<text x="797.6" y="722.7" fill="#000" text-anchor="end" style="font-size:9.2px;stroke:#000;stroke-width:0.1px;font-style:italic;">Lkly</text>
<text x="1.5" y="738.6" fill="#000" text-anchor="start" style="font-size:9.2px;stroke:#000;stroke-width:0.1px;font-style:italic;">Chc</text>
<text x="797.6" y="738.6" fill="#000" text-anchor="end" style="font-size:9.2px;stroke:#000;stroke-width:0.1px;font-style:italic;">Chc</text>
<text x="1.5" y="753.6" fill="#000" text-anchor="start" style="font-size:9.2px;stroke:#000;stroke-width:0.1px;font-style:italic;">SChc</text>
<text x="797.6" y="753.6" fill="#000" text-anchor="end" style="font-size:9.2px;stroke:#000;stroke-width:0.1px;font-style:italic;">SChc</text>
<rect x="522" y="752" width="278" height="11" fill="#000"/>
<rect x="523" y="753" width="276" height="9" fill="#ffffcc"/>
<clipPath id="yc690"><rect x="523" y="752" width="276" height="11"/></clipPath>
<g clip-path="url(#yc690)">
<text x="636.4" y="761" fill="#000" text-anchor="start" style="font-size:9.5px;stroke:#000;stroke-width:0.1px;letter-spacing:-0.5px;">Ice</text>
<text x="651.1" y="761" fill="#000" text-anchor="start" style="font-size:9.5px;stroke:#000;stroke-width:0.1px;letter-spacing:0.5px;">amount</text>
<text x="689.1" y="761" fill="#000" text-anchor="start" style="font-size:9.5px;stroke:#000;stroke-width:0.1px;letter-spacing:0.2px;">forecast</text>
<text x="727.5" y="761" fill="#000" text-anchor="start" style="font-size:9.5px;stroke:#000;stroke-width:0.1px;letter-spacing:0.25px;">data</text>
<text x="752.5" y="761" fill="#000" text-anchor="start" style="font-size:9.5px;stroke:#000;stroke-width:0.1px;letter-spacing:0.15px;">is</text>
<text x="762.9" y="761" fill="#000" text-anchor="start" style="font-size:9.5px;stroke:#000;stroke-width:0.1px;letter-spacing:0.38px;">unavailable</text>
</g>
<rect x="722" y="690" width="78" height="12" fill="#000"/>
<rect x="723" y="691" width="76" height="10" fill="#cc99cc"/>
<text x="726.2" y="699.1" fill="#fff" text-anchor="start" style="font-size:9.3px;stroke:#fff;stroke-width:0.5px;" textLength="67.9" lengthAdjust="spacing">Freezing Rain</text>
<rect x="0" y="690" width="800" height="1" fill="#000"/>
<rect x="0" y="779" width="800" height="1" fill="#000"/>
<rect x="0" y="690" width="1" height="90" fill="#000"/>
<rect x="799" y="690" width="1" height="90" fill="#000"/>
<rect x="0" y="780" width="800" height="90" fill="#fff"/>
<rect x="1" y="781" width="137" height="88" fill="#e6e6e6"/>
<rect x="301" y="781" width="229" height="88" fill="#e6e6e6"/>
<rect x="693" y="781" width="106" height="88" fill="#e6e6e6"/>
<rect x="16" y="781" width="1" height="88" fill="#cccccc"/>
<rect x="33" y="781" width="1" height="88" fill="#cccccc"/>
<rect x="49" y="781" width="1" height="88" fill="#cccccc"/>
<rect x="65" y="781" width="1" height="88" fill="#cccccc"/>
<rect x="82" y="781" width="1" height="88" fill="#cccccc"/>
<rect x="98" y="781" width="1" height="88" fill="#cccccc"/>
<rect x="114" y="781" width="1" height="88" fill="#cccccc"/>
<rect x="131" y="781" width="1" height="88" fill="#cccccc"/>
<rect x="147" y="781" width="1" height="88" fill="#cccccc"/>
<rect x="163" y="781" width="1" height="88" fill="#cccccc"/>
<rect x="180" y="781" width="1" height="88" fill="#cccccc"/>
<rect x="196" y="781" width="1" height="88" fill="#cccccc"/>
<rect x="212" y="781" width="1" height="88" fill="#cccccc"/>
<rect x="229" y="781" width="1" height="88" fill="#cccccc"/>
<rect x="245" y="781" width="1" height="88" fill="#cccccc"/>
<rect x="261" y="781" width="1" height="88" fill="#cccccc"/>
<rect x="278" y="781" width="1" height="88" fill="#cccccc"/>
<rect x="294" y="781" width="1" height="88" fill="#cccccc"/>
<rect x="310" y="781" width="1" height="88" fill="#cccccc"/>
<rect x="327" y="781" width="1" height="88" fill="#cccccc"/>
<rect x="343" y="781" width="1" height="88" fill="#cccccc"/>
<rect x="359" y="781" width="1" height="88" fill="#cccccc"/>
<rect x="376" y="781" width="1" height="88" fill="#cccccc"/>
<rect x="392" y="781" width="1" height="88" fill="#cccccc"/>
<rect x="408" y="781" width="1" height="88" fill="#cccccc"/>
<rect x="424" y="781" width="1" height="88" fill="#cccccc"/>
<rect x="441" y="781" width="1" height="88" fill="#cccccc"/>
<rect x="457" y="781" width="1" height="88" fill="#cccccc"/>
<rect x="473" y="781" width="1" height="88" fill="#cccccc"/>
<rect x="490" y="781" width="1" height="88" fill="#cccccc"/>
<rect x="506" y="781" width="1" height="88" fill="#cccccc"/>
<rect x="522" y="781" width="1" height="88" fill="#cccccc"/>
<rect x="539" y="781" width="1" height="88" fill="#cccccc"/>
<rect x="555" y="781" width="1" height="88" fill="#cccccc"/>
<rect x="571" y="781" width="1" height="88" fill="#cccccc"/>
<rect x="588" y="781" width="1" height="88" fill="#cccccc"/>
<rect x="604" y="781" width="1" height="88" fill="#cccccc"/>
<rect x="620" y="781" width="1" height="88" fill="#cccccc"/>
<rect x="637" y="781" width="1" height="88" fill="#cccccc"/>
<rect x="653" y="781" width="1" height="88" fill="#cccccc"/>
<rect x="669" y="781" width="1" height="88" fill="#cccccc"/>
<rect x="686" y="781" width="1" height="88" fill="#cccccc"/>
<rect x="702" y="781" width="1" height="88" fill="#cccccc"/>
<rect x="718" y="781" width="1" height="88" fill="#cccccc"/>
<rect x="735" y="781" width="1" height="88" fill="#cccccc"/>
<rect x="751" y="781" width="1" height="88" fill="#cccccc"/>
<rect x="767" y="781" width="1" height="88" fill="#cccccc"/>
<rect x="784" y="781" width="1" height="88" fill="#cccccc"/>
<rect x="1" y="795" width="798" height="1" fill="#cccccc"/>
<rect x="1" y="810" width="798" height="1" fill="#cccccc"/>
<rect x="1" y="825" width="798" height="1" fill="#cccccc"/>
<rect x="1" y="840" width="798" height="1" fill="#cccccc"/>
<rect x="1" y="855" width="798" height="1" fill="#cccccc"/>
<rect x="16" y="781" width="1" height="10" fill="#333"/>
<rect x="16" y="860" width="1" height="9" fill="#333"/>
<text x="17.9" y="789.7" fill="#000" text-anchor="start" style="font-size:9.5px;stroke:#000;stroke-width:0.1px;" textLength="71.5" lengthAdjust="spacing">Fri, Dec 23 2022</text>
<rect x="408" y="781" width="1" height="10" fill="#333"/>
<rect x="408" y="860" width="1" height="9" fill="#333"/>
<text x="409.9" y="789.7" fill="#000" text-anchor="start" style="font-size:9.5px;stroke:#000;stroke-width:0.1px;" textLength="73.6" lengthAdjust="spacing">Sat, Dec 24 2022</text>
<text x="49.5" y="866.8" fill="#000" text-anchor="middle" style="font-size:9.2px;stroke:#000;stroke-width:0.1px;font-style:italic;">2am</text>
<text x="98.5" y="866.8" fill="#000" text-anchor="middle" style="font-size:9.2px;stroke:#000;stroke-width:0.1px;font-style:italic;">5am</text>
<text x="147.5" y="866.8" fill="#000" text-anchor="middle" style="font-size:9.2px;stroke:#000;stroke-width:0.1px;font-style:italic;">8am</text>
<text x="196.5" y="866.8" fill="#000" text-anchor="middle" style="font-size:9.2px;stroke:#000;stroke-width:0.1px;font-style:italic;">11am</text>
<text x="245.5" y="866.8" fill="#000" text-anchor="middle" style="font-size:9.2px;stroke:#000;stroke-width:0.1px;font-style:italic;">2pm</text>
<text x="294.5" y="866.8" fill="#000" text-anchor="middle" style="font-size:9.2px;stroke:#000;stroke-width:0.1px;font-style:italic;">5pm</text>
<text x="343.5" y="866.8" fill="#000" text-anchor="middle" style="font-size:9.2px;stroke:#000;stroke-width:0.1px;font-style:italic;">8pm</text>
<text x="392.5" y="866.8" fill="#000" text-anchor="middle" style="font-size:9.2px;stroke:#000;stroke-width:0.1px;font-style:italic;">11pm</text>
<text x="441.5" y="866.8" fill="#000" text-anchor="middle" style="font-size:9.2px;stroke:#000;stroke-width:0.1px;font-style:italic;">2am</text>
<text x="490.5" y="866.8" fill="#000" text-anchor="middle" style="font-size:9.2px;stroke:#000;stroke-width:0.1px;font-style:italic;">5am</text>
<text x="539.5" y="866.8" fill="#000" text-anchor="middle" style="font-size:9.2px;stroke:#000;stroke-width:0.1px;font-style:italic;">8am</text>
<text x="588.5" y="866.8" fill="#000" text-anchor="middle" style="font-size:9.2px;stroke:#000;stroke-width:0.1px;font-style:italic;">11am</text>
<text x="637.5" y="866.8" fill="#000" text-anchor="middle" style="font-size:9.2px;stroke:#000;stroke-width:0.1px;font-style:italic;">2pm</text>
<text x="686.5" y="866.8" fill="#000" text-anchor="middle" style="font-size:9.2px;stroke:#000;stroke-width:0.1px;font-style:italic;">5pm</text>
<text x="735.5" y="866.8" fill="#000" text-anchor="middle" style="font-size:9.2px;stroke:#000;stroke-width:0.1px;font-style:italic;">8pm</text>
<text x="784.5" y="866.8" fill="#000" text-anchor="middle" style="font-size:9.2px;stroke:#000;stroke-width:0.1px;font-style:italic;">11pm</text>
<text x="1.5" y="798.6" fill="#000" text-anchor="start" style="font-size:9.2px;stroke:#000;stroke-width:0.1px;font-style:italic;">Ocnl</text>
<text x="797.6" y="798.6" fill="#000" text-anchor="end" style="font-size:9.2px;stroke:#000;stroke-width:0.1px;font-style:italic;">Ocnl</text>
<text x="1.5" y="812.7" fill="#000" text-anchor="start" style="font-size:9.2px;stroke:#000;stroke-width:0.1px;font-style:italic;">Lkly</text>
<text x="797.6" y="812.7" fill="#000" text-anchor="end" style="font-size:9.2px;stroke:#000;stroke-width:0.1px;font-style:italic;">Lkly</text>
<text x="1.5" y="828.6" fill="#000" text-anchor="start" style="font-size:9.2px;stroke:#000;stroke-width:0.1px;font-style:italic;">Chc</text>
<text x="797.6" y="828.6" fill="#000" text-anchor="end" style="font-size:9.2px;stroke:#000;stroke-width:0.1px;font-style:italic;">Chc</text>
<text x="1.5" y="843.6" fill="#000" text-anchor="start" style="font-size:9.2px;stroke:#000;stroke-width:0.1px;font-style:italic;">SChc</text>
<text x="797.6" y="843.6" fill="#000" text-anchor="end" style="font-size:9.2px;stroke:#000;stroke-width:0.1px;font-style:italic;">SChc</text>
<rect x="764" y="780" width="36" height="12" fill="#000"/>
<rect x="765" y="781" width="34" height="10" fill="#ff6600"/>
<text x="768.4" y="789.1" fill="#fff" text-anchor="start" style="font-size:9.3px;stroke:#fff;stroke-width:0.5px;" textLength="26.3" lengthAdjust="spacing">Sleet</text>
<rect x="0" y="780" width="800" height="1" fill="#000"/>
<rect x="0" y="869" width="800" height="1" fill="#000"/>
<rect x="0" y="780" width="1" height="90" fill="#000"/>
<rect x="799" y="780" width="1" height="90" fill="#000"/>
</svg>
</body></html>
